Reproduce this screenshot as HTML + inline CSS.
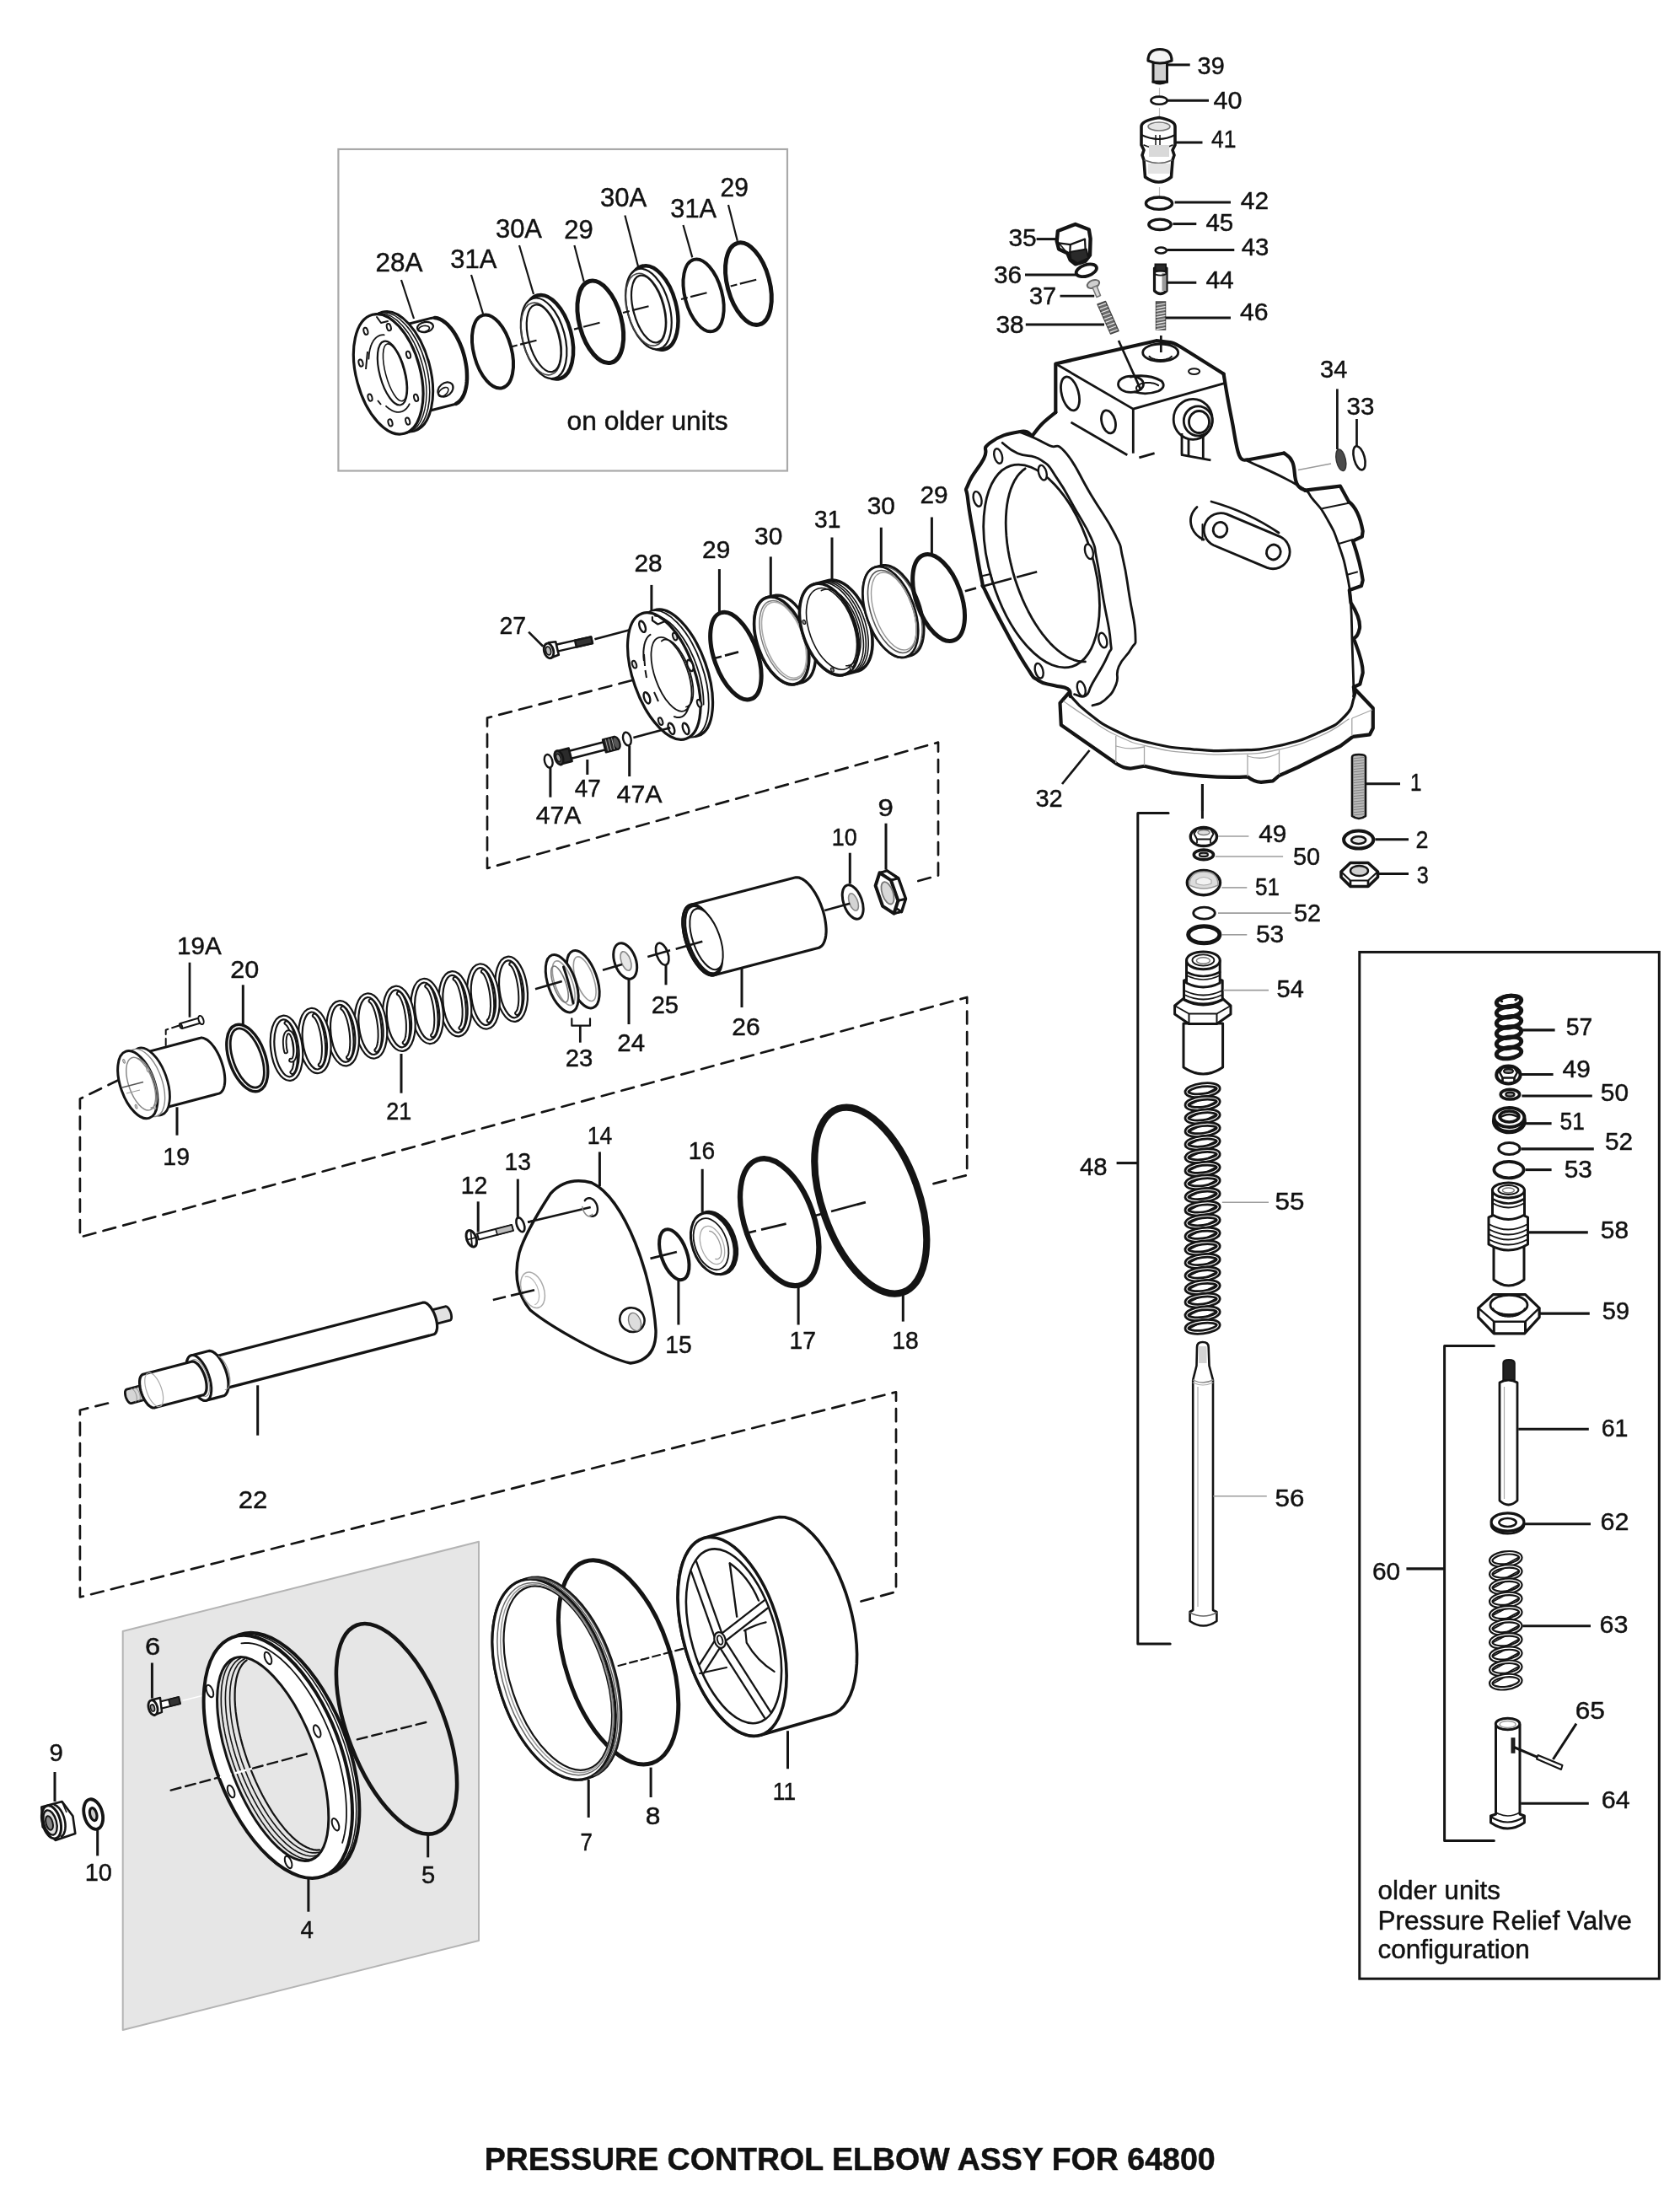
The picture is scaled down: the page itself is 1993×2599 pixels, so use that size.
<!DOCTYPE html>
<html><head><meta charset="utf-8"><title>Pressure Control Elbow Assy</title>
<style>
html,body{margin:0;padding:0;background:#fff;}
body{width:1993px;height:2599px;overflow:hidden;font-family:"Liberation Sans",sans-serif;}
svg{display:block;filter:grayscale(1);}
text{font-family:"Liberation Sans",sans-serif;fill:#111;stroke:#111;stroke-width:0.45px;}
</style></head><body>
<svg width="1993" height="2599" viewBox="0 0 1993 2599">
<rect x="0" y="0" width="1993" height="2599" fill="#ffffff"/>
<text x="574.7" y="2574.0" font-size="36" text-anchor="start" font-weight="bold" textLength="867.0" lengthAdjust="spacingAndGlyphs" >PRESSURE CONTROL ELBOW ASSY FOR 64800</text>
<rect x="401.4" y="177.0" width="532.6" height="381.5" fill="none" stroke="#a9a9a9" stroke-width="2.2" />
<text x="445.6" y="322.2" font-size="31.5" text-anchor="start" font-weight="normal" textLength="56.0" lengthAdjust="spacingAndGlyphs" >28A</text>
<text x="534.3" y="318.0" font-size="31.5" text-anchor="start" font-weight="normal" textLength="55.0" lengthAdjust="spacingAndGlyphs" >31A</text>
<text x="588.0" y="281.5" font-size="31.5" text-anchor="start" font-weight="normal" textLength="55.0" lengthAdjust="spacingAndGlyphs" >30A</text>
<text x="669.3" y="282.5" font-size="31.5" text-anchor="start" font-weight="normal" textLength="34.5" lengthAdjust="spacingAndGlyphs" >29</text>
<text x="712.0" y="244.6" font-size="31.5" text-anchor="start" font-weight="normal" textLength="55.3" lengthAdjust="spacingAndGlyphs" >30A</text>
<text x="795.3" y="257.7" font-size="31.5" text-anchor="start" font-weight="normal" textLength="54.7" lengthAdjust="spacingAndGlyphs" >31A</text>
<text x="854.6" y="232.5" font-size="31.5" text-anchor="start" font-weight="normal" textLength="33.4" lengthAdjust="spacingAndGlyphs" >29</text>
<text x="672.6" y="510.4" font-size="31.5" text-anchor="start" font-weight="normal" textLength="191.0" lengthAdjust="spacingAndGlyphs" >on older units</text>
<line x1="476.0" y1="332.0" x2="491.0" y2="378.0" stroke="#141414" stroke-width="2.2" />
<line x1="559.0" y1="326.0" x2="573.0" y2="372.0" stroke="#141414" stroke-width="2.2" />
<line x1="616.0" y1="291.0" x2="633.0" y2="349.0" stroke="#141414" stroke-width="2.2" />
<line x1="681.4" y1="291.0" x2="692.7" y2="334.0" stroke="#141414" stroke-width="2.2" />
<line x1="741.4" y1="255.4" x2="757.0" y2="316.0" stroke="#141414" stroke-width="2.2" />
<line x1="810.5" y1="267.0" x2="821.3" y2="305.4" stroke="#141414" stroke-width="2.2" />
<line x1="864.0" y1="242.9" x2="874.8" y2="285.7" stroke="#141414" stroke-width="2.2" />
<ellipse cx="584.5" cy="417.0" rx="22.4" ry="44.7" transform="rotate(-15 584.5 417.0)" fill="none" stroke="#141414" stroke-width="4" />
<ellipse cx="650.9" cy="399.8" rx="27.0" ry="51.0" transform="rotate(-15 650.9 399.8)" fill="#fff" stroke="#141414" stroke-width="4.5" />
<ellipse cx="645.1" cy="401.3" rx="25.0" ry="49.0" transform="rotate(-15 645.1 401.3)" fill="#fff" stroke="#141414" stroke-width="2.2" />
<ellipse cx="642.2" cy="402.0" rx="22.0" ry="44.0" transform="rotate(-15 642.2 402.0)" fill="none" stroke="#444" stroke-width="1.6" />
<ellipse cx="645.1" cy="401.3" rx="18.0" ry="41.0" transform="rotate(-15 645.1 401.3)" fill="#fff" stroke="#141414" stroke-width="2.2" />
<ellipse cx="712.3" cy="381.8" rx="25.0" ry="50.0" transform="rotate(-15 712.3 381.8)" fill="none" stroke="#141414" stroke-width="5" />
<ellipse cx="775.2" cy="365.0" rx="27.0" ry="51.0" transform="rotate(-15 775.2 365.0)" fill="#fff" stroke="#141414" stroke-width="4.5" />
<ellipse cx="769.4" cy="366.5" rx="25.0" ry="49.0" transform="rotate(-15 769.4 366.5)" fill="#fff" stroke="#141414" stroke-width="2.2" />
<ellipse cx="766.5" cy="367.2" rx="22.0" ry="44.0" transform="rotate(-15 766.5 367.2)" fill="none" stroke="#444" stroke-width="1.6" />
<ellipse cx="769.4" cy="366.5" rx="18.0" ry="41.0" transform="rotate(-15 769.4 366.5)" fill="#fff" stroke="#141414" stroke-width="2.2" />
<ellipse cx="834.6" cy="350.4" rx="22.0" ry="44.0" transform="rotate(-15 834.6 350.4)" fill="none" stroke="#141414" stroke-width="4" />
<ellipse cx="887.9" cy="336.6" rx="25.0" ry="50.0" transform="rotate(-15 887.9 336.6)" fill="none" stroke="#141414" stroke-width="5" />
<line x1="606.0" y1="411.5" x2="613.7" y2="409.5" stroke="#141414" stroke-width="2.2" />
<line x1="617.1" y1="408.6" x2="636.5" y2="403.7" stroke="#141414" stroke-width="2.2" />
<line x1="681.0" y1="390.6" x2="688.7" y2="388.6" stroke="#141414" stroke-width="2.2" />
<line x1="692.1" y1="387.7" x2="711.5" y2="382.8" stroke="#141414" stroke-width="2.2" />
<line x1="739.0" y1="371.0" x2="746.7" y2="369.0" stroke="#141414" stroke-width="2.2" />
<line x1="750.1" y1="368.1" x2="769.5" y2="363.2" stroke="#141414" stroke-width="2.2" />
<line x1="808.0" y1="355.0" x2="815.7" y2="353.0" stroke="#141414" stroke-width="2.2" />
<line x1="819.1" y1="352.1" x2="838.5" y2="347.2" stroke="#141414" stroke-width="2.2" />
<line x1="866.7" y1="339.5" x2="874.4" y2="337.5" stroke="#141414" stroke-width="2.2" />
<line x1="877.8" y1="336.6" x2="897.2" y2="331.7" stroke="#141414" stroke-width="2.2" />
<path d="M460.9,390.3 L511.3,377.4 L514.0,377.0 L516.9,377.1 L519.9,377.8 L522.9,379.0 L525.9,380.8 L528.9,383.2 L531.9,386.0 L534.8,389.2 L537.6,393.0 L540.3,397.1 L542.8,401.5 L545.1,406.3 L547.2,411.2 L549.0,416.4 L550.6,421.7 L551.9,427.1 L552.9,432.5 L553.6,437.9 L554.0,443.2 L554.0,448.3 L553.8,453.1 L553.2,457.8 L552.3,462.1 L551.1,466.0 L549.7,469.5 L547.9,472.6 L546.0,475.2 L543.7,477.2 L541.3,478.8 L538.7,479.8 L488.4,492.7 Z" fill="#fff" stroke="#141414" stroke-width="3" stroke-linejoin="round" stroke-linecap="round" />
<path d="M515.9,377.0 L517.9,377.3 L520.0,377.8 L522.1,378.6 L524.1,379.7 L526.2,381.1 L528.3,382.6 L530.4,384.4 L532.4,386.5 L534.4,388.7 L536.4,391.2 L538.3,393.9 L540.1,396.7 L541.8,399.7 L543.5,402.9 L545.1,406.2 L546.5,409.6 L547.9,413.1 L549.1,416.6 L550.2,420.3 L551.2,424.0 L552.0,427.7 L552.7,431.4 L553.3,435.1 L553.7,438.8 L553.9,442.4 L554.0,445.9 L554.0,449.4 L553.8,452.7 L553.5,456.0 L553.0,459.0 L552.3,462.0 L551.6,464.7 L550.7,467.3 L549.6,469.6 L548.4,471.8 L547.1,473.7 L545.7,475.4 L544.2,476.9 L542.6,478.1 L540.9,479.0" fill="none" stroke="#141414" stroke-width="4.5" stroke-linejoin="round" stroke-linecap="round" />
<ellipse cx="504.5" cy="388.0" rx="9.5" ry="6.0" transform="rotate(-10 504.5 388.0)" fill="#fff" stroke="#141414" stroke-width="2.2" />
<ellipse cx="503.0" cy="390.0" rx="6.5" ry="3.5" transform="rotate(-10 503.0 390.0)" fill="none" stroke="#141414" stroke-width="1.6" />
<ellipse cx="528.5" cy="462.0" rx="10.0" ry="7.5" transform="rotate(-40 528.5 462.0)" fill="#fff" stroke="#141414" stroke-width="2.2" />
<ellipse cx="526.0" cy="465.0" rx="7.0" ry="4.0" transform="rotate(-40 526.0 465.0)" fill="none" stroke="#141414" stroke-width="1.6" />
<ellipse cx="472.3" cy="440.8" rx="38.0" ry="73.0" transform="rotate(-15 472.3 440.8)" fill="#fff" stroke="#141414" stroke-width="3" />
<ellipse cx="468.4" cy="441.8" rx="38.0" ry="73.0" transform="rotate(-15 468.4 441.8)" fill="#fff" stroke="#141414" stroke-width="1.6" />
<ellipse cx="464.6" cy="442.8" rx="38.0" ry="73.0" transform="rotate(-15 464.6 442.8)" fill="#fff" stroke="#141414" stroke-width="1.4" />
<ellipse cx="460.7" cy="443.8" rx="38.0" ry="73.0" transform="rotate(-15 460.7 443.8)" fill="#fff" stroke="#141414" stroke-width="3.2" />
<ellipse cx="465.5" cy="442.6" rx="15.0" ry="39.0" transform="rotate(-15 465.5 442.6)" fill="#fff" stroke="#141414" stroke-width="2.2" />
<ellipse cx="468.4" cy="441.8" rx="11.0" ry="35.0" transform="rotate(-15 468.4 441.8)" fill="none" stroke="#141414" stroke-width="1.6" />
<path d="M485.7,479.3 L485.3,480.1 L484.8,480.9 L484.4,481.7 L483.9,482.4 L483.3,483.1 L482.8,483.8 L482.3,484.4 L481.7,485.0 L481.1,485.5 L480.5,486.0 L479.9,486.5 L479.2,486.9 L478.6,487.3 L477.9,487.6 L477.3,487.9 L476.6,488.2 L475.9,488.4 L475.2,488.6 L474.4,488.7 L473.7,488.8 L473.0,488.9 L472.2,488.9 L471.5,488.8 L470.7,488.8 L469.9,488.6 L469.1,488.5 L468.3,488.3 L467.6,488.0 L466.8,487.7 L466.0,487.4 L465.2,487.0 L464.4,486.6 L463.6,486.1 L462.8,485.6 L462.0,485.1 L461.2,484.5 L460.4,483.9 L459.6,483.2 L458.8,482.6 L458.0,481.8" fill="none" stroke="#141414" stroke-width="1.8" stroke-linejoin="round" stroke-linecap="round" />
<path d="M437.4,425.7 L437.5,424.4 L437.6,423.2 L437.7,421.9 L437.8,420.7 L437.9,419.5 L438.1,418.3 L438.3,417.1 L438.5,416.0 L438.7,414.9 L439.0,413.8 L439.3,412.7 L439.6,411.7 L439.9,410.7 L440.2,409.7 L440.6,408.8 L441.0,407.8 L441.4,407.0 L441.9,406.1 L442.3,405.3 L442.8,404.5 L443.3,403.8 L443.8,403.1 L444.3,402.4 L444.9,401.8 L445.4,401.2 L446.0,400.7 L446.6,400.1 L447.2,399.7 L447.9,399.2 L448.5,398.9 L449.2,398.5 L449.9,398.2 L450.5,397.9 L451.2,397.7 L451.9,397.5 L452.7,397.4 L453.4,397.3 L454.1,397.2 L454.9,397.2 L455.7,397.3" fill="none" stroke="#141414" stroke-width="1.8" stroke-linejoin="round" stroke-linecap="round" />
<line x1="436.0" y1="417.0" x2="434.0" y2="438.0" stroke="#141414" stroke-width="2" />
<line x1="448.0" y1="475.0" x2="452.0" y2="480.0" stroke="#141414" stroke-width="2" />
<ellipse cx="433.9" cy="392.8" rx="2.4" ry="4.2" transform="rotate(-15 433.9 392.8)" fill="#fff" stroke="#141414" stroke-width="2" />
<ellipse cx="461.3" cy="388.1" rx="2.4" ry="4.2" transform="rotate(-15 461.3 388.1)" fill="#fff" stroke="#141414" stroke-width="2" />
<ellipse cx="484.5" cy="420.8" rx="2.4" ry="4.2" transform="rotate(-15 484.5 420.8)" fill="#fff" stroke="#141414" stroke-width="2" />
<ellipse cx="493.6" cy="471.8" rx="2.4" ry="4.2" transform="rotate(-15 493.6 471.8)" fill="#fff" stroke="#141414" stroke-width="2" />
<ellipse cx="483.7" cy="499.6" rx="2.4" ry="4.2" transform="rotate(-15 483.7 499.6)" fill="#fff" stroke="#141414" stroke-width="2" />
<ellipse cx="463.0" cy="501.4" rx="2.4" ry="4.2" transform="rotate(-15 463.0 501.4)" fill="#fff" stroke="#141414" stroke-width="2" />
<ellipse cx="439.0" cy="471.6" rx="2.4" ry="4.2" transform="rotate(-15 439.0 471.6)" fill="#fff" stroke="#141414" stroke-width="2" />
<ellipse cx="428.0" cy="430.6" rx="2.4" ry="4.2" transform="rotate(-15 428.0 430.6)" fill="#fff" stroke="#141414" stroke-width="2" />
<path d="M447,376 L452,383 L460,381" fill="none" stroke="#141414" stroke-width="2" stroke-linejoin="round" stroke-linecap="round" />
<rect x="1368.0" y="72.0" width="16.5" height="25.0" fill="#cfcfcf" stroke="#141414" stroke-width="3" />
<path d="M1368,97 Q1376,101 1384.5,97" fill="none" stroke="#141414" stroke-width="3" stroke-linejoin="round" stroke-linecap="round" />
<path d="M1362,72 Q1362,58.5 1376,58.5 Q1390,58.5 1390,72 Q1376,78 1362,72 Z" fill="#f4f4f4" stroke="#141414" stroke-width="3.2" stroke-linejoin="round" stroke-linecap="round" />
<line x1="1385.0" y1="76.9" x2="1411.7" y2="76.9" stroke="#141414" stroke-width="3.0" />
<text x="1420.6" y="87.6" font-size="30" text-anchor="start" font-weight="normal" textLength="32.1" lengthAdjust="spacingAndGlyphs" >39</text>
<line x1="1375.5" y1="104.0" x2="1375.5" y2="114.0" stroke="#bdbdbd" stroke-width="1.2" />
<line x1="1375.5" y1="128.0" x2="1375.5" y2="142.0" stroke="#bdbdbd" stroke-width="1.2" />
<line x1="1375.5" y1="222.0" x2="1375.5" y2="236.0" stroke="#bdbdbd" stroke-width="1.2" />
<ellipse cx="1375.0" cy="119.2" rx="9.6" ry="4.6" fill="none" stroke="#141414" stroke-width="2.6" />
<line x1="1385.0" y1="119.2" x2="1434.0" y2="119.2" stroke="#141414" stroke-width="3.0" />
<text x="1439.6" y="128.7" font-size="30" text-anchor="start" font-weight="normal" textLength="34.0" lengthAdjust="spacingAndGlyphs" >40</text>
<path d="M1354,150 Q1354,143 1375,139.5 Q1394,143 1394,150 L1394,172 L1391,178 L1393,184 L1391,190 L1389.5,210 Q1375,222 1358.5,210 L1357,190 L1355,184 L1357,178 L1354,172 Z" fill="#fff" stroke="#141414" stroke-width="3.6" stroke-linejoin="round" stroke-linecap="round" />
<path d="M1354,160 Q1375,170 1394,160" fill="none" stroke="#141414" stroke-width="2" stroke-linejoin="round" stroke-linecap="round" />
<ellipse cx="1375.0" cy="150.0" rx="13.0" ry="5.0" fill="#e4e4e4" stroke="#777" stroke-width="1.6" />
<path d="M1357,172 Q1375,180 1391,172" fill="none" stroke="#141414" stroke-width="1.6" stroke-linejoin="round" stroke-linecap="round" />
<path d="M1358,190 Q1375,197 1390,190" fill="none" stroke="#666" stroke-width="1.6" stroke-linejoin="round" stroke-linecap="round" />
<rect x="1363.0" y="172.0" width="24.0" height="14.0" fill="#d9d9d9" stroke="none" stroke-width="0" />
<rect x="1362.0" y="194.0" width="26.0" height="12.0" fill="#e3e3e3" stroke="none" stroke-width="0" />
<line x1="1371.0" y1="160.0" x2="1371.0" y2="172.0" stroke="#141414" stroke-width="1.5" />
<line x1="1376.0" y1="160.0" x2="1376.0" y2="172.0" stroke="#141414" stroke-width="1.5" />
<line x1="1393.0" y1="169.0" x2="1426.5" y2="169.0" stroke="#141414" stroke-width="3.0" />
<text x="1437.0" y="175.0" font-size="30" text-anchor="start" font-weight="normal" textLength="29.4" lengthAdjust="spacingAndGlyphs" >41</text>
<ellipse cx="1375.0" cy="241.2" rx="15.6" ry="7.2" fill="none" stroke="#141414" stroke-width="3.4" />
<line x1="1393.6" y1="239.9" x2="1460.0" y2="239.9" stroke="#141414" stroke-width="3.0" />
<text x="1471.8" y="248.3" font-size="30" text-anchor="start" font-weight="normal" textLength="33.2" lengthAdjust="spacingAndGlyphs" >42</text>
<ellipse cx="1376.0" cy="266.3" rx="13.2" ry="6.2" fill="none" stroke="#141414" stroke-width="3.4" />
<line x1="1391.4" y1="265.6" x2="1419.3" y2="265.6" stroke="#141414" stroke-width="3.0" />
<text x="1430.4" y="273.6" font-size="30" text-anchor="start" font-weight="normal" textLength="32.8" lengthAdjust="spacingAndGlyphs" >45</text>
<ellipse cx="1377.3" cy="297.0" rx="6.6" ry="3.5" fill="none" stroke="#141414" stroke-width="2.6" />
<line x1="1385.0" y1="296.5" x2="1464.3" y2="296.5" stroke="#141414" stroke-width="3.0" />
<text x="1472.8" y="303.1" font-size="30" text-anchor="start" font-weight="normal" textLength="32.6" lengthAdjust="spacingAndGlyphs" >43</text>
<path d="M1369.5,318 L1369.5,345 Q1376.5,352 1384,345 L1384,318 Z" fill="#fff" stroke="#141414" stroke-width="3.2" stroke-linejoin="round" stroke-linecap="round" />
<rect x="1370.5" y="313.5" width="12.5" height="8.0" fill="#2a2a2a" stroke="#141414" stroke-width="2" />
<rect x="1378.5" y="324.0" width="5.0" height="21.0" fill="#9a9a9a" stroke="none" stroke-width="0" />
<ellipse cx="1376.7" cy="324.0" rx="7.0" ry="2.6" fill="none" stroke="#141414" stroke-width="1.6" />
<line x1="1385.0" y1="335.3" x2="1419.3" y2="335.3" stroke="#141414" stroke-width="3.0" />
<text x="1430.4" y="342.1" font-size="30" text-anchor="start" font-weight="normal" textLength="33.4" lengthAdjust="spacingAndGlyphs" >44</text>
<rect x="1371.5" y="358.0" width="11.0" height="33.0" fill="#6a6a6a" stroke="#444" stroke-width="1.5" />
<line x1="1371.5" y1="362.0" x2="1382.5" y2="360.0" stroke="#e8e8e8" stroke-width="1.2" />
<line x1="1371.5" y1="365.6" x2="1382.5" y2="363.6" stroke="#e8e8e8" stroke-width="1.2" />
<line x1="1371.5" y1="369.2" x2="1382.5" y2="367.2" stroke="#e8e8e8" stroke-width="1.2" />
<line x1="1371.5" y1="372.8" x2="1382.5" y2="370.8" stroke="#e8e8e8" stroke-width="1.2" />
<line x1="1371.5" y1="376.4" x2="1382.5" y2="374.4" stroke="#e8e8e8" stroke-width="1.2" />
<line x1="1371.5" y1="380.0" x2="1382.5" y2="378.0" stroke="#e8e8e8" stroke-width="1.2" />
<line x1="1371.5" y1="383.6" x2="1382.5" y2="381.6" stroke="#e8e8e8" stroke-width="1.2" />
<line x1="1371.5" y1="387.2" x2="1382.5" y2="385.2" stroke="#e8e8e8" stroke-width="1.2" />
<line x1="1371.5" y1="390.8" x2="1382.5" y2="388.8" stroke="#e8e8e8" stroke-width="1.2" />
<line x1="1382.8" y1="376.9" x2="1460.0" y2="376.9" stroke="#141414" stroke-width="3.0" />
<text x="1471.0" y="379.6" font-size="30" text-anchor="start" font-weight="normal" textLength="33.6" lengthAdjust="spacingAndGlyphs" >46</text>
<line x1="1377.3" y1="398.0" x2="1377.3" y2="418.0" stroke="#141414" stroke-width="2.7" />
<path d="M1254.9,274.0 L1275.7,266.0 L1291.8,272.3 L1293.6,283.0 L1293.0,302.6 L1287.6,309.8 L1275.7,313.3 L1269.8,308.6 L1266.2,300.2 L1256.1,295.5 L1253.7,286.0 Z" fill="#fff" stroke="#141414" stroke-width="4.4" stroke-linejoin="round" stroke-linecap="round" />
<path d="M1269.2,299.0 L1288.8,295.5 L1291.2,306.2 L1278.1,312.1 L1270.4,307.4 Z" fill="#2a2a2a" stroke="#141414" stroke-width="2" stroke-linejoin="round" stroke-linecap="round" />
<path d="M1256.1,288.3 L1269.8,290.1 L1287.0,283.6" fill="none" stroke="#141414" stroke-width="2.2" stroke-linejoin="round" stroke-linecap="round" />
<line x1="1269.8" y1="290.1" x2="1269.2" y2="300.2" stroke="#141414" stroke-width="2.2" />
<line x1="1287.0" y1="283.6" x2="1287.6" y2="296.0" stroke="#141414" stroke-width="2.2" />
<line x1="1256.1" y1="288.3" x2="1266.2" y2="300.2" stroke="#141414" stroke-width="1.6" />
<line x1="1229.6" y1="283.6" x2="1254.3" y2="283.6" stroke="#141414" stroke-width="3.0" />
<text x="1196.4" y="292.4" font-size="30" text-anchor="start" font-weight="normal" textLength="33.2" lengthAdjust="spacingAndGlyphs" >35</text>
<ellipse cx="1288.8" cy="320.8" rx="12.6" ry="6.6" transform="rotate(-18 1288.8 320.8)" fill="none" stroke="#141414" stroke-width="3.8" />
<line x1="1216.0" y1="326.0" x2="1276.8" y2="326.0" stroke="#141414" stroke-width="3.0" />
<text x="1178.9" y="336.3" font-size="30" text-anchor="start" font-weight="normal" textLength="33.1" lengthAdjust="spacingAndGlyphs" >36</text>
<ellipse cx="1297.0" cy="337.0" rx="7.5" ry="4.6" transform="rotate(-20 1297.0 337.0)" fill="#cfcfcf" stroke="#666" stroke-width="2" />
<path d="M1296.0,341.0 L1301.0,352.5 L1305.5,350.5 L1301.0,339.0 Z" fill="#d8d8d8" stroke="#777" stroke-width="1.6" stroke-linejoin="round" stroke-linecap="round" />
<line x1="1257.5" y1="351.1" x2="1298.2" y2="351.1" stroke="#141414" stroke-width="2.7" />
<text x="1221.0" y="361.4" font-size="30" text-anchor="start" font-weight="normal" textLength="32.2" lengthAdjust="spacingAndGlyphs" >37</text>
<path d="M1302.0,361.0 L1311.5,357.5 L1327.0,392.5 L1317.5,396.0 Z" fill="#6a6a6a" stroke="#444" stroke-width="1.5" stroke-linejoin="round" stroke-linecap="round" />
<line x1="1303.0" y1="363.0" x2="1312.0" y2="359.6" stroke="#e8e8e8" stroke-width="1.2" />
<line x1="1304.7" y1="366.9" x2="1313.7" y2="363.5" stroke="#e8e8e8" stroke-width="1.2" />
<line x1="1306.4" y1="370.8" x2="1315.4" y2="367.4" stroke="#e8e8e8" stroke-width="1.2" />
<line x1="1308.2" y1="374.7" x2="1317.2" y2="371.3" stroke="#e8e8e8" stroke-width="1.2" />
<line x1="1309.9" y1="378.6" x2="1318.9" y2="375.2" stroke="#e8e8e8" stroke-width="1.2" />
<line x1="1311.6" y1="382.4" x2="1320.6" y2="379.0" stroke="#e8e8e8" stroke-width="1.2" />
<line x1="1313.3" y1="386.3" x2="1322.3" y2="382.9" stroke="#e8e8e8" stroke-width="1.2" />
<line x1="1315.1" y1="390.2" x2="1324.1" y2="386.8" stroke="#e8e8e8" stroke-width="1.2" />
<line x1="1316.8" y1="394.1" x2="1325.8" y2="390.7" stroke="#e8e8e8" stroke-width="1.2" />
<line x1="1216.8" y1="385.0" x2="1310.0" y2="385.0" stroke="#141414" stroke-width="3.0" />
<text x="1181.4" y="394.6" font-size="30" text-anchor="start" font-weight="normal" textLength="33.2" lengthAdjust="spacingAndGlyphs" >38</text>
<line x1="1327.0" y1="404.0" x2="1353.5" y2="462.9" stroke="#141414" stroke-width="2.7" />
<path d="M1208.9,512.2 C1213.7,514.2 1217.4,515.2 1227.0,519.6 C1236.6,524.0 1234.9,523.8 1245.0,528.6 C1255.1,533.4 1251.7,522.1 1264.8,537.7 C1277.9,553.3 1279.0,561.6 1294.3,587.0 C1309.6,612.4 1312.2,612.8 1322.3,633.0 C1332.4,653.2 1327.4,642.6 1332.1,662.6 C1336.8,682.6 1336.1,683.9 1340.0,708.0 C1343.9,732.1 1346.4,736.5 1346.9,752.9 C1347.4,769.3 1347.3,759.3 1342.0,769.4 C1336.7,779.5 1332.0,779.3 1327.2,790.7 C1322.4,802.1 1328.3,801.6 1323.9,812.1 C1319.5,822.6 1318.2,823.6 1310.8,830.2 C1303.4,836.8 1299.9,835.0 1296.0,836.8" fill="none" stroke="#141414" stroke-width="2.8" stroke-linejoin="round" stroke-linecap="round" />
<path d="M1224.5,517.1 C1220.3,515.8 1222.3,510.0 1208.9,512.2 C1195.5,514.4 1185.6,516.8 1174.4,525.3 C1163.2,533.8 1173.8,531.3 1167.0,544.2 C1160.2,557.1 1153.9,561.1 1148.9,573.8 C1143.9,586.5 1146.2,574.2 1148.1,591.9 C1150.0,609.6 1151.6,614.6 1156.0,640.0 C1160.4,665.4 1160.9,670.7 1164.5,687.2 C1168.1,703.7 1161.8,685.8 1169.4,702.0 C1177.0,718.2 1179.9,723.9 1193.0,748.0 C1206.1,772.1 1208.3,776.6 1218.7,792.4 C1229.1,808.2 1223.6,801.7 1231.9,807.2 C1240.2,812.7 1240.8,810.4 1250.0,813.0 C1259.2,815.6 1261.1,813.5 1266.4,817.0 C1271.7,820.5 1268.8,823.6 1269.7,826.0" fill="none" stroke="#141414" stroke-width="4.2" stroke-linejoin="round" stroke-linecap="round" />
<path d="M1189.2,525.3 C1194.0,528.6 1194.9,532.2 1207.2,537.7 C1219.5,543.2 1222.5,537.6 1235.2,545.9 C1247.9,554.2 1244.3,553.7 1254.9,568.9 C1265.5,584.1 1264.5,584.6 1275.0,603.0 C1285.5,621.4 1287.4,622.0 1294.3,637.9 C1301.2,653.8 1297.0,643.1 1300.9,662.6 C1304.8,682.1 1304.6,685.2 1309.0,711.0 C1313.4,736.8 1315.9,741.7 1317.3,759.5 C1318.7,777.3 1319.8,764.0 1314.1,777.6 C1308.4,791.2 1303.0,797.8 1296.0,810.5 C1289.0,823.2 1293.5,821.7 1287.8,825.2 C1282.1,828.7 1278.1,824.0 1274.6,823.6" fill="none" stroke="#141414" stroke-width="2.8" stroke-linejoin="round" stroke-linecap="round" />
<ellipse cx="1235.6" cy="671.5" rx="61.0" ry="124.5" transform="rotate(-17 1235.6 671.5)" fill="none" stroke="#141414" stroke-width="2.8" />
<path d="M1287.4,784.9 L1283.0,784.8 L1278.5,784.1 L1274.0,782.8 L1269.3,780.9 L1264.6,778.4 L1259.9,775.3 L1255.2,771.7 L1250.4,767.5 L1245.8,762.9 L1241.2,757.7 L1236.7,752.1 L1232.3,746.0 L1228.0,739.5 L1223.9,732.7 L1220.0,725.5 L1216.3,718.0 L1212.8,710.3 L1209.6,702.4 L1206.6,694.2 L1203.8,686.0 L1201.4,677.6 L1199.3,669.2 L1197.4,660.8 L1195.9,652.4 L1194.7,644.1 L1193.9,635.9 L1193.4,627.9 L1193.2,620.1 L1193.4,612.6 L1193.9,605.3 L1194.7,598.4 L1195.9,591.8 L1197.4,585.6 L1199.2,579.9 L1201.4,574.6 L1203.8,569.7 L1206.5,565.4 L1209.5,561.7 L1212.8,558.4 L1216.2,555.8" fill="none" stroke="#141414" stroke-width="2.8" stroke-linejoin="round" stroke-linecap="round" />
<ellipse cx="1184.2" cy="541.0" rx="4.6" ry="9.0" transform="rotate(-15 1184.2 541.0)" fill="#fff" stroke="#141414" stroke-width="2.4" />
<ellipse cx="1236.8" cy="560.7" rx="4.6" ry="9.0" transform="rotate(-15 1236.8 560.7)" fill="#fff" stroke="#141414" stroke-width="2.4" />
<ellipse cx="1159.6" cy="591.9" rx="4.6" ry="9.0" transform="rotate(-15 1159.6 591.9)" fill="#fff" stroke="#141414" stroke-width="2.4" />
<ellipse cx="1291.9" cy="654.3" rx="4.6" ry="9.0" transform="rotate(-15 1291.9 654.3)" fill="#fff" stroke="#141414" stroke-width="2.4" />
<ellipse cx="1308.3" cy="759.5" rx="4.6" ry="9.0" transform="rotate(-15 1308.3 759.5)" fill="#fff" stroke="#141414" stroke-width="2.4" />
<ellipse cx="1232.7" cy="795.7" rx="4.6" ry="9.0" transform="rotate(-15 1232.7 795.7)" fill="#fff" stroke="#141414" stroke-width="2.4" />
<ellipse cx="1282.8" cy="817.0" rx="4.6" ry="9.0" transform="rotate(-15 1282.8 817.0)" fill="#fff" stroke="#141414" stroke-width="2.4" />
<path d="M1166.0,683.0 L1175.0,681.0 L1178.0,692.0" fill="none" stroke="#141414" stroke-width="2.2" stroke-linejoin="round" stroke-linecap="round" />
<line x1="1144.8" y1="701.2" x2="1158.0" y2="697.6" stroke="#141414" stroke-width="2.7" />
<line x1="1164.0" y1="696.0" x2="1200.0" y2="686.3" stroke="#141414" stroke-width="2.7" />
<line x1="1206.0" y1="684.7" x2="1230.2" y2="678.2" stroke="#141414" stroke-width="2.7" />
<path d="M1224.5,517.1 C1226.4,514.8 1231.4,507.6 1236.0,503.0 C1240.6,498.4 1249.6,491.5 1252.3,489.2" fill="none" stroke="#141414" stroke-width="4.2" stroke-linejoin="round" stroke-linecap="round" />
<path d="M1252.3,489.2 L1252.3,431.5 L1371.7,404.2 L1387.9,406.2" fill="none" stroke="#141414" stroke-width="4.2" stroke-linejoin="round" stroke-linecap="round" />
<path d="M1387.9,406.2 C1389.2,406.7 1389.5,405.0 1398.0,410.0 C1406.5,415.0 1444.5,439.1 1451.6,443.6" fill="none" stroke="#141414" stroke-width="4.2" stroke-linejoin="round" stroke-linecap="round" />
<path d="M1451.6,443.6 C1452.5,448.9 1454.0,458.7 1456.0,470.0 C1458.0,481.3 1458.9,486.0 1461.7,500.0 C1464.5,514.0 1466.3,530.9 1470.0,540.0 C1473.7,549.1 1478.0,544.4 1480.0,545.5" fill="none" stroke="#141414" stroke-width="4.2" stroke-linejoin="round" stroke-linecap="round" />
<path d="M1480.0,545.5 L1523.3,537.5" fill="none" stroke="#141414" stroke-width="4.2" stroke-linejoin="round" stroke-linecap="round" />
<path d="M1523.3,537.5 C1525.6,540.0 1529.8,539.9 1533.3,548.3 C1536.8,556.7 1534.8,565.5 1538.3,573.3 C1541.8,581.1 1546.0,579.7 1548.3,581.7" fill="none" stroke="#141414" stroke-width="4.2" stroke-linejoin="round" stroke-linecap="round" />
<path d="M1252.3,431.5 L1344.3,485.1 L1451.6,454.8" fill="none" stroke="#141414" stroke-width="2.8" stroke-linejoin="round" stroke-linecap="round" />
<line x1="1344.3" y1="485.1" x2="1344.3" y2="537.7" stroke="#141414" stroke-width="2.8" />
<line x1="1270.5" y1="500.9" x2="1337.3" y2="539.8" stroke="#141414" stroke-width="2.8" />
<line x1="1351.4" y1="542.8" x2="1369.6" y2="537.7" stroke="#141414" stroke-width="2.8" />
<ellipse cx="1376.7" cy="418.3" rx="21.0" ry="10.3" fill="none" stroke="#141414" stroke-width="2.8" />
<path d="M1389.9,422.7 L1389.5,423.1 L1389.2,423.5 L1388.8,423.8 L1388.3,424.1 L1387.8,424.5 L1387.3,424.8 L1386.7,425.1 L1386.1,425.3 L1385.4,425.6 L1384.7,425.8 L1384.0,426.0 L1383.3,426.2 L1382.5,426.4 L1381.7,426.6 L1380.9,426.7 L1380.1,426.8 L1379.3,426.9 L1378.4,427.0 L1377.6,427.0 L1376.7,427.0 L1375.8,427.0 L1375.0,427.0 L1374.1,426.9 L1373.3,426.8 L1372.5,426.7 L1371.7,426.6 L1370.9,426.4 L1370.1,426.2 L1369.4,426.0 L1368.7,425.8 L1368.0,425.6 L1367.3,425.3 L1366.7,425.1 L1366.1,424.8 L1365.6,424.5 L1365.1,424.1 L1364.6,423.8 L1364.2,423.5 L1363.9,423.1 L1363.5,422.7" fill="none" stroke="#141414" stroke-width="2" stroke-linejoin="round" stroke-linecap="round" />
<ellipse cx="1416.6" cy="440.6" rx="6.6" ry="3.4" fill="none" stroke="#141414" stroke-width="2" />
<ellipse cx="1341.5" cy="455.8" rx="15.0" ry="9.6" fill="none" stroke="#141414" stroke-width="2.8" />
<path d="M1341,447 Q1362,443 1378,452 Q1384,459 1374,464 Q1360,469 1346,465" fill="none" stroke="#141414" stroke-width="2.8" stroke-linejoin="round" stroke-linecap="round" />
<path d="M1349.9,463.8 L1349.4,463.3 L1348.9,462.8 L1348.6,462.3 L1348.3,461.9 L1348.1,461.3 L1348.0,460.8 L1348.0,460.3 L1348.1,459.8 L1348.2,459.3 L1348.5,458.8 L1348.8,458.3 L1349.2,457.9 L1349.7,457.4 L1350.3,457.0 L1350.9,456.5 L1351.6,456.2 L1352.4,455.8 L1353.2,455.4 L1354.1,455.1 L1355.0,454.9 L1356.0,454.6 L1357.0,454.4 L1358.0,454.3 L1359.1,454.1 L1360.2,454.1 L1361.3,454.0 L1362.4,454.0 L1363.5,454.0 L1364.6,454.1 L1365.6,454.2 L1366.7,454.4 L1367.7,454.6 L1368.7,454.8 L1369.6,455.0 L1370.5,455.3 L1371.4,455.7 L1372.2,456.0 L1372.9,456.4 L1373.5,456.8 L1374.1,457.2" fill="none" stroke="#141414" stroke-width="2" stroke-linejoin="round" stroke-linecap="round" />
<ellipse cx="1269.5" cy="466.9" rx="10.0" ry="20.5" transform="rotate(-15 1269.5 466.9)" fill="none" stroke="#141414" stroke-width="2.8" />
<ellipse cx="1315.0" cy="500.3" rx="8.0" ry="13.8" transform="rotate(-15 1315.0 500.3)" fill="none" stroke="#141414" stroke-width="2.8" />
<ellipse cx="1415.2" cy="497.3" rx="23.0" ry="24.0" fill="none" stroke="#141414" stroke-width="2.8" />
<ellipse cx="1421.3" cy="499.3" rx="17.0" ry="17.5" fill="none" stroke="#141414" stroke-width="2.8" />
<ellipse cx="1422.5" cy="500.5" rx="12.0" ry="13.0" fill="none" stroke="#141414" stroke-width="2.8" />
<line x1="1402.0" y1="514.0" x2="1402.0" y2="539.5" stroke="#141414" stroke-width="2.8" />
<line x1="1410.0" y1="520.0" x2="1410.0" y2="541.0" stroke="#141414" stroke-width="2.8" />
<line x1="1427.3" y1="517.0" x2="1427.3" y2="544.0" stroke="#141414" stroke-width="2.8" />
<line x1="1401.0" y1="539.4" x2="1436.4" y2="545.8" stroke="#141414" stroke-width="2.8" />
<path d="M1548.3,581.7 L1590,576.7 L1600,595 Q1612,604 1616.7,630 L1615.8,636.7 L1605,641.7 Q1614,668 1616.7,688.3 L1615,695 L1600.8,700 L1602.5,715 Q1614,733 1613,745 Q1611,755 1605.8,757.5 Q1617,785 1616.7,798.3 L1613.3,811.7 L1605.8,815 L1607,822" fill="none" stroke="#141414" stroke-width="4.2" stroke-linejoin="round" stroke-linecap="round" />
<path d="M1480.0,546.7 C1495.5,554.2 1517.4,562.6 1538.3,575.0 C1559.2,587.4 1548.5,582.2 1558.3,593.3 C1568.1,604.4 1567.0,602.5 1575.0,616.7 C1583.0,630.9 1582.1,628.9 1588.3,646.7 C1594.5,664.5 1594.5,664.6 1598.3,683.3 C1602.1,702.0 1600.9,694.5 1602.5,716.7 C1604.1,738.9 1603.3,740.0 1604.2,766.7 C1605.1,793.4 1605.5,800.9 1605.8,816.7 C1606.1,832.5 1605.6,823.5 1605.5,826.0" fill="none" stroke="#141414" stroke-width="2.8" stroke-linejoin="round" stroke-linecap="round" />
<line x1="1568.3" y1="603.3" x2="1600.0" y2="596.7" stroke="#141414" stroke-width="2" />
<line x1="1588.3" y1="645.0" x2="1605.0" y2="640.0" stroke="#141414" stroke-width="2" />
<line x1="1598.3" y1="681.7" x2="1610.8" y2="678.3" stroke="#141414" stroke-width="2" />
<line x1="1540.0" y1="557.5" x2="1579.0" y2="550.0" stroke="#9a9a9a" stroke-width="1.4" />
<path d="M1439.7,646.7 L1503.0,673.4 A20,20 0 0 0 1518.6,636.6 L1455.3,609.9 A20,20 0 0 0 1439.7,646.7 Z" fill="none" stroke="#141414" stroke-width="2.8" stroke-linejoin="round" stroke-linecap="round" />
<ellipse cx="1447.5" cy="628.3" rx="8.3" ry="9.0" transform="rotate(15 1447.5 628.3)" fill="none" stroke="#141414" stroke-width="2.8" />
<ellipse cx="1510.8" cy="655.0" rx="8.3" ry="9.0" transform="rotate(15 1510.8 655.0)" fill="none" stroke="#141414" stroke-width="2.8" />
<path d="M1420,601.5 Q1409,612 1414,626 Q1418,636 1428,640" fill="none" stroke="#141414" stroke-width="2.8" stroke-linejoin="round" stroke-linecap="round" />
<path d="M1437,595 Q1480,607 1517,632" fill="none" stroke="#141414" stroke-width="2.8" stroke-linejoin="round" stroke-linecap="round" />
<line x1="1425.0" y1="640.0" x2="1428.0" y2="640.0" stroke="#141414" stroke-width="2.8" />
<path d="M1426.5,622 L1426.5,638" fill="none" stroke="#141414" stroke-width="2" stroke-linejoin="round" stroke-linecap="round" />
<path d="M1267.5,822.5 L1257.5,833.8 L1258.8,860 L1325,906.3 Q1334,912 1342,911.5 L1357.5,908.8 L1390,916.3 Q1440,923.5 1480,921.3 Q1487,927 1496,927.8 L1510,926.3 L1517.5,920 L1540,910 L1590,885 L1605,873.8 L1625,871.3 L1628.8,863.8 L1628.8,840 L1607.5,817.5" fill="none" stroke="#141414" stroke-width="4.2" stroke-linejoin="round" stroke-linecap="round" />
<path d="M1267.5,822.5 C1273.5,828.5 1274.7,833.0 1290.0,845.0 C1305.3,857.0 1305.0,857.8 1325.0,867.5 C1345.0,877.2 1341.0,875.6 1365.0,881.3 C1389.0,887.0 1388.3,886.5 1415.0,888.8 C1441.7,891.1 1438.3,891.0 1465.0,890.0 C1491.7,889.0 1488.3,890.7 1515.0,885.0 C1541.7,879.3 1543.7,878.1 1565.0,868.8 C1586.3,859.5 1584.0,861.0 1595.0,850.0 C1606.0,839.0 1603.0,836.2 1606.3,827.5 C1609.6,818.8 1607.2,820.2 1607.5,817.5" fill="none" stroke="#141414" stroke-width="3.2" stroke-linejoin="round" stroke-linecap="round" />
<path d="M1262.0,832.0 C1269.5,837.1 1273.2,840.2 1290.0,851.0 C1306.8,861.8 1305.0,863.2 1325.0,872.5 C1345.0,881.8 1341.0,880.5 1365.0,886.0 C1389.0,891.5 1388.3,891.0 1415.0,893.3 C1441.7,895.6 1438.3,895.5 1465.0,894.5 C1491.7,893.5 1488.3,895.1 1515.0,889.5 C1541.7,883.9 1542.3,883.2 1565.0,873.5 C1587.7,863.8 1590.7,858.5 1600.0,853.0" fill="none" stroke="#a5a5a5" stroke-width="1.3" stroke-linejoin="round" stroke-linecap="round" />
<line x1="1323.8" y1="873.0" x2="1323.8" y2="905.0" stroke="#a5a5a5" stroke-width="1.3" />
<line x1="1357.5" y1="885.0" x2="1357.5" y2="908.0" stroke="#a5a5a5" stroke-width="1.3" />
<line x1="1480.0" y1="895.0" x2="1480.0" y2="921.0" stroke="#a5a5a5" stroke-width="1.3" />
<line x1="1517.5" y1="890.0" x2="1517.5" y2="919.0" stroke="#a5a5a5" stroke-width="1.3" />
<line x1="1603.8" y1="852.0" x2="1603.8" y2="873.0" stroke="#a5a5a5" stroke-width="1.3" />
<path d="M1323.8,885 Q1340,890 1357.5,886" fill="none" stroke="#a5a5a5" stroke-width="1.3" stroke-linejoin="round" stroke-linecap="round" />
<path d="M1480,897 Q1500,903 1517.5,893" fill="none" stroke="#a5a5a5" stroke-width="1.3" stroke-linejoin="round" stroke-linecap="round" />
<line x1="1604.0" y1="852.0" x2="1628.0" y2="842.0" stroke="#a5a5a5" stroke-width="1.3" />
<text x="1566.0" y="447.9" font-size="30" text-anchor="start" font-weight="normal" textLength="32.3" lengthAdjust="spacingAndGlyphs" >34</text>
<line x1="1586.4" y1="461.4" x2="1586.4" y2="533.0" stroke="#141414" stroke-width="2.7" />
<text x="1597.6" y="492.0" font-size="30" text-anchor="start" font-weight="normal" textLength="32.9" lengthAdjust="spacingAndGlyphs" >33</text>
<line x1="1609.5" y1="497.0" x2="1609.5" y2="529.3" stroke="#141414" stroke-width="2.7" />
<ellipse cx="1612.5" cy="543.3" rx="6.3" ry="14.5" transform="rotate(-15 1612.5 543.3)" fill="none" stroke="#141414" stroke-width="2.6" />
<ellipse cx="1590.8" cy="545.8" rx="5.5" ry="13.0" transform="rotate(-12 1590.8 545.8)" fill="#4a4a4a" stroke="#333" stroke-width="1.5" />
<text x="1228.4" y="956.9" font-size="30" text-anchor="start" font-weight="normal" textLength="32.2" lengthAdjust="spacingAndGlyphs" >32</text>
<line x1="1292.5" y1="890.0" x2="1260.0" y2="930.0" stroke="#141414" stroke-width="2.7" />
<line x1="1426.3" y1="930.0" x2="1426.3" y2="962.0" stroke="#141414" stroke-width="2.7" />
<path d="M749.0,807.3 L578.0,851.6 L578.0,1030.0 L1113.0,880.6 L1113.0,1038.5 L1084.0,1046.5" fill="none" stroke="#141414" stroke-width="2.7" stroke-linejoin="round" stroke-linecap="round" stroke-dasharray="15 9.5"/>
<text x="592.4" y="751.8" font-size="30" text-anchor="start" font-weight="normal" textLength="31.6" lengthAdjust="spacingAndGlyphs" >27</text>
<line x1="627.1" y1="749.6" x2="644.3" y2="766.8" stroke="#141414" stroke-width="2.7" />
<path d="M660.2,772.8 L703.0,763.2 L701.2,755.4 L658.4,765.0 Z" fill="#fff" stroke="#141414" stroke-width="2.4" stroke-linejoin="round" stroke-linecap="round" />
<path d="M683.8,767.5 L703.0,763.2 L701.2,755.4 L682.0,759.7 Z" fill="#333" stroke="#141414" stroke-width="2.4" stroke-linejoin="round" stroke-linecap="round" />
<path d="M655.0,779.8 L662.8,776.8 L659.2,761.2 L651.0,762.2 Z" fill="#fff" stroke="#141414" stroke-width="2.6" stroke-linejoin="round" stroke-linecap="round" />
<ellipse cx="651.0" cy="772.0" rx="5.5" ry="9.0" transform="rotate(-14 651.0 772.0)" fill="#fff" stroke="#141414" stroke-width="2.8" />
<ellipse cx="650.5" cy="772.0" rx="3.0" ry="5.0" transform="rotate(-14 650.5 772.0)" fill="#bbb" stroke="#141414" stroke-width="1.8" />
<line x1="705.4" y1="758.2" x2="762.1" y2="743.2" stroke="#141414" stroke-width="2.7" />
<text x="752.5" y="677.9" font-size="30" text-anchor="start" font-weight="normal" textLength="33.2" lengthAdjust="spacingAndGlyphs" >28</text>
<line x1="772.9" y1="693.9" x2="772.9" y2="733.6" stroke="#141414" stroke-width="3.0" />
<ellipse cx="802.3" cy="798.3" rx="36.4" ry="78.8" transform="rotate(-19.5 802.3 798.3)" fill="#fff" stroke="#141414" stroke-width="3.2" />
<ellipse cx="797.5" cy="799.5" rx="36.4" ry="78.8" transform="rotate(-19.5 797.5 799.5)" fill="#fff" stroke="#141414" stroke-width="1.8" />
<ellipse cx="787.8" cy="802.0" rx="36.4" ry="78.8" transform="rotate(-19.5 787.8 802.0)" fill="#fff" stroke="#141414" stroke-width="3.2" />
<path d="M777.0,730.7 L778.8,730.8 L780.7,731.2 L782.6,731.7 L784.5,732.4 L786.5,733.3 L788.5,734.4 L790.5,735.7 L792.6,737.2 L794.6,738.8 L796.7,740.6 L798.7,742.5 L800.7,744.6 L802.8,746.9 L804.8,749.3 L806.7,751.8 L808.7,754.5 L810.6,757.3 L812.5,760.2 L814.3,763.3 L816.1,766.4 L817.8,769.6 L819.4,772.9 L821.0,776.3 L822.5,779.7 L824.0,783.2 L825.3,786.8 L826.6,790.4 L827.8,794.0 L828.9,797.6 L829.9,801.2 L830.9,804.8 L831.7,808.5 L832.4,812.0 L833.1,815.6 L833.6,819.1 L834.0,822.6 L834.3,826.0 L834.5,829.3 L834.6,832.6 L834.6,835.7" fill="none" stroke="#141414" stroke-width="1.8" stroke-linejoin="round" stroke-linecap="round" />
<ellipse cx="796.5" cy="799.8" rx="19.6" ry="46.1" transform="rotate(-19.5 796.5 799.8)" fill="#fff" stroke="#141414" stroke-width="1.8" />
<path d="M784.8,760.5 L786.0,759.6 L787.3,758.9 L788.6,758.6 L790.1,758.5 L791.7,758.8 L793.3,759.3 L795.0,760.1 L796.7,761.2 L798.5,762.5 L800.2,764.2 L802.0,766.0 L803.8,768.1 L805.6,770.4 L807.3,773.0 L809.0,775.7 L810.6,778.5 L812.2,781.5 L813.7,784.7 L815.1,787.9 L816.4,791.2 L817.6,794.6 L818.7,798.0 L819.6,801.4 L820.5,804.8 L821.1,808.1 L821.7,811.4 L822.1,814.6 L822.3,817.6 L822.4,820.5 L822.3,823.3 L822.1,825.9 L821.8,828.2 L821.2,830.4 L820.6,832.3 L819.8,834.0 L818.9,835.5 L817.8,836.6 L816.6,837.5 L815.4,838.1 L814.0,838.5" fill="none" stroke="#141414" stroke-width="1.8" stroke-linejoin="round" stroke-linecap="round" />
<path d="M763.8,783.1 L763.7,782.0 L763.6,780.9 L763.5,779.8 L763.4,778.7 L763.4,777.7 L763.4,776.6 L763.4,775.6 L763.4,774.6 L763.4,773.6 L763.4,772.6 L763.5,771.6 L763.6,770.7 L763.7,769.7 L763.8,768.8 L763.9,767.9 L764.0,767.1 L764.2,766.2 L764.3,765.4 L764.5,764.5 L764.7,763.7 L764.9,763.0 L765.1,762.2 L765.4,761.5 L765.6,760.8 L765.9,760.1 L766.2,759.4 L766.5,758.8 L766.8,758.2 L767.1,757.6 L767.4,757.0 L767.8,756.5 L768.1,756.0 L768.5,755.5 L768.9,755.0 L769.3,754.6 L769.7,754.2 L770.2,753.8 L770.6,753.5 L771.0,753.2 L771.5,752.9" fill="none" stroke="#141414" stroke-width="2" stroke-linejoin="round" stroke-linecap="round" />
<path d="M817.1,837.3 L816.9,838.1 L816.7,838.9 L816.5,839.7 L816.2,840.4 L816.0,841.2 L815.7,841.9 L815.5,842.5 L815.2,843.2 L814.9,843.8 L814.6,844.4 L814.3,845.0 L813.9,845.6 L813.6,846.1 L813.2,846.6 L812.8,847.1 L812.4,847.5 L812.0,848.0 L811.6,848.4 L811.2,848.7 L810.7,849.1 L810.3,849.4 L809.8,849.7 L809.3,850.0 L808.9,850.2 L808.4,850.4 L807.9,850.6 L807.3,850.7 L806.8,850.8 L806.3,850.9 L805.7,851.0 L805.2,851.0 L804.6,851.0 L804.1,851.0 L803.5,851.0 L802.9,850.9 L802.3,850.8 L801.7,850.6 L801.1,850.5 L800.5,850.3 L799.9,850.1" fill="none" stroke="#141414" stroke-width="2" stroke-linejoin="round" stroke-linecap="round" />
<line x1="764.0" y1="776.0" x2="765.0" y2="790.0" stroke="#141414" stroke-width="2" />
<line x1="765.5" y1="795.0" x2="767.0" y2="804.0" stroke="#141414" stroke-width="2" />
<line x1="776.0" y1="821.0" x2="781.0" y2="832.0" stroke="#141414" stroke-width="2" />
<ellipse cx="762.1" cy="743.2" rx="3.3" ry="7.0" transform="rotate(-19.5 762.1 743.2)" fill="#fff" stroke="#141414" stroke-width="2.4" />
<path d="M761.2,737.9 L761.4,737.8 L761.5,737.8 L761.7,737.9 L761.9,737.9 L762.1,738.0 L762.3,738.2 L762.5,738.3 L762.7,738.5 L762.9,738.7 L763.1,739.0 L763.3,739.2 L763.6,739.5 L763.8,739.8 L764.0,740.2 L764.2,740.5 L764.4,740.9 L764.5,741.3 L764.7,741.7 L764.9,742.1 L765.0,742.5 L765.2,742.9 L765.3,743.4 L765.4,743.8 L765.5,744.2 L765.6,744.6 L765.7,745.0 L765.7,745.4 L765.8,745.8 L765.8,746.1 L765.8,746.5 L765.8,746.8 L765.8,747.1 L765.7,747.4 L765.7,747.6 L765.6,747.9 L765.5,748.0 L765.4,748.2 L765.3,748.3 L765.1,748.4 L765.0,748.5" fill="none" stroke="#141414" stroke-width="1.5" stroke-linejoin="round" stroke-linecap="round" />
<ellipse cx="818.9" cy="789.3" rx="3.3" ry="7.0" transform="rotate(-19.5 818.9 789.3)" fill="#fff" stroke="#141414" stroke-width="2.4" />
<path d="M818.0,784.0 L818.2,783.9 L818.3,783.9 L818.5,784.0 L818.7,784.0 L818.9,784.1 L819.1,784.3 L819.3,784.4 L819.5,784.6 L819.7,784.8 L819.9,785.1 L820.1,785.3 L820.4,785.6 L820.6,785.9 L820.8,786.3 L821.0,786.6 L821.2,787.0 L821.3,787.4 L821.5,787.8 L821.7,788.2 L821.8,788.6 L822.0,789.0 L822.1,789.5 L822.2,789.9 L822.3,790.3 L822.4,790.7 L822.5,791.1 L822.5,791.5 L822.6,791.9 L822.6,792.2 L822.6,792.6 L822.6,792.9 L822.6,793.2 L822.5,793.5 L822.5,793.7 L822.4,794.0 L822.3,794.1 L822.2,794.3 L822.1,794.4 L821.9,794.5 L821.8,794.6" fill="none" stroke="#141414" stroke-width="1.5" stroke-linejoin="round" stroke-linecap="round" />
<ellipse cx="767.5" cy="827.8" rx="3.3" ry="7.0" transform="rotate(-19.5 767.5 827.8)" fill="#fff" stroke="#141414" stroke-width="2.4" />
<path d="M766.6,822.5 L766.8,822.4 L766.9,822.4 L767.1,822.5 L767.3,822.5 L767.5,822.6 L767.7,822.8 L767.9,822.9 L768.1,823.1 L768.3,823.3 L768.5,823.6 L768.7,823.8 L769.0,824.1 L769.2,824.4 L769.4,824.8 L769.6,825.1 L769.8,825.5 L769.9,825.9 L770.1,826.3 L770.3,826.7 L770.4,827.1 L770.6,827.5 L770.7,828.0 L770.8,828.4 L770.9,828.8 L771.0,829.2 L771.1,829.6 L771.1,830.0 L771.2,830.4 L771.2,830.7 L771.2,831.1 L771.2,831.4 L771.2,831.7 L771.1,832.0 L771.1,832.2 L771.0,832.5 L770.9,832.6 L770.8,832.8 L770.7,832.9 L770.5,833.0 L770.4,833.1" fill="none" stroke="#141414" stroke-width="1.5" stroke-linejoin="round" stroke-linecap="round" />
<ellipse cx="796.4" cy="864.3" rx="3.3" ry="7.0" transform="rotate(-19.5 796.4 864.3)" fill="#fff" stroke="#141414" stroke-width="2.4" />
<path d="M795.5,859.0 L795.7,858.9 L795.8,858.9 L796.0,859.0 L796.2,859.0 L796.4,859.1 L796.6,859.3 L796.8,859.4 L797.0,859.6 L797.2,859.8 L797.4,860.1 L797.6,860.3 L797.9,860.6 L798.1,860.9 L798.3,861.3 L798.5,861.6 L798.7,862.0 L798.8,862.4 L799.0,862.8 L799.2,863.2 L799.3,863.6 L799.5,864.0 L799.6,864.5 L799.7,864.9 L799.8,865.3 L799.9,865.7 L800.0,866.1 L800.0,866.5 L800.1,866.9 L800.1,867.2 L800.1,867.6 L800.1,867.9 L800.1,868.2 L800.0,868.5 L800.0,868.7 L799.9,869.0 L799.8,869.1 L799.7,869.3 L799.6,869.4 L799.4,869.5 L799.3,869.6" fill="none" stroke="#141414" stroke-width="1.5" stroke-linejoin="round" stroke-linecap="round" />
<ellipse cx="813.6" cy="864.3" rx="3.3" ry="7.0" transform="rotate(-19.5 813.6 864.3)" fill="#fff" stroke="#141414" stroke-width="2.4" />
<path d="M812.7,859.0 L812.9,858.9 L813.0,858.9 L813.2,859.0 L813.4,859.0 L813.6,859.1 L813.8,859.3 L814.0,859.4 L814.2,859.6 L814.4,859.8 L814.6,860.1 L814.8,860.3 L815.1,860.6 L815.3,860.9 L815.5,861.3 L815.7,861.6 L815.9,862.0 L816.0,862.4 L816.2,862.8 L816.4,863.2 L816.5,863.6 L816.7,864.0 L816.8,864.5 L816.9,864.9 L817.0,865.3 L817.1,865.7 L817.2,866.1 L817.2,866.5 L817.3,866.9 L817.3,867.2 L817.3,867.6 L817.3,867.9 L817.3,868.2 L817.2,868.5 L817.2,868.7 L817.1,869.0 L817.0,869.1 L816.9,869.3 L816.8,869.4 L816.6,869.5 L816.5,869.6" fill="none" stroke="#141414" stroke-width="1.5" stroke-linejoin="round" stroke-linecap="round" />
<ellipse cx="800.7" cy="755.0" rx="2.4" ry="4.5" transform="rotate(-19.5 800.7 755.0)" fill="#ddd" stroke="#141414" stroke-width="2" />
<ellipse cx="752.5" cy="788.2" rx="2.4" ry="4.5" transform="rotate(-19.5 752.5 788.2)" fill="#ddd" stroke="#141414" stroke-width="2" />
<ellipse cx="829.6" cy="834.3" rx="2.4" ry="4.5" transform="rotate(-19.5 829.6 834.3)" fill="#ddd" stroke="#141414" stroke-width="2" />
<ellipse cx="783.6" cy="855.7" rx="2.4" ry="4.5" transform="rotate(-19.5 783.6 855.7)" fill="#ddd" stroke="#141414" stroke-width="2" />
<path d="M773.9,732 L773.9,736 L780.4,740.5 L788.9,737" fill="none" stroke="#141414" stroke-width="2.2" stroke-linejoin="round" stroke-linecap="round" />
<text x="833.1" y="661.5" font-size="30" text-anchor="start" font-weight="normal" textLength="33.2" lengthAdjust="spacingAndGlyphs" >29</text>
<line x1="853.4" y1="675.1" x2="853.4" y2="727.9" stroke="#141414" stroke-width="3.0" />
<ellipse cx="872.9" cy="778.1" rx="25.7" ry="54.2" transform="rotate(-19.5 872.9 778.1)" fill="none" stroke="#141414" stroke-width="5" />
<line x1="848.0" y1="780.8" x2="856.0" y2="778.7" stroke="#141414" stroke-width="2.7" />
<line x1="860.0" y1="777.6" x2="876.0" y2="773.4" stroke="#141414" stroke-width="2.7" />
<text x="895.1" y="645.6" font-size="30" text-anchor="start" font-weight="normal" textLength="33.2" lengthAdjust="spacingAndGlyphs" >30</text>
<line x1="914.3" y1="660.4" x2="914.3" y2="707.6" stroke="#141414" stroke-width="3.0" />
<path d="M945.3,811.0 L942.3,811.7 L939.2,811.9 L936.0,811.5 L932.7,810.5 L929.3,809.0 L925.9,806.9 L922.5,804.3 L919.2,801.3 L915.9,797.7 L912.8,793.8 L909.8,789.5 L907.0,784.9 L904.5,780.0 L902.1,774.9 L900.1,769.6 L898.4,764.2 L896.9,758.8 L895.9,753.4 L895.1,748.0 L894.7,742.8 L894.7,737.8 L895.0,733.0 L895.6,728.5 L896.7,724.4 L898.0,720.6 L899.7,717.3 L901.6,714.5 L903.9,712.1 L906.4,710.3 L909.1,709.0 L916.9,707.0 L919.8,706.3 L922.9,706.1 L926.1,706.5 L929.5,707.5 L932.9,709.0 L936.3,711.1 L939.7,713.7 L943.0,716.8 L946.2,720.3 L949.4,724.2 L952.4,728.5 L955.1,733.1 L957.7,738.0 L960.0,743.1 L962.0,748.4 L963.8,753.8 L965.2,759.2 L966.3,764.6 L967.0,770.0 L967.4,775.2 L967.5,780.2 L967.2,785.0 L966.5,789.5 L965.5,793.6 L964.1,797.4 L962.5,800.7 L960.5,803.6 L958.2,805.9 L955.7,807.7 L953.0,809.0 Z" fill="#fff" stroke="#141414" stroke-width="3.4" stroke-linejoin="round" stroke-linecap="round" />
<ellipse cx="927.2" cy="760.0" rx="28.7" ry="54.1" transform="rotate(-19.5 927.2 760.0)" fill="#fff" stroke="#141414" stroke-width="3.6" />
<ellipse cx="929.1" cy="759.5" rx="24.2" ry="49.1" transform="rotate(-19.5 929.1 759.5)" fill="none" stroke="#777" stroke-width="1.4" />
<ellipse cx="930.1" cy="759.3" rx="22.7" ry="47.0" transform="rotate(-19.5 930.1 759.3)" fill="none" stroke="#aaa" stroke-width="1.6" />
<text x="966.0" y="626.4" font-size="30" text-anchor="start" font-weight="normal" textLength="31.3" lengthAdjust="spacingAndGlyphs" >31</text>
<line x1="987.0" y1="637.5" x2="987.0" y2="689.2" stroke="#141414" stroke-width="3.0" />
<path d="M1002.4,799.9 L999.2,800.7 L995.9,800.9 L992.4,800.5 L988.8,799.5 L985.2,798.0 L981.5,795.9 L977.8,793.2 L974.3,790.0 L970.8,786.4 L967.4,782.3 L964.3,777.8 L961.3,773.0 L958.6,767.9 L956.2,762.6 L954.1,757.1 L952.3,751.4 L950.8,745.8 L949.7,740.1 L948.9,734.5 L948.6,729.0 L948.6,723.8 L949.0,718.7 L949.8,714.0 L951.0,709.7 L952.5,705.7 L954.3,702.2 L956.5,699.2 L959.0,696.7 L961.7,694.7 L964.7,693.3 L981.2,689.1 L984.4,688.3 L987.7,688.1 L991.2,688.5 L994.8,689.5 L998.4,691.0 L1002.1,693.1 L1005.8,695.8 L1009.3,699.0 L1012.8,702.6 L1016.2,706.7 L1019.3,711.2 L1022.3,716.0 L1025.0,721.1 L1027.4,726.4 L1029.5,731.9 L1031.3,737.6 L1032.8,743.2 L1033.9,748.9 L1034.7,754.5 L1035.0,760.0 L1035.0,765.2 L1034.6,770.3 L1033.8,775.0 L1032.6,779.3 L1031.1,783.3 L1029.3,786.8 L1027.1,789.8 L1024.6,792.3 L1021.9,794.3 L1018.9,795.7 Z" fill="#fff" stroke="#141414" stroke-width="3.6" stroke-linejoin="round" stroke-linecap="round" />
<ellipse cx="983.6" cy="746.6" rx="31.3" ry="56.5" transform="rotate(-19.5 983.6 746.6)" fill="#fff" stroke="#141414" stroke-width="3.4" />
<ellipse cx="986.5" cy="745.9" rx="26.3" ry="50.4" transform="rotate(-19.5 986.5 745.9)" fill="none" stroke="#141414" stroke-width="1.6" />
<path d="M974.4,700.6 L976.4,699.8 L978.5,699.2 L980.7,698.9 L983.0,699.0 L985.4,699.4 L987.8,700.2 L990.2,701.2 L992.6,702.6 L995.1,704.3 L997.5,706.2 L999.9,708.5 L1002.2,711.0 L1004.5,713.7 L1006.7,716.7 L1008.7,719.8 L1010.7,723.2 L1012.5,726.7 L1014.2,730.3 L1015.7,734.0 L1017.0,737.8 L1018.2,741.7 L1019.2,745.5 L1019.9,749.4 L1020.5,753.2 L1020.9,757.0 L1021.1,760.6 L1021.0,764.2 L1020.8,767.6 L1020.3,770.8 L1019.7,773.9 L1018.8,776.7 L1017.8,779.3 L1016.6,781.6 L1015.1,783.7 L1013.6,785.5 L1011.8,787.0 L1010.0,788.2 L1008.0,789.1 L1005.9,789.6 L1003.7,789.8" fill="none" stroke="#141414" stroke-width="1.6" stroke-linejoin="round" stroke-linecap="round" />
<path d="M971.6,691.5 L973.9,691.0 L976.4,690.8 L978.9,691.0 L981.5,691.4 L984.1,692.2 L986.8,693.3 L989.5,694.7 L992.2,696.4 L994.9,698.3 L997.5,700.6 L1000.1,703.1 L1002.6,705.9 L1005.1,708.9 L1007.4,712.1 L1009.7,715.5 L1011.8,719.1 L1013.8,722.8 L1015.6,726.6 L1017.3,730.6 L1018.9,734.7 L1020.2,738.8 L1021.4,742.9 L1022.4,747.1 L1023.2,751.3 L1023.8,755.4 L1024.2,759.5 L1024.4,763.4 L1024.4,767.3 L1024.1,771.0 L1023.7,774.6 L1023.1,778.0 L1022.2,781.2 L1021.2,784.2 L1020.0,787.0 L1018.6,789.5 L1017.0,791.8 L1015.3,793.8 L1013.4,795.5 L1011.4,796.9 L1009.3,798.0" fill="none" stroke="#141414" stroke-width="1.6" stroke-linejoin="round" stroke-linecap="round" />
<path d="M974.5,690.8 L976.8,690.3 L979.3,690.1 L981.8,690.2 L984.4,690.7 L987.0,691.5 L989.7,692.5 L992.4,693.9 L995.1,695.6 L997.8,697.6 L1000.4,699.9 L1003.0,702.4 L1005.5,705.1 L1008.0,708.1 L1010.3,711.3 L1012.6,714.7 L1014.7,718.3 L1016.7,722.0 L1018.6,725.9 L1020.3,729.9 L1021.8,733.9 L1023.1,738.0 L1024.3,742.2 L1025.3,746.4 L1026.1,750.5 L1026.7,754.6 L1027.1,758.7 L1027.3,762.7 L1027.3,766.5 L1027.0,770.3 L1026.6,773.9 L1026.0,777.3 L1025.1,780.5 L1024.1,783.5 L1022.9,786.3 L1021.5,788.8 L1020.0,791.1 L1018.2,793.1 L1016.3,794.8 L1014.3,796.2 L1012.2,797.3" fill="none" stroke="#141414" stroke-width="1.6" stroke-linejoin="round" stroke-linecap="round" />
<path d="M977.4,690.0 L979.7,689.5 L982.2,689.3 L984.7,689.5 L987.3,689.9 L990.0,690.7 L992.6,691.8 L995.3,693.2 L998.0,694.9 L1000.7,696.9 L1003.3,699.1 L1005.9,701.6 L1008.4,704.4 L1010.9,707.4 L1013.2,710.6 L1015.5,714.0 L1017.6,717.6 L1019.6,721.3 L1021.5,725.2 L1023.2,729.1 L1024.7,733.2 L1026.1,737.3 L1027.2,741.5 L1028.2,745.6 L1029.0,749.8 L1029.6,753.9 L1030.0,758.0 L1030.2,761.9 L1030.2,765.8 L1029.9,769.5 L1029.5,773.1 L1028.9,776.5 L1028.1,779.8 L1027.0,782.8 L1025.8,785.5 L1024.4,788.1 L1022.9,790.3 L1021.1,792.3 L1019.3,794.0 L1017.2,795.4 L1015.1,796.5" fill="none" stroke="#141414" stroke-width="1.6" stroke-linejoin="round" stroke-linecap="round" />
<ellipse cx="953.9" cy="737.9" rx="1.7" ry="2.6" transform="rotate(-19.5 953.9 737.9)" fill="#999" stroke="#141414" stroke-width="1.2" />
<ellipse cx="987.4" cy="794.6" rx="1.7" ry="2.6" transform="rotate(-19.5 987.4 794.6)" fill="#999" stroke="#141414" stroke-width="1.2" />
<ellipse cx="1009.8" cy="792.3" rx="1.7" ry="2.6" transform="rotate(-19.5 1009.8 792.3)" fill="#999" stroke="#141414" stroke-width="1.2" />
<text x="1028.7" y="609.8" font-size="30" text-anchor="start" font-weight="normal" textLength="33.2" lengthAdjust="spacingAndGlyphs" >30</text>
<line x1="1045.3" y1="625.7" x2="1045.3" y2="670.7" stroke="#141414" stroke-width="3.0" />
<path d="M1075.2,779.0 L1072.2,779.7 L1069.1,779.8 L1065.9,779.3 L1062.6,778.3 L1059.2,776.6 L1055.7,774.5 L1052.3,771.7 L1048.9,768.5 L1045.6,764.8 L1042.5,760.7 L1039.4,756.3 L1036.6,751.4 L1034.0,746.3 L1031.6,741.0 L1029.5,735.5 L1027.7,729.9 L1026.2,724.3 L1025.0,718.7 L1024.2,713.2 L1023.7,707.8 L1023.6,702.6 L1023.8,697.6 L1024.4,693.0 L1025.4,688.8 L1026.7,684.9 L1028.3,681.5 L1030.2,678.6 L1032.5,676.2 L1034.9,674.3 L1037.6,673.0 L1044.4,671.3 L1047.3,670.6 L1050.4,670.5 L1053.7,670.9 L1057.0,672.0 L1060.4,673.6 L1063.8,675.8 L1067.3,678.5 L1070.6,681.7 L1073.9,685.4 L1077.1,689.5 L1080.2,694.0 L1083.0,698.8 L1085.6,703.9 L1088.0,709.2 L1090.1,714.7 L1091.9,720.3 L1093.4,725.9 L1094.6,731.6 L1095.4,737.1 L1095.9,742.5 L1096.0,747.7 L1095.7,752.6 L1095.1,757.2 L1094.2,761.5 L1092.9,765.4 L1091.3,768.8 L1089.3,771.7 L1087.1,774.1 L1084.6,775.9 L1081.9,777.2 Z" fill="#fff" stroke="#141414" stroke-width="3" stroke-linejoin="round" stroke-linecap="round" />
<ellipse cx="1056.4" cy="726.0" rx="28.6" ry="56.2" transform="rotate(-19.5 1056.4 726.0)" fill="#fff" stroke="#141414" stroke-width="2.6" />
<ellipse cx="1058.3" cy="725.5" rx="24.6" ry="51.1" transform="rotate(-19.5 1058.3 725.5)" fill="none" stroke="#555" stroke-width="1.6" />
<ellipse cx="1060.3" cy="725.0" rx="22.7" ry="48.1" transform="rotate(-19.5 1060.3 725.0)" fill="none" stroke="#999" stroke-width="1.4" />
<path d="M1049.7,672.4 L1051.7,672.6 L1053.7,673.0 L1055.8,673.6 L1057.9,674.5 L1060.0,675.6 L1062.2,677.0 L1064.3,678.6 L1066.5,680.4 L1068.6,682.4 L1070.7,684.7 L1072.8,687.1 L1074.8,689.7 L1076.8,692.5 L1078.7,695.4 L1080.5,698.5 L1082.2,701.7 L1083.9,705.0 L1085.4,708.4 L1086.9,711.9 L1088.2,715.4 L1089.4,719.0 L1090.4,722.6 L1091.4,726.2 L1092.2,729.8 L1092.9,733.4 L1093.4,736.9 L1093.7,740.4 L1094.0,743.8 L1094.0,747.1 L1094.0,750.3 L1093.7,753.4 L1093.3,756.3 L1092.8,759.1 L1092.2,761.6 L1091.3,764.1 L1090.4,766.3 L1089.3,768.3 L1088.1,770.1 L1086.8,771.7 L1085.3,773.0" fill="none" stroke="#555" stroke-width="1.4" stroke-linejoin="round" stroke-linecap="round" />
<text x="1091.4" y="596.9" font-size="30" text-anchor="start" font-weight="normal" textLength="33.2" lengthAdjust="spacingAndGlyphs" >29</text>
<line x1="1105.4" y1="613.5" x2="1105.4" y2="656.7" stroke="#141414" stroke-width="3.0" />
<ellipse cx="1113.6" cy="709.0" rx="26.7" ry="53.7" transform="rotate(-19.5 1113.6 709.0)" fill="none" stroke="#141414" stroke-width="5" />
<path d="M665.2,903.1 L731.2,886.1 L728.8,876.9 L662.8,893.9 Z" fill="#fff" stroke="#141414" stroke-width="2.6" stroke-linejoin="round" stroke-linecap="round" />
<path d="M665.0,906.5 L678.6,903.1 L674.6,887.6 L661.0,891.1 Z" fill="#2b2b2b" stroke="#141414" stroke-width="2.6" stroke-linejoin="round" stroke-linecap="round" />
<ellipse cx="663.0" cy="898.8" rx="4.7" ry="8.6" transform="rotate(-19.5 663.0 898.8)" fill="#444" stroke="#141414" stroke-width="2.6" />
<ellipse cx="662.5" cy="899.0" rx="2.4" ry="4.7" transform="rotate(-19.5 662.5 899.0)" fill="#999" stroke="#141414" stroke-width="1.4" />
<path d="M718.9,892.2 L732.4,888.7 L728.7,874.1 L715.1,877.6 Z" fill="#2b2b2b" stroke="#141414" stroke-width="2.6" stroke-linejoin="round" stroke-linecap="round" />
<ellipse cx="731.0" cy="881.3" rx="4.1" ry="7.8" transform="rotate(-19.5 731.0 881.3)" fill="#555" stroke="#141414" stroke-width="2.2" />
<line x1="721.7" y1="890.8" x2="718.3" y2="877.2" stroke="#aaa" stroke-width="1" />
<line x1="725.3" y1="889.9" x2="721.9" y2="876.3" stroke="#aaa" stroke-width="1" />
<line x1="728.9" y1="889.0" x2="725.5" y2="875.4" stroke="#aaa" stroke-width="1" />
<text x="681.8" y="945.0" font-size="30" text-anchor="start" font-weight="normal" textLength="31.0" lengthAdjust="spacingAndGlyphs" >47</text>
<line x1="696.8" y1="901.0" x2="696.8" y2="918.9" stroke="#141414" stroke-width="3.0" />
<ellipse cx="650.7" cy="902.8" rx="4.6" ry="8.0" transform="rotate(-15 650.7 902.8)" fill="none" stroke="#141414" stroke-width="2.4" />
<line x1="652.9" y1="910.8" x2="652.9" y2="945.7" stroke="#141414" stroke-width="3.0" />
<text x="635.7" y="977.0" font-size="30" text-anchor="start" font-weight="normal" textLength="53.5" lengthAdjust="spacingAndGlyphs" >47A</text>
<ellipse cx="743.9" cy="876.5" rx="4.6" ry="8.0" transform="rotate(-15 743.9 876.5)" fill="none" stroke="#141414" stroke-width="2.4" />
<line x1="746.7" y1="884.6" x2="746.7" y2="921.0" stroke="#141414" stroke-width="3.0" />
<text x="731.6" y="952.0" font-size="30" text-anchor="start" font-weight="normal" textLength="54.0" lengthAdjust="spacingAndGlyphs" >47A</text>
<line x1="751.4" y1="875.0" x2="795.3" y2="863.2" stroke="#141414" stroke-width="2.7" />
<path d="M142.0,1280.5 L94.9,1303.5 L94.9,1467.5 L1147.2,1183.0 L1147.2,1394.0 L1100.0,1406.0" fill="none" stroke="#141414" stroke-width="2.7" stroke-linejoin="round" stroke-linecap="round" stroke-dasharray="15 9.5"/>
<text x="210.0" y="1131.7" font-size="30" text-anchor="start" font-weight="normal" textLength="52.7" lengthAdjust="spacingAndGlyphs" >19A</text>
<line x1="225.0" y1="1141.7" x2="225.0" y2="1206.7" stroke="#141414" stroke-width="2.7" />
<path d="M214.0,1214.0 L236.0,1207.5 L238.0,1213.5 L216.0,1220.0 Z" fill="#fff" stroke="#141414" stroke-width="2" stroke-linejoin="round" stroke-linecap="round" />
<ellipse cx="238.5" cy="1210.0" rx="2.8" ry="5.3" transform="rotate(-19.5 238.5 1210.0)" fill="#fff" stroke="#141414" stroke-width="2" />
<ellipse cx="214.5" cy="1217.0" rx="1.5" ry="3.1" transform="rotate(-19.5 214.5 1217.0)" fill="#333" stroke="#141414" stroke-width="1.6" />
<path d="M211.7,1216.7 L196.7,1221.7 L196.7,1263.3 L183.3,1266.7" fill="none" stroke="#141414" stroke-width="2" stroke-linejoin="round" stroke-linecap="round" stroke-dasharray="8 5"/>
<path d="M182.7,1317.5 L181.1,1317.9 L179.4,1317.9 L177.6,1317.5 L175.8,1316.8 L173.9,1315.7 L172.0,1314.3 L170.0,1312.5 L168.1,1310.5 L166.2,1308.1 L164.4,1305.5 L162.6,1302.7 L160.9,1299.7 L159.4,1296.5 L157.9,1293.2 L156.6,1289.8 L155.5,1286.4 L154.5,1282.9 L153.8,1279.4 L153.2,1276.0 L152.8,1272.7 L152.6,1269.6 L152.6,1266.6 L152.8,1263.7 L153.2,1261.2 L153.8,1258.8 L154.6,1256.8 L155.5,1255.1 L156.7,1253.7 L158.0,1252.6 L159.4,1251.9 L236.7,1231.5 L238.3,1231.1 L239.9,1231.1 L241.7,1231.5 L243.5,1232.3 L245.4,1233.3 L247.4,1234.8 L249.3,1236.5 L251.2,1238.6 L253.1,1240.9 L255.0,1243.5 L256.7,1246.3 L258.4,1249.3 L260.0,1252.5 L261.4,1255.8 L262.7,1259.2 L263.8,1262.7 L264.8,1266.1 L265.6,1269.6 L266.2,1273.0 L266.6,1276.3 L266.8,1279.5 L266.8,1282.5 L266.6,1285.3 L266.2,1287.8 L265.6,1290.2 L264.8,1292.2 L263.8,1293.9 L262.7,1295.3 L261.4,1296.4 L259.9,1297.1 Z" fill="#fff" stroke="#141414" stroke-width="3" stroke-linejoin="round" stroke-linecap="round" />
<ellipse cx="177.8" cy="1283.0" rx="20.2" ry="41.9" transform="rotate(-19.5 177.8 1283.0)" fill="#fff" stroke="#141414" stroke-width="2.8" />
<ellipse cx="172.0" cy="1284.5" rx="20.2" ry="41.9" transform="rotate(-19.5 172.0 1284.5)" fill="#fff" stroke="#888" stroke-width="1.4" />
<ellipse cx="163.3" cy="1286.7" rx="20.2" ry="41.9" transform="rotate(-19.5 163.3 1286.7)" fill="#fff" stroke="#141414" stroke-width="3" />
<ellipse cx="167.2" cy="1285.7" rx="14.4" ry="32.8" transform="rotate(-19.5 167.2 1285.7)" fill="none" stroke="#888" stroke-width="1.5" />
<path d="M163.0,1255.5 L164.0,1255.6 L165.1,1256.0 L166.3,1256.5 L167.4,1257.2 L168.6,1258.1 L169.8,1259.1 L171.0,1260.3 L172.3,1261.6 L173.5,1263.1 L174.7,1264.7 L175.8,1266.5 L177.0,1268.3 L178.1,1270.3 L179.1,1272.3 L180.1,1274.4 L181.1,1276.6 L182.0,1278.8 L182.8,1281.1 L183.6,1283.4 L184.2,1285.7 L184.8,1288.0 L185.3,1290.3 L185.8,1292.5 L186.1,1294.7 L186.3,1296.8 L186.5,1298.9 L186.5,1300.8 L186.5,1302.7 L186.3,1304.5 L186.1,1306.1 L185.8,1307.6 L185.4,1309.0 L184.8,1310.2 L184.2,1311.2 L183.6,1312.1 L182.8,1312.8 L182.0,1313.4 L181.1,1313.8 L180.2,1313.9 L179.1,1314.0" fill="none" stroke="#888" stroke-width="1.4" stroke-linejoin="round" stroke-linecap="round" />
<line x1="145.0" y1="1290.0" x2="170.0" y2="1283.5" stroke="#555" stroke-width="1.6" />
<line x1="150.0" y1="1297.0" x2="166.0" y2="1293.0" stroke="#999" stroke-width="1.2" />
<ellipse cx="147.0" cy="1258.8" rx="1.2" ry="2.5" transform="rotate(-19.5 147.0 1258.8)" fill="#ccc" stroke="#888" stroke-width="1" />
<ellipse cx="175.4" cy="1269.2" rx="1.2" ry="2.5" transform="rotate(-19.5 175.4 1269.2)" fill="#ccc" stroke="#888" stroke-width="1" />
<ellipse cx="183.5" cy="1313.6" rx="1.2" ry="2.5" transform="rotate(-19.5 183.5 1313.6)" fill="#ccc" stroke="#888" stroke-width="1" />
<ellipse cx="161.5" cy="1312.7" rx="1.2" ry="2.5" transform="rotate(-19.5 161.5 1312.7)" fill="#ccc" stroke="#888" stroke-width="1" />
<text x="193.3" y="1381.7" font-size="30" text-anchor="start" font-weight="normal" textLength="31.7" lengthAdjust="spacingAndGlyphs" >19</text>
<line x1="210.0" y1="1313.3" x2="210.0" y2="1346.7" stroke="#141414" stroke-width="3.0" />
<text x="273.3" y="1160.0" font-size="30" text-anchor="start" font-weight="normal" textLength="34.0" lengthAdjust="spacingAndGlyphs" >20</text>
<line x1="288.3" y1="1168.3" x2="288.3" y2="1215.0" stroke="#141414" stroke-width="3.0" />
<ellipse cx="293.3" cy="1255.0" rx="21.4" ry="41.4" transform="rotate(-19.5 293.3 1255.0)" fill="none" stroke="#141414" stroke-width="3.4" />
<ellipse cx="293.3" cy="1255.0" rx="16.8" ry="36.8" transform="rotate(-19.5 293.3 1255.0)" fill="none" stroke="#141414" stroke-width="2.8" />
<ellipse cx="606.7" cy="1173.3" rx="16.5" ry="36.5" transform="rotate(-7 606.7 1173.3)" fill="none" stroke="#141414" stroke-width="6.8" />
<ellipse cx="606.7" cy="1173.3" rx="16.5" ry="36.5" transform="rotate(-7 606.7 1173.3)" fill="none" stroke="#fff" stroke-width="2.4" />
<path d="M606.4,1143.5 L607.0,1143.9 L607.6,1144.4 L608.3,1145.1 L608.9,1146.0 L609.5,1146.9 L610.2,1148.0 L610.8,1149.2 L611.4,1150.5 L612.0,1151.9 L612.5,1153.5 L613.1,1155.1 L613.6,1156.8 L614.1,1158.5 L614.6,1160.4 L615.0,1162.2 L615.4,1164.2 L615.8,1166.2 L616.1,1168.2 L616.4,1170.2 L616.7,1172.3 L616.9,1174.3 L617.1,1176.4 L617.2,1178.4 L617.3,1180.4 L617.4,1182.4 L617.4,1184.3 L617.4,1186.2 L617.3,1188.0 L617.2,1189.7 L617.0,1191.4 L616.8,1192.9 L616.5,1194.4 L616.2,1195.7 L615.9,1197.0 L615.6,1198.1 L615.2,1199.2 L614.7,1200.1 L614.3,1200.8 L613.8,1201.4 L613.3,1201.9" fill="none" stroke="#141414" stroke-width="6.2" stroke-linejoin="round" stroke-linecap="round" />
<path d="M606.4,1143.5 L607.0,1143.9 L607.6,1144.4 L608.3,1145.1 L608.9,1146.0 L609.5,1146.9 L610.2,1148.0 L610.8,1149.2 L611.4,1150.5 L612.0,1151.9 L612.5,1153.5 L613.1,1155.1 L613.6,1156.8 L614.1,1158.5 L614.6,1160.4 L615.0,1162.2 L615.4,1164.2 L615.8,1166.2 L616.1,1168.2 L616.4,1170.2 L616.7,1172.3 L616.9,1174.3 L617.1,1176.4 L617.2,1178.4 L617.3,1180.4 L617.4,1182.4 L617.4,1184.3 L617.4,1186.2 L617.3,1188.0 L617.2,1189.7 L617.0,1191.4 L616.8,1192.9 L616.5,1194.4 L616.2,1195.7 L615.9,1197.0 L615.6,1198.1 L615.2,1199.2 L614.7,1200.1 L614.3,1200.8 L613.8,1201.4 L613.3,1201.9" fill="none" stroke="#fff" stroke-width="2.2" stroke-linejoin="round" stroke-linecap="round" />
<ellipse cx="573.4" cy="1182.0" rx="16.5" ry="36.5" transform="rotate(-7 573.4 1182.0)" fill="none" stroke="#141414" stroke-width="6.8" />
<ellipse cx="573.4" cy="1182.0" rx="16.5" ry="36.5" transform="rotate(-7 573.4 1182.0)" fill="none" stroke="#fff" stroke-width="2.4" />
<path d="M573.0,1152.2 L573.7,1152.6 L574.3,1153.2 L574.9,1153.9 L575.6,1154.7 L576.2,1155.7 L576.8,1156.8 L577.4,1158.0 L578.0,1159.3 L578.6,1160.7 L579.2,1162.2 L579.7,1163.8 L580.3,1165.5 L580.8,1167.3 L581.2,1169.1 L581.7,1171.0 L582.1,1172.9 L582.5,1174.9 L582.8,1176.9 L583.1,1179.0 L583.4,1181.0 L583.6,1183.1 L583.8,1185.1 L583.9,1187.2 L584.0,1189.2 L584.0,1191.1 L584.1,1193.1 L584.0,1194.9 L583.9,1196.7 L583.8,1198.5 L583.7,1200.1 L583.4,1201.7 L583.2,1203.1 L582.9,1204.5 L582.6,1205.7 L582.2,1206.9 L581.8,1207.9 L581.4,1208.8 L580.9,1209.6 L580.4,1210.2 L579.9,1210.7" fill="none" stroke="#141414" stroke-width="6.2" stroke-linejoin="round" stroke-linecap="round" />
<path d="M573.0,1152.2 L573.7,1152.6 L574.3,1153.2 L574.9,1153.9 L575.6,1154.7 L576.2,1155.7 L576.8,1156.8 L577.4,1158.0 L578.0,1159.3 L578.6,1160.7 L579.2,1162.2 L579.7,1163.8 L580.3,1165.5 L580.8,1167.3 L581.2,1169.1 L581.7,1171.0 L582.1,1172.9 L582.5,1174.9 L582.8,1176.9 L583.1,1179.0 L583.4,1181.0 L583.6,1183.1 L583.8,1185.1 L583.9,1187.2 L584.0,1189.2 L584.0,1191.1 L584.1,1193.1 L584.0,1194.9 L583.9,1196.7 L583.8,1198.5 L583.7,1200.1 L583.4,1201.7 L583.2,1203.1 L582.9,1204.5 L582.6,1205.7 L582.2,1206.9 L581.8,1207.9 L581.4,1208.8 L580.9,1209.6 L580.4,1210.2 L579.9,1210.7" fill="none" stroke="#fff" stroke-width="2.2" stroke-linejoin="round" stroke-linecap="round" />
<ellipse cx="540.0" cy="1190.8" rx="16.5" ry="36.5" transform="rotate(-7 540.0 1190.8)" fill="none" stroke="#141414" stroke-width="6.8" />
<ellipse cx="540.0" cy="1190.8" rx="16.5" ry="36.5" transform="rotate(-7 540.0 1190.8)" fill="none" stroke="#fff" stroke-width="2.4" />
<path d="M539.7,1161.0 L540.3,1161.4 L541.0,1161.9 L541.6,1162.6 L542.2,1163.5 L542.9,1164.4 L543.5,1165.5 L544.1,1166.7 L544.7,1168.0 L545.3,1169.4 L545.9,1171.0 L546.4,1172.6 L546.9,1174.3 L547.4,1176.0 L547.9,1177.9 L548.3,1179.7 L548.7,1181.7 L549.1,1183.7 L549.5,1185.7 L549.8,1187.7 L550.0,1189.8 L550.2,1191.8 L550.4,1193.9 L550.6,1195.9 L550.7,1197.9 L550.7,1199.9 L550.7,1201.8 L550.7,1203.7 L550.6,1205.5 L550.5,1207.2 L550.3,1208.9 L550.1,1210.4 L549.9,1211.9 L549.6,1213.2 L549.2,1214.5 L548.9,1215.6 L548.5,1216.7 L548.1,1217.6 L547.6,1218.3 L547.1,1218.9 L546.6,1219.4" fill="none" stroke="#141414" stroke-width="6.2" stroke-linejoin="round" stroke-linecap="round" />
<path d="M539.7,1161.0 L540.3,1161.4 L541.0,1161.9 L541.6,1162.6 L542.2,1163.5 L542.9,1164.4 L543.5,1165.5 L544.1,1166.7 L544.7,1168.0 L545.3,1169.4 L545.9,1171.0 L546.4,1172.6 L546.9,1174.3 L547.4,1176.0 L547.9,1177.9 L548.3,1179.7 L548.7,1181.7 L549.1,1183.7 L549.5,1185.7 L549.8,1187.7 L550.0,1189.8 L550.2,1191.8 L550.4,1193.9 L550.6,1195.9 L550.7,1197.9 L550.7,1199.9 L550.7,1201.8 L550.7,1203.7 L550.6,1205.5 L550.5,1207.2 L550.3,1208.9 L550.1,1210.4 L549.9,1211.9 L549.6,1213.2 L549.2,1214.5 L548.9,1215.6 L548.5,1216.7 L548.1,1217.6 L547.6,1218.3 L547.1,1218.9 L546.6,1219.4" fill="none" stroke="#fff" stroke-width="2.2" stroke-linejoin="round" stroke-linecap="round" />
<ellipse cx="506.7" cy="1199.5" rx="16.5" ry="36.5" transform="rotate(-7 506.7 1199.5)" fill="none" stroke="#141414" stroke-width="6.8" />
<ellipse cx="506.7" cy="1199.5" rx="16.5" ry="36.5" transform="rotate(-7 506.7 1199.5)" fill="none" stroke="#fff" stroke-width="2.4" />
<path d="M506.4,1169.7 L507.0,1170.1 L507.6,1170.7 L508.3,1171.4 L508.9,1172.2 L509.5,1173.2 L510.1,1174.3 L510.8,1175.5 L511.4,1176.8 L511.9,1178.2 L512.5,1179.7 L513.1,1181.3 L513.6,1183.0 L514.1,1184.8 L514.6,1186.6 L515.0,1188.5 L515.4,1190.4 L515.8,1192.4 L516.1,1194.4 L516.4,1196.5 L516.7,1198.5 L516.9,1200.6 L517.1,1202.6 L517.2,1204.7 L517.3,1206.7 L517.4,1208.6 L517.4,1210.6 L517.3,1212.4 L517.3,1214.2 L517.1,1216.0 L517.0,1217.6 L516.8,1219.2 L516.5,1220.6 L516.2,1222.0 L515.9,1223.2 L515.5,1224.4 L515.2,1225.4 L514.7,1226.3 L514.3,1227.1 L513.8,1227.7 L513.3,1228.2" fill="none" stroke="#141414" stroke-width="6.2" stroke-linejoin="round" stroke-linecap="round" />
<path d="M506.4,1169.7 L507.0,1170.1 L507.6,1170.7 L508.3,1171.4 L508.9,1172.2 L509.5,1173.2 L510.1,1174.3 L510.8,1175.5 L511.4,1176.8 L511.9,1178.2 L512.5,1179.7 L513.1,1181.3 L513.6,1183.0 L514.1,1184.8 L514.6,1186.6 L515.0,1188.5 L515.4,1190.4 L515.8,1192.4 L516.1,1194.4 L516.4,1196.5 L516.7,1198.5 L516.9,1200.6 L517.1,1202.6 L517.2,1204.7 L517.3,1206.7 L517.4,1208.6 L517.4,1210.6 L517.3,1212.4 L517.3,1214.2 L517.1,1216.0 L517.0,1217.6 L516.8,1219.2 L516.5,1220.6 L516.2,1222.0 L515.9,1223.2 L515.5,1224.4 L515.2,1225.4 L514.7,1226.3 L514.3,1227.1 L513.8,1227.7 L513.3,1228.2" fill="none" stroke="#fff" stroke-width="2.2" stroke-linejoin="round" stroke-linecap="round" />
<ellipse cx="473.4" cy="1208.3" rx="16.5" ry="36.5" transform="rotate(-7 473.4 1208.3)" fill="none" stroke="#141414" stroke-width="6.8" />
<ellipse cx="473.4" cy="1208.3" rx="16.5" ry="36.5" transform="rotate(-7 473.4 1208.3)" fill="none" stroke="#fff" stroke-width="2.4" />
<path d="M473.0,1178.5 L473.7,1178.9 L474.3,1179.4 L474.9,1180.1 L475.6,1181.0 L476.2,1181.9 L476.8,1183.0 L477.4,1184.2 L478.0,1185.5 L478.6,1186.9 L479.2,1188.5 L479.7,1190.1 L480.3,1191.8 L480.8,1193.5 L481.2,1195.4 L481.7,1197.2 L482.1,1199.2 L482.4,1201.2 L482.8,1203.2 L483.1,1205.2 L483.3,1207.3 L483.6,1209.3 L483.8,1211.4 L483.9,1213.4 L484.0,1215.4 L484.0,1217.4 L484.0,1219.3 L484.0,1221.2 L483.9,1223.0 L483.8,1224.7 L483.6,1226.4 L483.4,1227.9 L483.2,1229.4 L482.9,1230.7 L482.6,1232.0 L482.2,1233.1 L481.8,1234.2 L481.4,1235.1 L480.9,1235.8 L480.4,1236.4 L479.9,1236.9" fill="none" stroke="#141414" stroke-width="6.2" stroke-linejoin="round" stroke-linecap="round" />
<path d="M473.0,1178.5 L473.7,1178.9 L474.3,1179.4 L474.9,1180.1 L475.6,1181.0 L476.2,1181.9 L476.8,1183.0 L477.4,1184.2 L478.0,1185.5 L478.6,1186.9 L479.2,1188.5 L479.7,1190.1 L480.3,1191.8 L480.8,1193.5 L481.2,1195.4 L481.7,1197.2 L482.1,1199.2 L482.4,1201.2 L482.8,1203.2 L483.1,1205.2 L483.3,1207.3 L483.6,1209.3 L483.8,1211.4 L483.9,1213.4 L484.0,1215.4 L484.0,1217.4 L484.0,1219.3 L484.0,1221.2 L483.9,1223.0 L483.8,1224.7 L483.6,1226.4 L483.4,1227.9 L483.2,1229.4 L482.9,1230.7 L482.6,1232.0 L482.2,1233.1 L481.8,1234.2 L481.4,1235.1 L480.9,1235.8 L480.4,1236.4 L479.9,1236.9" fill="none" stroke="#fff" stroke-width="2.2" stroke-linejoin="round" stroke-linecap="round" />
<ellipse cx="440.0" cy="1217.0" rx="16.5" ry="36.5" transform="rotate(-7 440.0 1217.0)" fill="none" stroke="#141414" stroke-width="6.8" />
<ellipse cx="440.0" cy="1217.0" rx="16.5" ry="36.5" transform="rotate(-7 440.0 1217.0)" fill="none" stroke="#fff" stroke-width="2.4" />
<path d="M439.7,1187.2 L440.3,1187.6 L440.9,1188.2 L441.6,1188.9 L442.2,1189.7 L442.8,1190.7 L443.5,1191.8 L444.1,1193.0 L444.7,1194.3 L445.3,1195.7 L445.8,1197.2 L446.4,1198.8 L446.9,1200.5 L447.4,1202.3 L447.9,1204.1 L448.3,1206.0 L448.7,1207.9 L449.1,1209.9 L449.4,1211.9 L449.7,1214.0 L450.0,1216.0 L450.2,1218.1 L450.4,1220.1 L450.6,1222.2 L450.6,1224.2 L450.7,1226.1 L450.7,1228.1 L450.7,1229.9 L450.6,1231.7 L450.5,1233.5 L450.3,1235.1 L450.1,1236.7 L449.8,1238.1 L449.6,1239.5 L449.2,1240.7 L448.9,1241.9 L448.5,1242.9 L448.0,1243.8 L447.6,1244.6 L447.1,1245.2 L446.6,1245.7" fill="none" stroke="#141414" stroke-width="6.2" stroke-linejoin="round" stroke-linecap="round" />
<path d="M439.7,1187.2 L440.3,1187.6 L440.9,1188.2 L441.6,1188.9 L442.2,1189.7 L442.8,1190.7 L443.5,1191.8 L444.1,1193.0 L444.7,1194.3 L445.3,1195.7 L445.8,1197.2 L446.4,1198.8 L446.9,1200.5 L447.4,1202.3 L447.9,1204.1 L448.3,1206.0 L448.7,1207.9 L449.1,1209.9 L449.4,1211.9 L449.7,1214.0 L450.0,1216.0 L450.2,1218.1 L450.4,1220.1 L450.6,1222.2 L450.6,1224.2 L450.7,1226.1 L450.7,1228.1 L450.7,1229.9 L450.6,1231.7 L450.5,1233.5 L450.3,1235.1 L450.1,1236.7 L449.8,1238.1 L449.6,1239.5 L449.2,1240.7 L448.9,1241.9 L448.5,1242.9 L448.0,1243.8 L447.6,1244.6 L447.1,1245.2 L446.6,1245.7" fill="none" stroke="#fff" stroke-width="2.2" stroke-linejoin="round" stroke-linecap="round" />
<ellipse cx="406.7" cy="1225.8" rx="16.5" ry="36.5" transform="rotate(-7 406.7 1225.8)" fill="none" stroke="#141414" stroke-width="6.8" />
<ellipse cx="406.7" cy="1225.8" rx="16.5" ry="36.5" transform="rotate(-7 406.7 1225.8)" fill="none" stroke="#fff" stroke-width="2.4" />
<path d="M406.4,1196.0 L407.0,1196.4 L407.6,1196.9 L408.2,1197.6 L408.9,1198.5 L409.5,1199.4 L410.1,1200.5 L410.7,1201.7 L411.3,1203.0 L411.9,1204.4 L412.5,1206.0 L413.1,1207.6 L413.6,1209.3 L414.1,1211.0 L414.5,1212.9 L415.0,1214.7 L415.4,1216.7 L415.8,1218.7 L416.1,1220.7 L416.4,1222.7 L416.7,1224.8 L416.9,1226.8 L417.1,1228.9 L417.2,1230.9 L417.3,1232.9 L417.4,1234.9 L417.4,1236.8 L417.3,1238.7 L417.3,1240.5 L417.1,1242.2 L417.0,1243.9 L416.8,1245.4 L416.5,1246.9 L416.2,1248.2 L415.9,1249.5 L415.5,1250.6 L415.1,1251.7 L414.7,1252.6 L414.2,1253.3 L413.8,1253.9 L413.2,1254.4" fill="none" stroke="#141414" stroke-width="6.2" stroke-linejoin="round" stroke-linecap="round" />
<path d="M406.4,1196.0 L407.0,1196.4 L407.6,1196.9 L408.2,1197.6 L408.9,1198.5 L409.5,1199.4 L410.1,1200.5 L410.7,1201.7 L411.3,1203.0 L411.9,1204.4 L412.5,1206.0 L413.1,1207.6 L413.6,1209.3 L414.1,1211.0 L414.5,1212.9 L415.0,1214.7 L415.4,1216.7 L415.8,1218.7 L416.1,1220.7 L416.4,1222.7 L416.7,1224.8 L416.9,1226.8 L417.1,1228.9 L417.2,1230.9 L417.3,1232.9 L417.4,1234.9 L417.4,1236.8 L417.3,1238.7 L417.3,1240.5 L417.1,1242.2 L417.0,1243.9 L416.8,1245.4 L416.5,1246.9 L416.2,1248.2 L415.9,1249.5 L415.5,1250.6 L415.1,1251.7 L414.7,1252.6 L414.2,1253.3 L413.8,1253.9 L413.2,1254.4" fill="none" stroke="#fff" stroke-width="2.2" stroke-linejoin="round" stroke-linecap="round" />
<ellipse cx="373.3" cy="1234.5" rx="16.5" ry="36.5" transform="rotate(-7 373.3 1234.5)" fill="none" stroke="#141414" stroke-width="6.8" />
<ellipse cx="373.3" cy="1234.5" rx="16.5" ry="36.5" transform="rotate(-7 373.3 1234.5)" fill="none" stroke="#fff" stroke-width="2.4" />
<path d="M373.0,1204.7 L373.6,1205.1 L374.3,1205.7 L374.9,1206.4 L375.5,1207.2 L376.2,1208.2 L376.8,1209.3 L377.4,1210.5 L378.0,1211.8 L378.6,1213.2 L379.2,1214.7 L379.7,1216.3 L380.2,1218.0 L380.7,1219.8 L381.2,1221.6 L381.7,1223.5 L382.1,1225.4 L382.4,1227.4 L382.8,1229.4 L383.1,1231.5 L383.3,1233.5 L383.6,1235.6 L383.7,1237.6 L383.9,1239.7 L384.0,1241.7 L384.0,1243.6 L384.0,1245.6 L384.0,1247.4 L383.9,1249.2 L383.8,1251.0 L383.6,1252.6 L383.4,1254.2 L383.2,1255.6 L382.9,1257.0 L382.6,1258.2 L382.2,1259.4 L381.8,1260.4 L381.4,1261.3 L380.9,1262.1 L380.4,1262.7 L379.9,1263.2" fill="none" stroke="#141414" stroke-width="6.2" stroke-linejoin="round" stroke-linecap="round" />
<path d="M373.0,1204.7 L373.6,1205.1 L374.3,1205.7 L374.9,1206.4 L375.5,1207.2 L376.2,1208.2 L376.8,1209.3 L377.4,1210.5 L378.0,1211.8 L378.6,1213.2 L379.2,1214.7 L379.7,1216.3 L380.2,1218.0 L380.7,1219.8 L381.2,1221.6 L381.7,1223.5 L382.1,1225.4 L382.4,1227.4 L382.8,1229.4 L383.1,1231.5 L383.3,1233.5 L383.6,1235.6 L383.7,1237.6 L383.9,1239.7 L384.0,1241.7 L384.0,1243.6 L384.0,1245.6 L384.0,1247.4 L383.9,1249.2 L383.8,1251.0 L383.6,1252.6 L383.4,1254.2 L383.2,1255.6 L382.9,1257.0 L382.6,1258.2 L382.2,1259.4 L381.8,1260.4 L381.4,1261.3 L380.9,1262.1 L380.4,1262.7 L379.9,1263.2" fill="none" stroke="#fff" stroke-width="2.2" stroke-linejoin="round" stroke-linecap="round" />
<ellipse cx="340.0" cy="1243.3" rx="16.5" ry="36.5" transform="rotate(-7 340.0 1243.3)" fill="none" stroke="#141414" stroke-width="6.8" />
<ellipse cx="340.0" cy="1243.3" rx="16.5" ry="36.5" transform="rotate(-7 340.0 1243.3)" fill="none" stroke="#fff" stroke-width="2.4" />
<path d="M339.7,1213.5 L340.3,1213.9 L340.9,1214.4 L341.6,1215.1 L342.2,1216.0 L342.8,1216.9 L343.5,1218.0 L344.1,1219.2 L344.7,1220.5 L345.3,1221.9 L345.8,1223.5 L346.4,1225.1 L346.9,1226.8 L347.4,1228.5 L347.9,1230.4 L348.3,1232.2 L348.7,1234.2 L349.1,1236.2 L349.4,1238.2 L349.7,1240.2 L350.0,1242.3 L350.2,1244.3 L350.4,1246.4 L350.5,1248.4 L350.6,1250.4 L350.7,1252.4 L350.7,1254.3 L350.7,1256.2 L350.6,1258.0 L350.5,1259.7 L350.3,1261.4 L350.1,1262.9 L349.8,1264.4 L349.5,1265.7 L349.2,1267.0 L348.9,1268.1 L348.5,1269.2 L348.0,1270.1 L347.6,1270.8 L347.1,1271.4 L346.6,1271.9" fill="none" stroke="#141414" stroke-width="6.2" stroke-linejoin="round" stroke-linecap="round" />
<path d="M339.7,1213.5 L340.3,1213.9 L340.9,1214.4 L341.6,1215.1 L342.2,1216.0 L342.8,1216.9 L343.5,1218.0 L344.1,1219.2 L344.7,1220.5 L345.3,1221.9 L345.8,1223.5 L346.4,1225.1 L346.9,1226.8 L347.4,1228.5 L347.9,1230.4 L348.3,1232.2 L348.7,1234.2 L349.1,1236.2 L349.4,1238.2 L349.7,1240.2 L350.0,1242.3 L350.2,1244.3 L350.4,1246.4 L350.5,1248.4 L350.6,1250.4 L350.7,1252.4 L350.7,1254.3 L350.7,1256.2 L350.6,1258.0 L350.5,1259.7 L350.3,1261.4 L350.1,1262.9 L349.8,1264.4 L349.5,1265.7 L349.2,1267.0 L348.9,1268.1 L348.5,1269.2 L348.0,1270.1 L347.6,1270.8 L347.1,1271.4 L346.6,1271.9" fill="none" stroke="#fff" stroke-width="2.2" stroke-linejoin="round" stroke-linecap="round" />
<path d="M339.1,1247.5 L338.6,1245.4 L338.2,1243.2 L338.0,1241.0 L337.8,1238.8 L337.7,1236.6 L337.7,1234.5 L337.9,1232.6 L338.1,1230.7 L338.4,1229.1 L338.9,1227.6 L339.4,1226.4 L340.0,1225.4 L340.7,1224.7 L341.4,1224.3 L342.2,1224.1 L343.0,1224.3 L343.8,1224.7 L344.6,1225.4 L345.5,1226.4 L346.2,1227.6 L347.0,1229.1 L347.7,1230.7 L348.3,1232.6 L348.9,1234.5 L349.4,1236.6 L349.8,1238.8 L350.0,1241.0 L350.2,1243.2 L350.3,1245.4 L350.3,1247.5 L350.1,1249.4 L349.9,1251.3 L349.6,1252.9 L349.1,1254.4 L348.6,1255.6 L348.0,1256.6 L347.3,1257.3 L346.6,1257.7 L345.8,1257.9 L345.0,1257.7" fill="none" stroke="#141414" stroke-width="5.6" stroke-linejoin="round" stroke-linecap="round" />
<path d="M339.1,1247.5 L338.6,1245.4 L338.2,1243.2 L338.0,1241.0 L337.8,1238.8 L337.7,1236.6 L337.7,1234.5 L337.9,1232.6 L338.1,1230.7 L338.4,1229.1 L338.9,1227.6 L339.4,1226.4 L340.0,1225.4 L340.7,1224.7 L341.4,1224.3 L342.2,1224.1 L343.0,1224.3 L343.8,1224.7 L344.6,1225.4 L345.5,1226.4 L346.2,1227.6 L347.0,1229.1 L347.7,1230.7 L348.3,1232.6 L348.9,1234.5 L349.4,1236.6 L349.8,1238.8 L350.0,1241.0 L350.2,1243.2 L350.3,1245.4 L350.3,1247.5 L350.1,1249.4 L349.9,1251.3 L349.6,1252.9 L349.1,1254.4 L348.6,1255.6 L348.0,1256.6 L347.3,1257.3 L346.6,1257.7 L345.8,1257.9 L345.0,1257.7" fill="none" stroke="#fff" stroke-width="1.8" stroke-linejoin="round" stroke-linecap="round" />
<text x="458.3" y="1328.3" font-size="30" text-anchor="start" font-weight="normal" textLength="30.0" lengthAdjust="spacingAndGlyphs" >21</text>
<line x1="476.0" y1="1250.0" x2="476.0" y2="1296.7" stroke="#141414" stroke-width="3.0" />
<ellipse cx="691.7" cy="1161.7" rx="16.3" ry="35.8" transform="rotate(-19.5 691.7 1161.7)" fill="#fff" stroke="#141414" stroke-width="3" />
<ellipse cx="693.7" cy="1161.2" rx="10.3" ry="27.7" transform="rotate(-19.5 693.7 1161.2)" fill="none" stroke="#999" stroke-width="1.6" />
<ellipse cx="666.7" cy="1166.7" rx="16.3" ry="35.8" transform="rotate(-19.5 666.7 1166.7)" fill="#fff" stroke="#141414" stroke-width="3" />
<ellipse cx="668.7" cy="1166.2" rx="10.3" ry="27.7" transform="rotate(-19.5 668.7 1166.2)" fill="none" stroke="#999" stroke-width="1.6" />
<ellipse cx="664.0" cy="1167.5" rx="7.4" ry="22.6" transform="rotate(-19.5 664.0 1167.5)" fill="none" stroke="#777" stroke-width="1.6" />
<path d="M668.5,1147 Q675,1165 680,1190" fill="none" stroke="#141414" stroke-width="3" stroke-linejoin="round" stroke-linecap="round" />
<line x1="635.0" y1="1173.3" x2="666.7" y2="1164.0" stroke="#141414" stroke-width="2.7" />
<path d="M678.3,1208.3 L678.3,1216.7 L700.0,1216.7 L700.0,1208.3" fill="none" stroke="#141414" stroke-width="2.2" stroke-linejoin="round" stroke-linecap="round" />
<line x1="688.3" y1="1216.7" x2="688.3" y2="1236.7" stroke="#141414" stroke-width="2.7" />
<text x="670.7" y="1265.0" font-size="30" text-anchor="start" font-weight="normal" textLength="32.6" lengthAdjust="spacingAndGlyphs" >23</text>
<ellipse cx="741.7" cy="1140.0" rx="12.6" ry="22.1" transform="rotate(-19.5 741.7 1140.0)" fill="#fff" stroke="#141414" stroke-width="3" />
<ellipse cx="742.5" cy="1140.0" rx="5.5" ry="11.8" transform="rotate(-19.5 742.5 1140.0)" fill="#e6e6e6" stroke="#888" stroke-width="1.6" />
<line x1="715.0" y1="1150.7" x2="738.0" y2="1144.0" stroke="#141414" stroke-width="2.7" />
<line x1="746.0" y1="1161.7" x2="746.0" y2="1215.0" stroke="#141414" stroke-width="3.0" />
<text x="732.3" y="1246.7" font-size="30" text-anchor="start" font-weight="normal" textLength="32.7" lengthAdjust="spacingAndGlyphs" >24</text>
<ellipse cx="785.7" cy="1131.7" rx="6.7" ry="13.6" transform="rotate(-19.5 785.7 1131.7)" fill="none" stroke="#141414" stroke-width="2.6" />
<line x1="768.3" y1="1135.0" x2="795.0" y2="1127.3" stroke="#141414" stroke-width="2.7" />
<line x1="790.0" y1="1145.0" x2="790.0" y2="1168.3" stroke="#141414" stroke-width="3.0" />
<text x="772.7" y="1201.7" font-size="30" text-anchor="start" font-weight="normal" textLength="32.3" lengthAdjust="spacingAndGlyphs" >25</text>
<path d="M848.0,1156.5 L846.0,1156.9 L843.9,1156.9 L841.6,1156.5 L839.3,1155.5 L836.9,1154.2 L834.5,1152.4 L832.0,1150.2 L829.6,1147.6 L827.2,1144.6 L824.9,1141.3 L822.6,1137.8 L820.5,1134.0 L818.5,1129.9 L816.7,1125.8 L815.1,1121.5 L813.6,1117.1 L812.4,1112.7 L811.4,1108.3 L810.7,1104.0 L810.2,1099.8 L809.9,1095.8 L809.9,1092.0 L810.2,1088.5 L810.7,1085.2 L811.5,1082.3 L812.5,1079.7 L813.7,1077.5 L815.1,1075.8 L816.8,1074.4 L818.6,1073.5 L942.0,1041.2 L944.0,1040.8 L946.1,1040.8 L948.4,1041.2 L950.7,1042.2 L953.1,1043.5 L955.5,1045.3 L958.0,1047.5 L960.4,1050.1 L962.8,1053.1 L965.1,1056.4 L967.4,1059.9 L969.5,1063.7 L971.5,1067.8 L973.3,1071.9 L974.9,1076.2 L976.4,1080.6 L977.6,1085.0 L978.6,1089.4 L979.3,1093.7 L979.8,1097.9 L980.1,1101.9 L980.1,1105.7 L979.8,1109.2 L979.3,1112.5 L978.5,1115.4 L977.5,1118.0 L976.3,1120.2 L974.9,1121.9 L973.2,1123.3 L971.4,1124.2 Z" fill="#fff" stroke="#141414" stroke-width="3.2" stroke-linejoin="round" stroke-linecap="round" />
<ellipse cx="833.3" cy="1115.0" rx="19.3" ry="44.0" transform="rotate(-19.5 833.3 1115.0)" fill="#fff" stroke="#141414" stroke-width="3.2" />
<ellipse cx="834.5" cy="1114.7" rx="17.8" ry="42.0" transform="rotate(-19.5 834.5 1114.7)" fill="#fff" stroke="#141414" stroke-width="3" />
<ellipse cx="838.0" cy="1114.0" rx="16.0" ry="37.9" transform="rotate(-19.5 838.0 1114.0)" fill="#fff" stroke="#141414" stroke-width="2" />
<line x1="801.7" y1="1125.7" x2="833.3" y2="1116.7" stroke="#141414" stroke-width="2.7" />
<line x1="880.0" y1="1148.3" x2="880.0" y2="1195.0" stroke="#141414" stroke-width="3.0" />
<text x="868.3" y="1228.3" font-size="30" text-anchor="start" font-weight="normal" textLength="33.4" lengthAdjust="spacingAndGlyphs" >26</text>
<ellipse cx="1011.7" cy="1070.0" rx="10.9" ry="21.1" transform="rotate(-19.5 1011.7 1070.0)" fill="#fff" stroke="#141414" stroke-width="3" />
<ellipse cx="1012.5" cy="1070.0" rx="5.0" ry="10.7" transform="rotate(-19.5 1012.5 1070.0)" fill="#d4d4d4" stroke="#888" stroke-width="1.6" />
<line x1="978.3" y1="1080.0" x2="1008.3" y2="1071.7" stroke="#141414" stroke-width="2.7" />
<line x1="1008.3" y1="1011.7" x2="1008.3" y2="1048.3" stroke="#141414" stroke-width="3.0" />
<text x="986.7" y="1003.3" font-size="30" text-anchor="start" font-weight="normal" textLength="30.0" lengthAdjust="spacingAndGlyphs" >10</text>
<path d="M1074.2,1066.1 L1069.3,1081.4 L1055.8,1072.6 L1047.3,1048.4 L1052.2,1033.1 L1065.6,1042.0 Z" fill="#fff" stroke="#141414" stroke-width="4" stroke-linejoin="round" stroke-linecap="round" />
<path d="M1065.4,1068.3 L1060.5,1083.6 L1069.3,1081.4 L1074.2,1066.1 Z" fill="#fff" stroke="#141414" stroke-width="2.8" stroke-linejoin="round" stroke-linecap="round" />
<path d="M1060.5,1083.6 L1047.1,1074.8 L1055.8,1072.6 L1069.3,1081.4 Z" fill="#fff" stroke="#141414" stroke-width="2.8" stroke-linejoin="round" stroke-linecap="round" />
<path d="M1047.1,1074.8 L1038.6,1050.7 L1047.3,1048.4 L1055.8,1072.6 Z" fill="#fff" stroke="#141414" stroke-width="2.8" stroke-linejoin="round" stroke-linecap="round" />
<path d="M1038.6,1050.7 L1043.5,1035.4 L1052.2,1033.1 L1047.3,1048.4 Z" fill="#fff" stroke="#141414" stroke-width="2.8" stroke-linejoin="round" stroke-linecap="round" />
<path d="M1043.5,1035.4 L1056.9,1044.2 L1065.6,1042.0 L1052.2,1033.1 Z" fill="#fff" stroke="#141414" stroke-width="2.8" stroke-linejoin="round" stroke-linecap="round" />
<path d="M1056.9,1044.2 L1065.4,1068.3 L1074.2,1066.1 L1065.6,1042.0 Z" fill="#fff" stroke="#141414" stroke-width="2.8" stroke-linejoin="round" stroke-linecap="round" />
<path d="M1065.4,1068.3 L1060.5,1083.6 L1047.1,1074.8 L1038.6,1050.7 L1043.5,1035.4 L1056.9,1044.2 Z" fill="#fff" stroke="#141414" stroke-width="4" stroke-linejoin="round" stroke-linecap="round" />
<ellipse cx="1053.0" cy="1059.3" rx="6.4" ry="13.8" transform="rotate(-19.5 1053.0 1059.3)" fill="#d8d8d8" stroke="#777" stroke-width="1.8" />
<line x1="1051.0" y1="976.7" x2="1051.0" y2="1031.7" stroke="#141414" stroke-width="3.0" />
<text x="1041.6" y="967.8" font-size="30" text-anchor="start" font-weight="normal" textLength="18.4" lengthAdjust="spacingAndGlyphs" >9</text>
<path d="M128.0,1664.5 L94.9,1672.7 L94.9,1894.5 L1063.0,1651.3 L1063.0,1888.2 L1018.0,1900.5" fill="none" stroke="#141414" stroke-width="2.7" stroke-linejoin="round" stroke-linecap="round" stroke-dasharray="15 9.5"/>
<path d="M510.9,1572.2 L510.3,1572.3 L509.6,1572.2 L509.0,1571.9 L508.2,1571.4 L507.5,1570.7 L506.8,1569.9 L506.1,1568.9 L505.5,1567.7 L504.9,1566.5 L504.4,1565.3 L504.0,1564.0 L503.7,1562.7 L503.5,1561.4 L503.4,1560.2 L503.4,1559.1 L503.5,1558.1 L503.8,1557.3 L504.1,1556.6 L504.6,1556.1 L505.1,1555.8 L528.1,1549.8 L528.7,1549.7 L529.4,1549.8 L530.0,1550.1 L530.8,1550.6 L531.5,1551.3 L532.2,1552.1 L532.9,1553.1 L533.5,1554.3 L534.1,1555.5 L534.6,1556.7 L535.0,1558.0 L535.3,1559.3 L535.5,1560.6 L535.6,1561.8 L535.6,1562.9 L535.5,1563.9 L535.2,1564.7 L534.9,1565.4 L534.4,1565.9 L533.9,1566.2 Z" fill="#e2e2e2" stroke="#141414" stroke-width="2.8" stroke-linejoin="round" stroke-linecap="round" />
<path d="M262.7,1648.1 L261.3,1648.3 L259.8,1648.1 L258.2,1647.4 L256.5,1646.2 L254.9,1644.7 L253.2,1642.7 L251.7,1640.4 L250.2,1637.9 L248.9,1635.1 L247.7,1632.2 L246.8,1629.2 L246.1,1626.3 L245.6,1623.4 L245.4,1620.6 L245.4,1618.1 L245.8,1615.8 L246.3,1613.9 L247.1,1612.3 L248.1,1611.2 L249.3,1610.5 L501.3,1545.2 L502.7,1545.0 L504.2,1545.2 L505.8,1545.9 L507.5,1547.1 L509.1,1548.6 L510.8,1550.6 L512.3,1552.9 L513.8,1555.4 L515.1,1558.2 L516.3,1561.1 L517.2,1564.1 L517.9,1567.0 L518.4,1569.9 L518.6,1572.7 L518.6,1575.2 L518.2,1577.5 L517.7,1579.4 L516.9,1581.0 L515.9,1582.1 L514.7,1582.8 Z" fill="#fff" stroke="#141414" stroke-width="3.2" stroke-linejoin="round" stroke-linecap="round" />
<path d="M155.9,1664.6 L155.3,1664.7 L154.6,1664.6 L154.0,1664.3 L153.2,1663.8 L152.5,1663.1 L151.8,1662.3 L151.1,1661.3 L150.5,1660.1 L149.9,1658.9 L149.4,1657.7 L149.0,1656.4 L148.7,1655.1 L148.5,1653.8 L148.4,1652.6 L148.4,1651.5 L148.5,1650.5 L148.8,1649.7 L149.1,1649.0 L149.6,1648.5 L150.1,1648.2 L173.8,1641.8 L174.4,1641.7 L175.1,1641.8 L175.7,1642.1 L176.5,1642.6 L177.2,1643.3 L177.9,1644.1 L178.6,1645.1 L179.2,1646.3 L179.8,1647.5 L180.3,1648.7 L180.7,1650.0 L181.0,1651.3 L181.2,1652.6 L181.3,1653.8 L181.3,1654.9 L181.2,1655.9 L180.9,1656.7 L180.6,1657.4 L180.1,1657.9 L179.6,1658.2 Z" fill="#d6d6d6" stroke="#141414" stroke-width="2.8" stroke-linejoin="round" stroke-linecap="round" />
<path d="M155.3,1647.4 L155.5,1647.3 L155.8,1647.3 L156.1,1647.3 L156.4,1647.4 L156.8,1647.5 L157.1,1647.7 L157.4,1647.9 L157.8,1648.1 L158.1,1648.5 L158.5,1648.8 L158.8,1649.2 L159.1,1649.6 L159.5,1650.0 L159.8,1650.5 L160.1,1651.0 L160.4,1651.6 L160.7,1652.1 L160.9,1652.7 L161.2,1653.3 L161.4,1653.9 L161.6,1654.5 L161.8,1655.1 L161.9,1655.7 L162.1,1656.3 L162.2,1656.9 L162.3,1657.5 L162.3,1658.1 L162.3,1658.7 L162.4,1659.2 L162.3,1659.7 L162.3,1660.2 L162.2,1660.6 L162.1,1661.1 L162.0,1661.4 L161.8,1661.8 L161.6,1662.1 L161.4,1662.3 L161.2,1662.5 L161.0,1662.7 L160.7,1662.8" fill="none" stroke="#888" stroke-width="1" stroke-linejoin="round" stroke-linecap="round" />
<path d="M159.3,1646.3 L159.5,1646.3 L159.8,1646.2 L160.1,1646.3 L160.4,1646.3 L160.8,1646.5 L161.1,1646.6 L161.4,1646.8 L161.8,1647.1 L162.1,1647.4 L162.5,1647.7 L162.8,1648.1 L163.1,1648.5 L163.5,1649.0 L163.8,1649.5 L164.1,1650.0 L164.4,1650.5 L164.7,1651.1 L164.9,1651.7 L165.2,1652.2 L165.4,1652.8 L165.6,1653.5 L165.8,1654.1 L165.9,1654.7 L166.1,1655.3 L166.2,1655.9 L166.3,1656.5 L166.3,1657.1 L166.3,1657.6 L166.4,1658.2 L166.3,1658.7 L166.3,1659.1 L166.2,1659.6 L166.1,1660.0 L166.0,1660.4 L165.8,1660.7 L165.6,1661.0 L165.4,1661.3 L165.2,1661.5 L165.0,1661.7 L164.7,1661.8" fill="none" stroke="#888" stroke-width="1" stroke-linejoin="round" stroke-linecap="round" />
<path d="M163.3,1645.3 L163.5,1645.2 L163.8,1645.2 L164.1,1645.2 L164.4,1645.3 L164.8,1645.4 L165.1,1645.6 L165.4,1645.8 L165.8,1646.0 L166.1,1646.4 L166.5,1646.7 L166.8,1647.1 L167.1,1647.5 L167.5,1647.9 L167.8,1648.4 L168.1,1648.9 L168.4,1649.5 L168.7,1650.0 L168.9,1650.6 L169.2,1651.2 L169.4,1651.8 L169.6,1652.4 L169.8,1653.0 L169.9,1653.6 L170.1,1654.2 L170.2,1654.8 L170.3,1655.4 L170.3,1656.0 L170.3,1656.6 L170.4,1657.1 L170.3,1657.6 L170.3,1658.1 L170.2,1658.5 L170.1,1659.0 L170.0,1659.3 L169.8,1659.7 L169.6,1660.0 L169.4,1660.2 L169.2,1660.4 L169.0,1660.6 L168.7,1660.7" fill="none" stroke="#888" stroke-width="1" stroke-linejoin="round" stroke-linecap="round" />
<path d="M167.3,1644.2 L167.5,1644.2 L167.8,1644.1 L168.1,1644.2 L168.4,1644.2 L168.8,1644.4 L169.1,1644.5 L169.4,1644.7 L169.8,1645.0 L170.1,1645.3 L170.5,1645.6 L170.8,1646.0 L171.1,1646.4 L171.5,1646.9 L171.8,1647.4 L172.1,1647.9 L172.4,1648.4 L172.7,1649.0 L172.9,1649.6 L173.2,1650.1 L173.4,1650.7 L173.6,1651.4 L173.8,1652.0 L173.9,1652.6 L174.1,1653.2 L174.2,1653.8 L174.3,1654.4 L174.3,1655.0 L174.3,1655.5 L174.4,1656.1 L174.3,1656.6 L174.3,1657.0 L174.2,1657.5 L174.1,1657.9 L174.0,1658.3 L173.8,1658.6 L173.6,1658.9 L173.4,1659.2 L173.2,1659.4 L173.0,1659.6 L172.7,1659.7" fill="none" stroke="#888" stroke-width="1" stroke-linejoin="round" stroke-linecap="round" />
<path d="M171.3,1643.2 L171.5,1643.1 L171.8,1643.1 L172.1,1643.1 L172.4,1643.2 L172.8,1643.3 L173.1,1643.5 L173.4,1643.7 L173.8,1643.9 L174.1,1644.3 L174.5,1644.6 L174.8,1645.0 L175.1,1645.4 L175.5,1645.8 L175.8,1646.3 L176.1,1646.8 L176.4,1647.4 L176.7,1647.9 L176.9,1648.5 L177.2,1649.1 L177.4,1649.7 L177.6,1650.3 L177.8,1650.9 L177.9,1651.5 L178.1,1652.1 L178.2,1652.7 L178.3,1653.3 L178.3,1653.9 L178.3,1654.5 L178.4,1655.0 L178.3,1655.5 L178.3,1656.0 L178.2,1656.4 L178.1,1656.9 L178.0,1657.2 L177.8,1657.6 L177.6,1657.9 L177.4,1658.1 L177.2,1658.3 L177.0,1658.5 L176.7,1658.6" fill="none" stroke="#888" stroke-width="1" stroke-linejoin="round" stroke-linecap="round" />
<path d="M245.4,1661.0 L243.5,1661.4 L241.3,1661.0 L239.1,1660.0 L236.8,1658.4 L234.4,1656.2 L232.1,1653.4 L229.9,1650.2 L227.8,1646.6 L226.0,1642.7 L224.3,1638.6 L223.0,1634.4 L222.0,1630.2 L221.3,1626.1 L221.0,1622.2 L221.1,1618.7 L221.5,1615.5 L222.3,1612.7 L223.5,1610.5 L224.9,1608.9 L226.6,1608.0 L246.6,1602.8 L248.5,1602.4 L250.7,1602.8 L252.9,1603.8 L255.2,1605.4 L257.6,1607.6 L259.9,1610.4 L262.1,1613.6 L264.2,1617.2 L266.0,1621.1 L267.7,1625.2 L269.0,1629.4 L270.0,1633.6 L270.7,1637.7 L271.0,1641.6 L270.9,1645.1 L270.5,1648.3 L269.7,1651.1 L268.5,1653.3 L267.1,1654.9 L265.4,1655.8 Z" fill="#fff" stroke="#141414" stroke-width="3.2" stroke-linejoin="round" stroke-linecap="round" />
<path d="M259.5,1608.8 L260.3,1609.3 L261.1,1609.9 L261.9,1610.6 L262.7,1611.4 L263.5,1612.3 L264.3,1613.2 L265.0,1614.2 L265.8,1615.3 L266.5,1616.4 L267.2,1617.5 L267.9,1618.8 L268.5,1620.0 L269.1,1621.3 L269.7,1622.6 L270.2,1624.0 L270.7,1625.4 L271.1,1626.7 L271.5,1628.1 L271.9,1629.5 L272.2,1630.9 L272.4,1632.3 L272.6,1633.6 L272.7,1634.9 L272.8,1636.2 L272.9,1637.5 L272.8,1638.7 L272.8,1639.8 L272.6,1640.9 L272.5,1642.0 L272.2,1643.0 L271.9,1643.9 L271.6,1644.7 L271.2,1645.5 L270.8,1646.2 L270.3,1646.8 L269.8,1647.3 L269.2,1647.7 L268.6,1648.1 L268.0,1648.3 L267.3,1648.5" fill="none" stroke="#999" stroke-width="1.2" stroke-linejoin="round" stroke-linecap="round" />
<ellipse cx="236.0" cy="1634.5" rx="12.1" ry="28.2" transform="rotate(-19.5 236.0 1634.5)" fill="#fff" stroke="#141414" stroke-width="3" />
<ellipse cx="237.0" cy="1634.5" rx="9.2" ry="23.1" transform="rotate(-19.5 237.0 1634.5)" fill="none" stroke="#999" stroke-width="1.2" />
<path d="M183.7,1669.8 L182.3,1670.0 L180.7,1669.8 L179.0,1669.0 L177.3,1667.8 L175.5,1666.2 L173.8,1664.1 L172.1,1661.7 L170.6,1659.0 L169.2,1656.1 L168.0,1653.1 L167.0,1649.9 L166.3,1646.8 L165.8,1643.8 L165.6,1640.9 L165.6,1638.2 L165.9,1635.8 L166.5,1633.8 L167.4,1632.1 L168.4,1630.9 L169.7,1630.2 L227.0,1615.2 L228.4,1615.0 L230.0,1615.2 L231.7,1616.0 L233.4,1617.2 L235.2,1618.8 L236.9,1620.9 L238.6,1623.3 L240.1,1626.0 L241.5,1628.9 L242.7,1631.9 L243.7,1635.1 L244.4,1638.2 L244.9,1641.2 L245.1,1644.1 L245.1,1646.8 L244.8,1649.2 L244.2,1651.2 L243.3,1652.9 L242.3,1654.1 L241.0,1654.8 Z" fill="#fff" stroke="#141414" stroke-width="3.2" stroke-linejoin="round" stroke-linecap="round" />
<ellipse cx="182.7" cy="1648.5" rx="8.9" ry="21.0" transform="rotate(-19.5 182.7 1648.5)" fill="none" stroke="#aaa" stroke-width="1.2" />
<text x="282.7" y="1789.3" font-size="30" text-anchor="start" font-weight="normal" textLength="34.6" lengthAdjust="spacingAndGlyphs" >22</text>
<line x1="305.7" y1="1643.3" x2="305.7" y2="1702.7" stroke="#141414" stroke-width="3.0" />
<text x="546.7" y="1416.3" font-size="30" text-anchor="start" font-weight="normal" textLength="31.5" lengthAdjust="spacingAndGlyphs" >12</text>
<line x1="567.2" y1="1425.3" x2="567.2" y2="1461.5" stroke="#141414" stroke-width="3.0" />
<path d="M566.0,1463.5 L607.0,1453.0 L608.8,1459.8 L568.0,1470.5 Z" fill="#fff" stroke="#141414" stroke-width="2.2" stroke-linejoin="round" stroke-linecap="round" />
<path d="M588.0,1458.0 L607.0,1453.0 L608.8,1459.8 L590.0,1464.8 Z" fill="#bdbdbd" stroke="#141414" stroke-width="1.6" stroke-linejoin="round" stroke-linecap="round" />
<ellipse cx="559.3" cy="1469.3" rx="5.6" ry="10.2" transform="rotate(-19.5 559.3 1469.3)" fill="#fff" stroke="#141414" stroke-width="3" />
<line x1="553.0" y1="1471.0" x2="565.5" y2="1467.7" stroke="#141414" stroke-width="1.8" />
<line x1="558.5" y1="1461.0" x2="560.0" y2="1478.0" stroke="#141414" stroke-width="1.8" />
<text x="598.6" y="1387.6" font-size="30" text-anchor="start" font-weight="normal" textLength="31.4" lengthAdjust="spacingAndGlyphs" >13</text>
<line x1="614.3" y1="1398.6" x2="614.3" y2="1443.8" stroke="#141414" stroke-width="3.0" />
<ellipse cx="617.4" cy="1452.8" rx="4.3" ry="8.8" transform="rotate(-19.5 617.4 1452.8)" fill="none" stroke="#141414" stroke-width="2.6" />
<line x1="626.1" y1="1449.7" x2="700.7" y2="1432.0" stroke="#141414" stroke-width="2.7" />
<path d="M653,1416 Q672,1395 702,1403 C742,1422 774,1515 778,1578 Q779,1613 748,1617 C718,1611 652,1573 629,1554 Q606,1526 616,1486 C622,1465 640,1436 653,1416 Z" fill="#fff" stroke="#141414" stroke-width="3.4" stroke-linejoin="round" stroke-linecap="round" />
<text x="696.8" y="1357.3" font-size="30" text-anchor="start" font-weight="normal" textLength="29.5" lengthAdjust="spacingAndGlyphs" >14</text>
<line x1="711.4" y1="1366.4" x2="711.4" y2="1407.2" stroke="#141414" stroke-width="3.0" />
<line x1="626.1" y1="1449.7" x2="700.7" y2="1432.0" stroke="#141414" stroke-width="2.7" />
<path d="M693.8,1424.2 L694.3,1423.4 L694.9,1422.8 L695.5,1422.2 L696.2,1421.8 L697.0,1421.5 L697.8,1421.3 L698.6,1421.2 L699.4,1421.2 L700.3,1421.3 L701.1,1421.6 L702.0,1422.0 L702.8,1422.4 L703.6,1423.0 L704.4,1423.7 L705.2,1424.5 L705.9,1425.4 L706.5,1426.3 L707.1,1427.3 L707.6,1428.3 L708.0,1429.4 L708.4,1430.5 L708.6,1431.7 L708.8,1432.8 L708.9,1433.9 L708.9,1435.0 L708.8,1436.1 L708.6,1437.1 L708.4,1438.1 L708.0,1439.0 L707.6,1439.8 L707.1,1440.6 L706.5,1441.2 L705.9,1441.8 L705.2,1442.2 L704.4,1442.5 L703.6,1442.7 L702.8,1442.8 L702.0,1442.8 L701.1,1442.7 L700.3,1442.4" fill="none" stroke="#141414" stroke-width="2.4" stroke-linejoin="round" stroke-linecap="round" />
<path d="M702.6,1440.4 L702.4,1440.8 L702.2,1441.1 L702.0,1441.4 L701.7,1441.7 L701.5,1442.0 L701.2,1442.2 L700.9,1442.4 L700.6,1442.5 L700.3,1442.7 L699.9,1442.7 L699.6,1442.8 L699.2,1442.8 L698.9,1442.8 L698.5,1442.7 L698.1,1442.6 L697.7,1442.5 L697.3,1442.3 L697.0,1442.1 L696.6,1441.9 L696.2,1441.6 L695.8,1441.3 L695.4,1440.9 L695.1,1440.6 L694.7,1440.2 L694.3,1439.8 L694.0,1439.3 L693.7,1438.8 L693.3,1438.4 L693.0,1437.8 L692.7,1437.3 L692.5,1436.8 L692.2,1436.2 L692.0,1435.6 L691.7,1435.1 L691.5,1434.5 L691.3,1433.9 L691.2,1433.3 L691.0,1432.7 L690.9,1432.1 L690.8,1431.5" fill="none" stroke="#888" stroke-width="1.6" stroke-linejoin="round" stroke-linecap="round" />
<ellipse cx="749.9" cy="1565.6" rx="15.0" ry="14.0" transform="rotate(35 749.9 1565.6)" fill="#fff" stroke="#141414" stroke-width="2.6" />
<ellipse cx="753.0" cy="1568.0" rx="7.0" ry="11.0" transform="rotate(-20 753.0 1568.0)" fill="#ddd" stroke="#777" stroke-width="1.4" />
<ellipse cx="632.0" cy="1530.2" rx="13.1" ry="22.0" transform="rotate(-19.5 632.0 1530.2)" fill="none" stroke="#aaa" stroke-width="1.5" />
<path d="M623.2,1514.6 L623.9,1514.4 L624.7,1514.4 L625.4,1514.4 L626.2,1514.5 L627.0,1514.7 L627.9,1515.0 L628.7,1515.4 L629.5,1515.9 L630.3,1516.5 L631.2,1517.2 L632.0,1518.0 L632.7,1518.9 L633.5,1519.8 L634.2,1520.8 L635.0,1521.8 L635.6,1523.0 L636.2,1524.1 L636.8,1525.3 L637.4,1526.6 L637.8,1527.9 L638.3,1529.2 L638.6,1530.5 L638.9,1531.8 L639.2,1533.1 L639.4,1534.4 L639.5,1535.6 L639.6,1536.9 L639.6,1538.1 L639.5,1539.2 L639.3,1540.4 L639.1,1541.4 L638.9,1542.4 L638.6,1543.3 L638.2,1544.2 L637.7,1544.9 L637.2,1545.6 L636.7,1546.2 L636.1,1546.7 L635.5,1547.1 L634.8,1547.4" fill="none" stroke="#bbb" stroke-width="1.3" stroke-linejoin="round" stroke-linecap="round" />
<line x1="584.8" y1="1542.0" x2="600.0" y2="1538.3" stroke="#141414" stroke-width="2.7" />
<line x1="606.0" y1="1536.9" x2="634.0" y2="1530.2" stroke="#141414" stroke-width="2.7" />
<line x1="771.5" y1="1492.9" x2="802.9" y2="1485.0" stroke="#141414" stroke-width="2.7" />
<ellipse cx="799.8" cy="1488.2" rx="15.2" ry="31.3" transform="rotate(-19.5 799.8 1488.2)" fill="none" stroke="#141414" stroke-width="4" />
<line x1="804.9" y1="1518.4" x2="804.9" y2="1571.5" stroke="#141414" stroke-width="3.0" />
<text x="789.2" y="1604.9" font-size="30" text-anchor="start" font-weight="normal" textLength="31.4" lengthAdjust="spacingAndGlyphs" >15</text>
<ellipse cx="848.0" cy="1474.5" rx="24.0" ry="37.6" transform="rotate(-19.5 848.0 1474.5)" fill="#fff" stroke="#141414" stroke-width="4.5" />
<ellipse cx="845.3" cy="1475.2" rx="24.0" ry="37.6" transform="rotate(-19.5 845.3 1475.2)" fill="#fff" stroke="#141414" stroke-width="3" />
<ellipse cx="843.5" cy="1475.7" rx="19.1" ry="31.6" transform="rotate(-19.5 843.5 1475.7)" fill="#fff" stroke="#141414" stroke-width="1.8" />
<ellipse cx="845.0" cy="1477.0" rx="13.2" ry="23.5" transform="rotate(-19.5 845.0 1477.0)" fill="none" stroke="#aaa" stroke-width="1.3" />
<path d="M841.6,1460.4 L842.4,1460.5 L843.1,1460.6 L843.9,1460.9 L844.7,1461.3 L845.5,1461.8 L846.3,1462.5 L847.1,1463.2 L847.9,1464.0 L848.7,1464.9 L849.4,1465.9 L850.2,1466.9 L850.9,1468.1 L851.6,1469.3 L852.2,1470.5 L852.8,1471.8 L853.3,1473.1 L853.8,1474.5 L854.3,1475.8 L854.7,1477.2 L855.0,1478.6 L855.3,1480.0 L855.5,1481.3 L855.6,1482.6 L855.7,1483.9 L855.7,1485.1 L855.6,1486.3 L855.5,1487.4 L855.3,1488.4 L855.0,1489.4 L854.7,1490.3 L854.4,1491.1 L853.9,1491.7 L853.4,1492.3 L852.9,1492.8 L852.3,1493.2 L851.7,1493.4 L851.0,1493.6 L850.3,1493.6 L849.6,1493.5 L848.8,1493.3" fill="none" stroke="#999" stroke-width="1.3" stroke-linejoin="round" stroke-linecap="round" />
<line x1="833.2" y1="1386.8" x2="833.2" y2="1437.9" stroke="#141414" stroke-width="3.0" />
<text x="816.7" y="1375.0" font-size="30" text-anchor="start" font-weight="normal" textLength="31.4" lengthAdjust="spacingAndGlyphs" >16</text>
<ellipse cx="924.7" cy="1449.7" rx="40.9" ry="78.6" transform="rotate(-19.5 924.7 1449.7)" fill="none" stroke="#141414" stroke-width="6.3" />
<line x1="947.1" y1="1526.3" x2="947.1" y2="1571.5" stroke="#141414" stroke-width="3.0" />
<text x="936.5" y="1599.8" font-size="30" text-anchor="start" font-weight="normal" textLength="31.5" lengthAdjust="spacingAndGlyphs" >17</text>
<ellipse cx="1032.8" cy="1424.1" rx="57.4" ry="115.5" transform="rotate(-19.5 1032.8 1424.1)" fill="none" stroke="#141414" stroke-width="8.2" />
<line x1="1071.3" y1="1536.1" x2="1071.3" y2="1567.6" stroke="#141414" stroke-width="3.0" />
<text x="1058.3" y="1599.8" font-size="30" text-anchor="start" font-weight="normal" textLength="31.5" lengthAdjust="spacingAndGlyphs" >18</text>
<line x1="883.5" y1="1463.4" x2="897.0" y2="1460.0" stroke="#141414" stroke-width="2.7" />
<line x1="903.0" y1="1458.6" x2="932.6" y2="1451.6" stroke="#141414" stroke-width="2.7" />
<line x1="967.9" y1="1441.8" x2="980.0" y2="1438.6" stroke="#141414" stroke-width="2.7" />
<line x1="986.0" y1="1437.0" x2="1026.9" y2="1426.1" stroke="#141414" stroke-width="2.7" />
<path d="M145.7,1935.0 L568.0,1828.8 L568.0,2302.0 L145.7,2408.0 Z" fill="#e6e6e6" stroke="#b4b4b4" stroke-width="2" stroke-linejoin="round" stroke-linecap="round" />
<text x="58.6" y="2089.3" font-size="30" text-anchor="start" font-weight="normal" textLength="16.4" lengthAdjust="spacingAndGlyphs" >9</text>
<line x1="65.0" y1="2102.0" x2="65.0" y2="2137.0" stroke="#141414" stroke-width="3.0" />
<path d="M49.3,2143.6 L73.6,2137.1 L86.4,2154.3 L89.3,2175.0 L65.7,2182.9 L50.7,2167.1 Z" fill="#fff" stroke="#141414" stroke-width="2.6" stroke-linejoin="round" stroke-linecap="round" />
<line x1="73.6" y1="2137.1" x2="79.0" y2="2150.0" stroke="#141414" stroke-width="1.6" />
<ellipse cx="61.0" cy="2161.4" rx="10.7" ry="20.0" transform="rotate(-15 61.0 2161.4)" fill="#fff" stroke="#141414" stroke-width="3" />
<ellipse cx="59.5" cy="2162.0" rx="7.5" ry="15.0" transform="rotate(-15 59.5 2162.0)" fill="#ddd" stroke="#141414" stroke-width="2.4" />
<ellipse cx="58.5" cy="2162.5" rx="4.0" ry="8.5" transform="rotate(-15 58.5 2162.5)" fill="#888" stroke="#141414" stroke-width="2" />
<path d="M64.7,2140.9 L65.4,2141.2 L66.2,2141.6 L66.9,2142.0 L67.7,2142.6 L68.4,2143.2 L69.2,2143.9 L69.9,2144.6 L70.6,2145.5 L71.3,2146.3 L71.9,2147.3 L72.6,2148.3 L73.2,2149.3 L73.8,2150.4 L74.3,2151.5 L74.8,2152.7 L75.3,2153.9 L75.7,2155.1 L76.1,2156.4 L76.4,2157.7 L76.7,2158.9 L77.0,2160.2 L77.2,2161.5 L77.4,2162.7 L77.5,2164.0 L77.5,2165.2 L77.6,2166.5 L77.5,2167.7 L77.4,2168.8 L77.3,2169.9 L77.1,2171.0 L76.9,2172.0 L76.6,2173.0 L76.3,2173.9 L75.9,2174.8 L75.5,2175.6 L75.1,2176.3 L74.6,2177.0 L74.0,2177.6 L73.5,2178.1 L72.9,2178.5" fill="none" stroke="#141414" stroke-width="2.6" stroke-linejoin="round" stroke-linecap="round" />
<ellipse cx="110.7" cy="2152.1" rx="10.8" ry="18.2" transform="rotate(-15 110.7 2152.1)" fill="#fff" stroke="#141414" stroke-width="3.8" />
<ellipse cx="110.7" cy="2152.1" rx="4.0" ry="7.6" transform="rotate(-15 110.7 2152.1)" fill="#ccc" stroke="#141414" stroke-width="3.2" />
<line x1="115.7" y1="2168.6" x2="115.7" y2="2201.4" stroke="#141414" stroke-width="3.0" />
<text x="100.7" y="2231.4" font-size="30" text-anchor="start" font-weight="normal" textLength="32.2" lengthAdjust="spacingAndGlyphs" >10</text>
<text x="172.0" y="1963.3" font-size="30" text-anchor="start" font-weight="normal" textLength="18.2" lengthAdjust="spacingAndGlyphs" >6</text>
<line x1="180.4" y1="1972.5" x2="180.4" y2="2014.5" stroke="#141414" stroke-width="3.0" />
<path d="M186.0,2019.5 L212.0,2013.0 L213.8,2021.0 L188.0,2027.5 Z" fill="#fff" stroke="#141414" stroke-width="2.2" stroke-linejoin="round" stroke-linecap="round" />
<path d="M200.0,2016.0 L212.0,2013.0 L213.8,2021.0 L202.0,2024.0 Z" fill="#333" stroke="#141414" stroke-width="1.8" stroke-linejoin="round" stroke-linecap="round" />
<path d="M180.0,2016.5 L190.0,2014.0 L192.0,2031.0 L183.0,2034.5 Z" fill="#fff" stroke="#141414" stroke-width="2.4" stroke-linejoin="round" stroke-linecap="round" />
<ellipse cx="181.5" cy="2025.7" rx="5.2" ry="9.0" transform="rotate(-15 181.5 2025.7)" fill="#fff" stroke="#141414" stroke-width="2.8" />
<ellipse cx="181.0" cy="2026.0" rx="2.4" ry="4.2" transform="rotate(-15 181.0 2026.0)" fill="#999" stroke="#141414" stroke-width="1.6" />
<line x1="216.7" y1="2017.3" x2="244.7" y2="2010.3" stroke="#fff" stroke-width="1.6" />
<ellipse cx="338.2" cy="2080.7" rx="74.4" ry="151.6" transform="rotate(-21 338.2 2080.7)" fill="#fff" stroke="#141414" stroke-width="4" />
<ellipse cx="334.5" cy="2082.1" rx="74.4" ry="151.6" transform="rotate(-21 334.5 2082.1)" fill="#fff" stroke="#141414" stroke-width="1.6" />
<ellipse cx="329.8" cy="2083.9" rx="74.4" ry="151.6" transform="rotate(-21 329.8 2083.9)" fill="#fff" stroke="#141414" stroke-width="4" />
<ellipse cx="323.7" cy="2086.5" rx="51.0" ry="128.0" transform="rotate(-21 323.7 2086.5)" fill="#e6e6e6" stroke="#141414" stroke-width="3" />
<path d="M372.5,2204.8 L368.6,2205.5 L364.5,2205.5 L360.2,2204.8 L355.6,2203.4 L350.9,2201.3 L346.1,2198.5 L341.1,2195.1 L336.1,2190.9 L331.1,2186.2 L326.0,2180.9 L320.9,2175.0 L315.9,2168.5 L311.0,2161.6 L306.1,2154.2 L301.4,2146.4 L296.9,2138.3 L292.5,2129.8 L288.3,2121.1 L284.4,2112.1 L280.8,2103.0 L277.4,2093.8 L274.3,2084.5 L271.5,2075.2 L269.1,2066.0 L267.0,2056.9 L265.3,2047.9 L264.0,2039.2 L263.0,2030.8 L262.4,2022.6 L262.3,2014.8 L262.5,2007.5 L263.0,2000.6 L264.0,1994.2 L265.4,1988.3 L267.1,1983.0 L269.2,1978.3 L271.6,1974.2 L274.4,1970.8 L277.5,1968.0 L280.9,1965.9" fill="none" stroke="#141414" stroke-width="1.6" stroke-linejoin="round" stroke-linecap="round" />
<path d="M375.4,2201.0 L371.6,2201.7 L367.6,2201.7 L363.3,2201.0 L358.9,2199.6 L354.3,2197.6 L349.6,2194.8 L344.7,2191.4 L339.8,2187.4 L334.9,2182.7 L329.9,2177.5 L324.9,2171.7 L320.0,2165.4 L315.2,2158.6 L310.5,2151.4 L305.8,2143.7 L301.4,2135.7 L297.1,2127.4 L293.0,2118.8 L289.2,2110.1 L285.6,2101.1 L282.3,2092.1 L279.3,2083.0 L276.6,2073.9 L274.2,2064.9 L272.1,2055.9 L270.5,2047.2 L269.1,2038.6 L268.2,2030.3 L267.6,2022.3 L267.4,2014.7 L267.6,2007.5 L268.2,2000.7 L269.1,1994.5 L270.4,1988.7 L272.1,1983.5 L274.1,1978.9 L276.5,1974.9 L279.2,1971.5 L282.2,1968.8 L285.5,1966.8" fill="none" stroke="#141414" stroke-width="1.6" stroke-linejoin="round" stroke-linecap="round" />
<path d="M378.3,2197.2 L374.6,2197.9 L370.6,2197.9 L366.5,2197.2 L362.1,2195.9 L357.7,2193.8 L353.0,2191.1 L348.3,2187.8 L343.5,2183.8 L338.7,2179.3 L333.8,2174.1 L329.0,2168.5 L324.2,2162.3 L319.4,2155.6 L314.8,2148.5 L310.3,2141.0 L305.9,2133.2 L301.7,2125.0 L297.7,2116.6 L294.0,2108.0 L290.5,2099.3 L287.2,2090.4 L284.3,2081.5 L281.6,2072.6 L279.3,2063.7 L277.3,2055.0 L275.6,2046.4 L274.3,2038.0 L273.4,2029.9 L272.8,2022.1 L272.6,2014.6 L272.8,2007.5 L273.3,2000.9 L274.2,1994.8 L275.5,1989.1 L277.1,1984.0 L279.1,1979.5 L281.4,1975.6 L284.0,1972.3 L287.0,1969.7 L290.2,1967.7" fill="none" stroke="#141414" stroke-width="1.6" stroke-linejoin="round" stroke-linecap="round" />
<path d="M379.0,2194.4 L375.5,2194.6 L371.7,2194.1 L367.8,2193.0 L363.7,2191.3 L359.5,2189.0 L355.1,2186.1 L350.7,2182.6 L346.2,2178.6 L341.7,2174.0 L337.2,2168.9 L332.7,2163.3 L328.2,2157.2 L323.8,2150.8 L319.5,2143.9 L315.3,2136.7 L311.2,2129.2 L307.3,2121.4 L303.5,2113.4 L300.0,2105.2 L296.6,2096.9 L293.5,2088.5 L290.7,2080.0 L288.1,2071.6 L285.8,2063.1 L283.8,2054.8 L282.1,2046.7 L280.8,2038.7 L279.7,2030.9 L279.0,2023.4 L278.6,2016.2 L278.6,2009.4 L278.8,2003.0 L279.5,1997.0 L280.4,1991.4 L281.7,1986.4 L283.3,1981.8 L285.2,1977.8 L287.4,1974.4 L289.9,1971.6 L292.6,1969.3" fill="none" stroke="#141414" stroke-width="2.2" stroke-linejoin="round" stroke-linecap="round" />
<path d="M286.4,1949.4 L290.7,1949.0 L295.0,1949.0 L299.6,1949.6 L304.2,1950.7 L309.0,1952.4 L313.8,1954.6 L318.8,1957.3 L323.7,1960.5 L328.8,1964.2 L333.8,1968.3 L338.8,1973.0 L343.8,1978.0 L348.7,1983.5 L353.6,1989.4 L358.4,1995.7 L363.0,2002.3 L367.6,2009.2 L372.0,2016.5 L376.2,2024.0 L380.3,2031.7 L384.2,2039.6 L387.8,2047.7 L391.3,2056.0 L394.5,2064.4 L397.4,2072.8 L400.1,2081.3 L402.5,2089.8 L404.6,2098.3 L406.5,2106.7 L408.0,2115.0 L409.2,2123.2 L410.1,2131.2 L410.7,2139.0 L411.0,2146.6 L411.0,2154.0 L410.7,2161.0 L410.0,2167.8 L409.0,2174.2 L407.7,2180.3 L406.1,2185.9" fill="none" stroke="#141414" stroke-width="1.8" stroke-linejoin="round" stroke-linecap="round" />
<ellipse cx="318.0" cy="1966.9" rx="3.6" ry="7.6" transform="rotate(-21 318.0 1966.9)" fill="#fff" stroke="#141414" stroke-width="2" />
<ellipse cx="248.9" cy="2006.0" rx="3.6" ry="7.6" transform="rotate(-21 248.9 2006.0)" fill="#fff" stroke="#141414" stroke-width="2" />
<ellipse cx="376.2" cy="2053.6" rx="3.6" ry="7.6" transform="rotate(-21 376.2 2053.6)" fill="#fff" stroke="#141414" stroke-width="2" />
<ellipse cx="274.1" cy="2125.0" rx="3.6" ry="7.6" transform="rotate(-21 274.1 2125.0)" fill="#fff" stroke="#141414" stroke-width="2" />
<ellipse cx="398.0" cy="2164.2" rx="3.6" ry="7.6" transform="rotate(-21 398.0 2164.2)" fill="#fff" stroke="#141414" stroke-width="2" />
<ellipse cx="342.1" cy="2208.9" rx="3.6" ry="7.6" transform="rotate(-21 342.1 2208.9)" fill="#fff" stroke="#141414" stroke-width="2" />
<text x="356.6" y="2299.0" font-size="30" text-anchor="start" font-weight="normal" textLength="15.4" lengthAdjust="spacingAndGlyphs" >4</text>
<line x1="365.9" y1="2227.1" x2="365.9" y2="2267.7" stroke="#141414" stroke-width="3.0" />
<ellipse cx="470.5" cy="2050.8" rx="57.6" ry="131.8" transform="rotate(-21 470.5 2050.8)" fill="none" stroke="#141414" stroke-width="4.6" />
<line x1="507.7" y1="2176.7" x2="507.7" y2="2203.3" stroke="#141414" stroke-width="3.0" />
<text x="499.9" y="2233.5" font-size="30" text-anchor="start" font-weight="normal" textLength="16.2" lengthAdjust="spacingAndGlyphs" >5</text>
<path d="M202.7,2123.6 L262.0,2107.8" fill="none" stroke="#141414" stroke-width="2.4" stroke-linejoin="round" stroke-linecap="round" stroke-dasharray="12 6"/>
<path d="M262.0,2107.8 L300.0,2097.6" fill="none" stroke="#fff" stroke-width="2.6" stroke-linejoin="round" stroke-linecap="round" stroke-dasharray="12 6"/>
<path d="M300.0,2097.6 L365.0,2080.2" fill="none" stroke="#141414" stroke-width="2.4" stroke-linejoin="round" stroke-linecap="round" stroke-dasharray="12 6"/>
<path d="M423.8,2063.4 L507.7,2042.4" fill="none" stroke="#141414" stroke-width="2.4" stroke-linejoin="round" stroke-linecap="round" stroke-dasharray="12 6"/>
<ellipse cx="733.6" cy="1971.9" rx="62.0" ry="126.0" transform="rotate(-18.5 733.6 1971.9)" fill="none" stroke="#141414" stroke-width="5" />
<path d="M696.3,2109.4 L689.7,2110.9 L682.6,2111.1 L675.4,2110.0 L667.9,2107.7 L660.2,2104.0 L652.6,2099.2 L645.0,2093.1 L637.5,2086.0 L630.3,2077.8 L623.3,2068.7 L616.7,2058.7 L610.6,2048.0 L605.0,2036.7 L599.9,2025.0 L595.5,2012.8 L591.7,2000.5 L588.7,1988.0 L586.4,1975.6 L584.8,1963.4 L584.1,1951.5 L584.2,1940.0 L585.0,1929.1 L586.7,1918.9 L589.1,1909.5 L592.3,1901.0 L596.2,1893.5 L600.8,1887.1 L605.9,1881.8 L611.7,1877.8 L617.9,1875.0 L624.5,1872.8 L631.2,1871.3 L638.2,1871.0 L645.5,1872.1 L653.0,1874.5 L660.6,1878.2 L668.2,1883.0 L675.8,1889.1 L683.3,1896.2 L690.6,1904.4 L697.5,1913.5 L704.1,1923.5 L710.2,1934.1 L715.9,1945.4 L720.9,1957.2 L725.4,1969.4 L729.1,1981.7 L732.2,1994.2 L734.5,2006.6 L736.0,2018.8 L736.7,2030.7 L736.7,2042.2 L735.8,2053.1 L734.1,2063.3 L731.7,2072.7 L728.5,2081.2 L724.6,2088.7 L720.1,2095.1 L714.9,2100.3 L709.2,2104.4 L703.0,2107.2 Z" fill="#fff" stroke="#141414" stroke-width="3.2" stroke-linejoin="round" stroke-linecap="round" />
<ellipse cx="657.1" cy="1992.2" rx="65.0" ry="123.6" transform="rotate(-18.5 657.1 1992.2)" fill="#fff" stroke="#141414" stroke-width="3.2" />
<ellipse cx="661.8" cy="1990.6" rx="56.0" ry="113.6" transform="rotate(-18.5 661.8 1990.6)" fill="#fff" stroke="#141414" stroke-width="2.2" />
<ellipse cx="659.0" cy="1991.6" rx="61.0" ry="118.6" transform="rotate(-18.5 659.0 1991.6)" fill="none" stroke="#666" stroke-width="1.5" />
<ellipse cx="660.4" cy="1991.1" rx="58.5" ry="116.1" transform="rotate(-18.5 660.4 1991.1)" fill="none" stroke="#999" stroke-width="1.5" />
<path d="M626.2,1872.7 L631.1,1872.2 L636.2,1872.5 L641.4,1873.3 L646.7,1874.8 L652.0,1877.0 L657.4,1879.8 L662.9,1883.2 L668.3,1887.2 L673.6,1891.7 L678.9,1896.9 L684.1,1902.5 L689.1,1908.6 L694.0,1915.2 L698.7,1922.2 L703.2,1929.5 L707.4,1937.3 L711.4,1945.3 L715.1,1953.5 L718.5,1962.0 L721.6,1970.6 L724.3,1979.4 L726.7,1988.2 L728.7,1997.0 L730.4,2005.8 L731.6,2014.5 L732.5,2023.1 L732.9,2031.5 L733.0,2039.7 L732.6,2047.6 L731.9,2055.2 L730.7,2062.5 L729.2,2069.4 L727.3,2075.8 L725.0,2081.8 L722.4,2087.3 L719.4,2092.2 L716.1,2096.6 L712.5,2100.4 L708.6,2103.6 L704.4,2106.2" fill="none" stroke="#555" stroke-width="1.4" stroke-linejoin="round" stroke-linecap="round" />
<path d="M628.6,1871.9 L633.5,1871.5 L638.6,1871.7 L643.8,1872.5 L649.0,1874.1 L654.4,1876.2 L659.8,1879.0 L665.2,1882.4 L670.6,1886.4 L676.0,1890.9 L681.3,1896.1 L686.4,1901.7 L691.5,1907.8 L696.4,1914.4 L701.1,1921.4 L705.6,1928.7 L709.8,1936.5 L713.8,1944.5 L717.5,1952.7 L720.9,1961.2 L724.0,1969.8 L726.7,1978.6 L729.1,1987.4 L731.1,1996.2 L732.7,2005.0 L734.0,2013.7 L734.8,2022.3 L735.3,2030.7 L735.3,2038.9 L735.0,2046.8 L734.3,2054.4 L733.1,2061.7 L731.6,2068.6 L729.7,2075.0 L727.4,2081.0 L724.8,2086.5 L721.8,2091.4 L718.5,2095.8 L714.8,2099.6 L710.9,2102.8 L706.8,2105.4" fill="none" stroke="#555" stroke-width="1.4" stroke-linejoin="round" stroke-linecap="round" />
<clipPath id="c7"><ellipse cx="661.8" cy="1990.6" rx="55.0" ry="112.6" transform="rotate(-18.5 661.8 1990.6)"/></clipPath>
<g clip-path="url(#c7)">
<ellipse cx="733.6" cy="1971.9" rx="62.0" ry="126.0" transform="rotate(-18.5 733.6 1971.9)" fill="none" stroke="#141414" stroke-width="5" />
</g>
<path d="M733.6,1976.0 L849.3,1945.5" fill="none" stroke="#141414" stroke-width="2.2" stroke-linejoin="round" stroke-linecap="round" stroke-dasharray="9 5"/>
<line x1="698.2" y1="2111.0" x2="698.2" y2="2156.0" stroke="#141414" stroke-width="3.0" />
<text x="688.6" y="2194.7" font-size="30" text-anchor="start" font-weight="normal" textLength="14.4" lengthAdjust="spacingAndGlyphs" >7</text>
<line x1="772.1" y1="2096.6" x2="772.1" y2="2132.0" stroke="#141414" stroke-width="3.0" />
<text x="765.7" y="2164.1" font-size="30" text-anchor="start" font-weight="normal" textLength="17.7" lengthAdjust="spacingAndGlyphs" >8</text>
<path d="M902.1,2058.3 L896.2,2059.3 L890.0,2059.0 L883.5,2057.4 L876.9,2054.6 L870.1,2050.5 L863.4,2045.2 L856.7,2038.8 L850.2,2031.3 L843.8,2022.9 L837.7,2013.5 L832.0,2003.3 L826.7,1992.5 L821.8,1981.1 L817.4,1969.3 L813.6,1957.2 L810.4,1944.9 L807.8,1932.5 L805.9,1920.3 L804.7,1908.3 L804.2,1896.6 L804.4,1885.4 L805.3,1874.9 L806.9,1865.1 L809.2,1856.1 L812.1,1848.1 L815.6,1841.0 L819.7,1835.1 L824.4,1830.3 L829.5,1826.8 L835.1,1824.5 L918.7,1800.5 L924.6,1799.5 L930.9,1799.8 L937.3,1801.4 L944.0,1804.2 L950.7,1808.3 L957.4,1813.6 L964.1,1820.0 L970.7,1827.5 L977.0,1836.0 L983.1,1845.3 L988.8,1855.5 L994.2,1866.3 L999.0,1877.7 L1003.4,1889.5 L1007.2,1901.7 L1010.4,1914.0 L1013.0,1926.3 L1014.9,1938.5 L1016.1,1950.6 L1016.6,1962.2 L1016.4,1973.4 L1015.5,1983.9 L1013.9,1993.7 L1011.7,2002.7 L1008.7,2010.8 L1005.2,2017.8 L1001.1,2023.7 L996.4,2028.5 L991.3,2032.0 L985.7,2034.3 Z" fill="#fff" stroke="#141414" stroke-width="3.6" stroke-linejoin="round" stroke-linecap="round" />
<ellipse cx="868.6" cy="1941.4" rx="57.2" ry="121.6" transform="rotate(-16 868.6 1941.4)" fill="#fff" stroke="#141414" stroke-width="3.6" />
<ellipse cx="870.5" cy="1940.8" rx="50.2" ry="106.6" transform="rotate(-16 870.5 1940.8)" fill="#fff" stroke="#141414" stroke-width="2.6" />
<line x1="865.7" y1="1854.3" x2="874.3" y2="1918.6" stroke="#141414" stroke-width="2.4" />
<path d="M865.7,1854.3 Q888,1870 900,1898.6" fill="none" stroke="#141414" stroke-width="2.4" stroke-linejoin="round" stroke-linecap="round" />
<path d="M882.9,1934.3 Q896,1927 908.6,1924.3" fill="none" stroke="#141414" stroke-width="2.2" stroke-linejoin="round" stroke-linecap="round" />
<path d="M884.3,1934.3 L885.7,1948.6 Q898,1970 918.6,1982.9" fill="none" stroke="#141414" stroke-width="2.2" stroke-linejoin="round" stroke-linecap="round" />
<path d="M830,1985 L862,1978" fill="none" stroke="#141414" stroke-width="2" stroke-linejoin="round" stroke-linecap="round" />
<clipPath id="c11"><ellipse cx="870.5" cy="1940.8" rx="49.2" ry="105.6" transform="rotate(-16 870.5 1940.8)"/></clipPath>
<g clip-path="url(#c11)">
<line x1="854.1" y1="1945.5" x2="814.0" y2="1833.0" stroke="#141414" stroke-width="12" />
<line x1="854.1" y1="1945.5" x2="918.4" y2="1895.4" stroke="#141414" stroke-width="12" />
<line x1="854.1" y1="1945.5" x2="924.5" y2="2056.0" stroke="#141414" stroke-width="12" />
<line x1="854.1" y1="1945.5" x2="822.0" y2="1995.8" stroke="#141414" stroke-width="12" />
<line x1="854.1" y1="1945.5" x2="814.0" y2="1833.0" stroke="#fff" stroke-width="7.4" />
<line x1="854.1" y1="1945.5" x2="918.4" y2="1895.4" stroke="#fff" stroke-width="7.4" />
<line x1="854.1" y1="1945.5" x2="924.5" y2="2056.0" stroke="#fff" stroke-width="7.4" />
<line x1="854.1" y1="1945.5" x2="822.0" y2="1995.8" stroke="#fff" stroke-width="7.4" />
</g>
<ellipse cx="854.1" cy="1945.5" rx="6.5" ry="9.5" transform="rotate(-16 854.1 1945.5)" fill="#fff" stroke="#141414" stroke-width="2.2" />
<ellipse cx="854.1" cy="1945.5" rx="3.0" ry="5.5" transform="rotate(-16 854.1 1945.5)" fill="#fff" stroke="#141414" stroke-width="2" />
<line x1="934.5" y1="2053.2" x2="934.5" y2="2098.2" stroke="#141414" stroke-width="3.0" />
<text x="916.8" y="2135.2" font-size="30" text-anchor="start" font-weight="normal" textLength="27.3" lengthAdjust="spacingAndGlyphs" >11</text>
<path d="M1386.1,964.6 L1349.8,964.6 L1349.8,1950.0 L1388.2,1950.0" fill="none" stroke="#141414" stroke-width="3" stroke-linejoin="round" stroke-linecap="round" />
<text x="1281.0" y="1393.5" font-size="30" text-anchor="start" font-weight="normal" textLength="32.5" lengthAdjust="spacingAndGlyphs" >48</text>
<line x1="1324.6" y1="1379.6" x2="1349.8" y2="1379.6" stroke="#141414" stroke-width="3.1" />
<line x1="1426.4" y1="930.0" x2="1426.4" y2="971.0" stroke="#141414" stroke-width="3.0" />
<ellipse cx="1427.9" cy="992.5" rx="15.6" ry="11.0" fill="#fff" stroke="#141414" stroke-width="3.4" />
<path d="M1416.5,989.0 L1420.0,983.5 L1436.0,983.5 L1439.5,989.0 L1436.0,995.5 L1420.0,995.5 Z" fill="#fff" stroke="#141414" stroke-width="2" stroke-linejoin="round" stroke-linecap="round" />
<line x1="1420.0" y1="995.5" x2="1420.0" y2="1000.0" stroke="#141414" stroke-width="1.8" />
<line x1="1436.0" y1="995.5" x2="1436.0" y2="1000.0" stroke="#141414" stroke-width="1.8" />
<ellipse cx="1428.0" cy="987.5" rx="7.0" ry="3.0" fill="#ddd" stroke="#777" stroke-width="1.4" />
<line x1="1445.0" y1="992.0" x2="1481.4" y2="992.0" stroke="#9c9c9c" stroke-width="1.6" />
<text x="1493.2" y="998.9" font-size="30" text-anchor="start" font-weight="normal" textLength="33.2" lengthAdjust="spacingAndGlyphs" >49</text>
<ellipse cx="1427.9" cy="1013.9" rx="11.6" ry="5.8" fill="#fff" stroke="#141414" stroke-width="3.6" />
<ellipse cx="1427.9" cy="1013.9" rx="5.0" ry="2.2" fill="#bbb" stroke="#141414" stroke-width="2.2" />
<line x1="1441.8" y1="1016.0" x2="1522.1" y2="1016.0" stroke="#9c9c9c" stroke-width="1.6" />
<text x="1533.9" y="1025.7" font-size="30" text-anchor="start" font-weight="normal" textLength="32.1" lengthAdjust="spacingAndGlyphs" >50</text>
<ellipse cx="1427.9" cy="1047.1" rx="19.6" ry="14.6" fill="#fff" stroke="#141414" stroke-width="3.4" />
<path d="M1411,1050 Q1411,1034 1428,1034 Q1445,1034 1445,1050 Q1428,1058 1411,1050 Z" fill="#dcdcdc" stroke="#999" stroke-width="1.4" stroke-linejoin="round" stroke-linecap="round" />
<path d="M1419,1044 Q1428,1037 1437,1044 L1437,1048 Q1428,1052 1419,1048 Z" fill="#f2f2f2" stroke="#aaa" stroke-width="1.2" stroke-linejoin="round" stroke-linecap="round" />
<line x1="1449.3" y1="1052.9" x2="1479.3" y2="1052.9" stroke="#9c9c9c" stroke-width="1.6" />
<text x="1488.9" y="1061.7" font-size="30" text-anchor="start" font-weight="normal" textLength="29.0" lengthAdjust="spacingAndGlyphs" >51</text>
<ellipse cx="1428.5" cy="1083.1" rx="12.8" ry="7.0" fill="none" stroke="#141414" stroke-width="2.8" />
<line x1="1445.0" y1="1083.1" x2="1531.8" y2="1083.1" stroke="#9c9c9c" stroke-width="1.6" />
<text x="1535.0" y="1093.2" font-size="30" text-anchor="start" font-weight="normal" textLength="32.1" lengthAdjust="spacingAndGlyphs" >52</text>
<ellipse cx="1428.3" cy="1108.8" rx="18.6" ry="10.0" fill="none" stroke="#141414" stroke-width="5" />
<line x1="1449.3" y1="1108.8" x2="1479.3" y2="1108.8" stroke="#9c9c9c" stroke-width="1.6" />
<text x="1490.0" y="1118.3" font-size="30" text-anchor="start" font-weight="normal" textLength="33.2" lengthAdjust="spacingAndGlyphs" >53</text>
<path d="M1404,1214 L1404,1266 Q1427.4,1282 1450.6,1266 L1450.6,1214 Z" fill="#fff" stroke="#141414" stroke-width="3" stroke-linejoin="round" stroke-linecap="round" />
<path d="M1393.6,1193.0 L1407.0,1182.0 L1447.5,1182.0 L1460.0,1193.0 L1460.0,1203.0 L1443.5,1214.5 L1410.5,1214.5 L1393.6,1203.0 Z" fill="#fff" stroke="#141414" stroke-width="3" stroke-linejoin="round" stroke-linecap="round" />
<path d="M1393.6,1193.0 L1410.5,1202.5 L1443.5,1202.5 L1460.0,1193.0" fill="none" stroke="#141414" stroke-width="2" stroke-linejoin="round" stroke-linecap="round" />
<line x1="1410.5" y1="1202.5" x2="1410.5" y2="1214.5" stroke="#141414" stroke-width="2" />
<line x1="1443.5" y1="1202.5" x2="1443.5" y2="1214.5" stroke="#141414" stroke-width="2" />
<path d="M1404.5,1163 L1404.5,1186 Q1427.4,1198 1450.2,1186 L1450.2,1163 Q1427.4,1153 1404.5,1163 Z" fill="#fff" stroke="#141414" stroke-width="3" stroke-linejoin="round" stroke-linecap="round" />
<path d="M1405,1175 Q1427.4,1186 1450,1175" fill="none" stroke="#141414" stroke-width="1.8" stroke-linejoin="round" stroke-linecap="round" />
<path d="M1405,1180 Q1427.4,1191 1450,1180" fill="none" stroke="#141414" stroke-width="1.8" stroke-linejoin="round" stroke-linecap="round" />
<path d="M1405,1185 Q1427.4,1196 1450,1185" fill="none" stroke="#141414" stroke-width="1.8" stroke-linejoin="round" stroke-linecap="round" />
<path d="M1407.5,1139.5 L1407.5,1166 Q1427.4,1176 1447.2,1166 L1447.2,1139.5 Z" fill="#fff" stroke="#141414" stroke-width="3" stroke-linejoin="round" stroke-linecap="round" />
<path d="M1407.5,1153 Q1427.4,1163 1447.2,1153" fill="none" stroke="#141414" stroke-width="2.6" stroke-linejoin="round" stroke-linecap="round" />
<path d="M1407.5,1157 Q1427.4,1167 1447.2,1157" fill="none" stroke="#141414" stroke-width="1.6" stroke-linejoin="round" stroke-linecap="round" />
<ellipse cx="1427.4" cy="1139.3" rx="19.8" ry="10.4" fill="#fff" stroke="#141414" stroke-width="3" />
<ellipse cx="1427.4" cy="1139.0" rx="13.0" ry="6.6" fill="none" stroke="#141414" stroke-width="1.8" />
<ellipse cx="1427.4" cy="1139.5" rx="8.0" ry="3.8" fill="none" stroke="#777" stroke-width="1.4" />
<line x1="1451.4" y1="1174.6" x2="1505.0" y2="1174.6" stroke="#9c9c9c" stroke-width="1.6" />
<text x="1514.6" y="1183.2" font-size="30" text-anchor="start" font-weight="normal" textLength="32.2" lengthAdjust="spacingAndGlyphs" >54</text>
<line x1="1444.4" y1="1292.2" x2="1408.8" y2="1309.8" stroke="#141414" stroke-width="5.4" />
<line x1="1444.4" y1="1292.2" x2="1408.8" y2="1309.8" stroke="#fff" stroke-width="1.1" />
<line x1="1444.4" y1="1307.8" x2="1408.8" y2="1325.4" stroke="#141414" stroke-width="5.4" />
<line x1="1444.4" y1="1307.8" x2="1408.8" y2="1325.4" stroke="#fff" stroke-width="1.1" />
<line x1="1444.4" y1="1323.4" x2="1408.8" y2="1341.0" stroke="#141414" stroke-width="5.4" />
<line x1="1444.4" y1="1323.4" x2="1408.8" y2="1341.0" stroke="#fff" stroke-width="1.1" />
<line x1="1444.4" y1="1339.0" x2="1408.8" y2="1356.6" stroke="#141414" stroke-width="5.4" />
<line x1="1444.4" y1="1339.0" x2="1408.8" y2="1356.6" stroke="#fff" stroke-width="1.1" />
<line x1="1444.4" y1="1354.6" x2="1408.8" y2="1372.1" stroke="#141414" stroke-width="5.4" />
<line x1="1444.4" y1="1354.6" x2="1408.8" y2="1372.1" stroke="#fff" stroke-width="1.1" />
<line x1="1444.4" y1="1370.1" x2="1408.8" y2="1387.7" stroke="#141414" stroke-width="5.4" />
<line x1="1444.4" y1="1370.1" x2="1408.8" y2="1387.7" stroke="#fff" stroke-width="1.1" />
<line x1="1444.4" y1="1385.7" x2="1408.8" y2="1403.3" stroke="#141414" stroke-width="5.4" />
<line x1="1444.4" y1="1385.7" x2="1408.8" y2="1403.3" stroke="#fff" stroke-width="1.1" />
<line x1="1444.4" y1="1401.3" x2="1408.8" y2="1418.9" stroke="#141414" stroke-width="5.4" />
<line x1="1444.4" y1="1401.3" x2="1408.8" y2="1418.9" stroke="#fff" stroke-width="1.1" />
<line x1="1444.4" y1="1416.9" x2="1408.8" y2="1434.5" stroke="#141414" stroke-width="5.4" />
<line x1="1444.4" y1="1416.9" x2="1408.8" y2="1434.5" stroke="#fff" stroke-width="1.1" />
<line x1="1444.4" y1="1432.5" x2="1408.8" y2="1450.1" stroke="#141414" stroke-width="5.4" />
<line x1="1444.4" y1="1432.5" x2="1408.8" y2="1450.1" stroke="#fff" stroke-width="1.1" />
<line x1="1444.4" y1="1448.1" x2="1408.8" y2="1465.7" stroke="#141414" stroke-width="5.4" />
<line x1="1444.4" y1="1448.1" x2="1408.8" y2="1465.7" stroke="#fff" stroke-width="1.1" />
<line x1="1444.4" y1="1463.7" x2="1408.8" y2="1481.3" stroke="#141414" stroke-width="5.4" />
<line x1="1444.4" y1="1463.7" x2="1408.8" y2="1481.3" stroke="#fff" stroke-width="1.1" />
<line x1="1444.4" y1="1479.3" x2="1408.8" y2="1496.9" stroke="#141414" stroke-width="5.4" />
<line x1="1444.4" y1="1479.3" x2="1408.8" y2="1496.9" stroke="#fff" stroke-width="1.1" />
<line x1="1444.4" y1="1494.9" x2="1408.8" y2="1512.4" stroke="#141414" stroke-width="5.4" />
<line x1="1444.4" y1="1494.9" x2="1408.8" y2="1512.4" stroke="#fff" stroke-width="1.1" />
<line x1="1444.4" y1="1510.4" x2="1408.8" y2="1528.0" stroke="#141414" stroke-width="5.4" />
<line x1="1444.4" y1="1510.4" x2="1408.8" y2="1528.0" stroke="#fff" stroke-width="1.1" />
<line x1="1444.4" y1="1526.0" x2="1408.8" y2="1543.6" stroke="#141414" stroke-width="5.4" />
<line x1="1444.4" y1="1526.0" x2="1408.8" y2="1543.6" stroke="#fff" stroke-width="1.1" />
<line x1="1444.4" y1="1541.6" x2="1408.8" y2="1559.2" stroke="#141414" stroke-width="5.4" />
<line x1="1444.4" y1="1541.6" x2="1408.8" y2="1559.2" stroke="#fff" stroke-width="1.1" />
<line x1="1444.4" y1="1557.2" x2="1408.8" y2="1574.8" stroke="#141414" stroke-width="5.4" />
<line x1="1444.4" y1="1557.2" x2="1408.8" y2="1574.8" stroke="#fff" stroke-width="1.1" />
<ellipse cx="1426.6" cy="1293.2" rx="18.8" ry="6.2" transform="rotate(-7 1426.6 1293.2)" fill="none" stroke="#141414" stroke-width="6.6" />
<ellipse cx="1426.6" cy="1293.2" rx="18.8" ry="6.2" transform="rotate(-7 1426.6 1293.2)" fill="none" stroke="#fff" stroke-width="1.1" />
<ellipse cx="1426.6" cy="1308.8" rx="18.8" ry="6.2" transform="rotate(-7 1426.6 1308.8)" fill="none" stroke="#141414" stroke-width="6.6" />
<ellipse cx="1426.6" cy="1308.8" rx="18.8" ry="6.2" transform="rotate(-7 1426.6 1308.8)" fill="none" stroke="#fff" stroke-width="1.1" />
<ellipse cx="1426.6" cy="1324.4" rx="18.8" ry="6.2" transform="rotate(-7 1426.6 1324.4)" fill="none" stroke="#141414" stroke-width="6.6" />
<ellipse cx="1426.6" cy="1324.4" rx="18.8" ry="6.2" transform="rotate(-7 1426.6 1324.4)" fill="none" stroke="#fff" stroke-width="1.1" />
<ellipse cx="1426.6" cy="1340.0" rx="18.8" ry="6.2" transform="rotate(-7 1426.6 1340.0)" fill="none" stroke="#141414" stroke-width="6.6" />
<ellipse cx="1426.6" cy="1340.0" rx="18.8" ry="6.2" transform="rotate(-7 1426.6 1340.0)" fill="none" stroke="#fff" stroke-width="1.1" />
<ellipse cx="1426.6" cy="1355.6" rx="18.8" ry="6.2" transform="rotate(-7 1426.6 1355.6)" fill="none" stroke="#141414" stroke-width="6.6" />
<ellipse cx="1426.6" cy="1355.6" rx="18.8" ry="6.2" transform="rotate(-7 1426.6 1355.6)" fill="none" stroke="#fff" stroke-width="1.1" />
<ellipse cx="1426.6" cy="1371.1" rx="18.8" ry="6.2" transform="rotate(-7 1426.6 1371.1)" fill="none" stroke="#141414" stroke-width="6.6" />
<ellipse cx="1426.6" cy="1371.1" rx="18.8" ry="6.2" transform="rotate(-7 1426.6 1371.1)" fill="none" stroke="#fff" stroke-width="1.1" />
<ellipse cx="1426.6" cy="1386.7" rx="18.8" ry="6.2" transform="rotate(-7 1426.6 1386.7)" fill="none" stroke="#141414" stroke-width="6.6" />
<ellipse cx="1426.6" cy="1386.7" rx="18.8" ry="6.2" transform="rotate(-7 1426.6 1386.7)" fill="none" stroke="#fff" stroke-width="1.1" />
<ellipse cx="1426.6" cy="1402.3" rx="18.8" ry="6.2" transform="rotate(-7 1426.6 1402.3)" fill="none" stroke="#141414" stroke-width="6.6" />
<ellipse cx="1426.6" cy="1402.3" rx="18.8" ry="6.2" transform="rotate(-7 1426.6 1402.3)" fill="none" stroke="#fff" stroke-width="1.1" />
<ellipse cx="1426.6" cy="1417.9" rx="18.8" ry="6.2" transform="rotate(-7 1426.6 1417.9)" fill="none" stroke="#141414" stroke-width="6.6" />
<ellipse cx="1426.6" cy="1417.9" rx="18.8" ry="6.2" transform="rotate(-7 1426.6 1417.9)" fill="none" stroke="#fff" stroke-width="1.1" />
<ellipse cx="1426.6" cy="1433.5" rx="18.8" ry="6.2" transform="rotate(-7 1426.6 1433.5)" fill="none" stroke="#141414" stroke-width="6.6" />
<ellipse cx="1426.6" cy="1433.5" rx="18.8" ry="6.2" transform="rotate(-7 1426.6 1433.5)" fill="none" stroke="#fff" stroke-width="1.1" />
<ellipse cx="1426.6" cy="1449.1" rx="18.8" ry="6.2" transform="rotate(-7 1426.6 1449.1)" fill="none" stroke="#141414" stroke-width="6.6" />
<ellipse cx="1426.6" cy="1449.1" rx="18.8" ry="6.2" transform="rotate(-7 1426.6 1449.1)" fill="none" stroke="#fff" stroke-width="1.1" />
<ellipse cx="1426.6" cy="1464.7" rx="18.8" ry="6.2" transform="rotate(-7 1426.6 1464.7)" fill="none" stroke="#141414" stroke-width="6.6" />
<ellipse cx="1426.6" cy="1464.7" rx="18.8" ry="6.2" transform="rotate(-7 1426.6 1464.7)" fill="none" stroke="#fff" stroke-width="1.1" />
<ellipse cx="1426.6" cy="1480.3" rx="18.8" ry="6.2" transform="rotate(-7 1426.6 1480.3)" fill="none" stroke="#141414" stroke-width="6.6" />
<ellipse cx="1426.6" cy="1480.3" rx="18.8" ry="6.2" transform="rotate(-7 1426.6 1480.3)" fill="none" stroke="#fff" stroke-width="1.1" />
<ellipse cx="1426.6" cy="1495.9" rx="18.8" ry="6.2" transform="rotate(-7 1426.6 1495.9)" fill="none" stroke="#141414" stroke-width="6.6" />
<ellipse cx="1426.6" cy="1495.9" rx="18.8" ry="6.2" transform="rotate(-7 1426.6 1495.9)" fill="none" stroke="#fff" stroke-width="1.1" />
<ellipse cx="1426.6" cy="1511.4" rx="18.8" ry="6.2" transform="rotate(-7 1426.6 1511.4)" fill="none" stroke="#141414" stroke-width="6.6" />
<ellipse cx="1426.6" cy="1511.4" rx="18.8" ry="6.2" transform="rotate(-7 1426.6 1511.4)" fill="none" stroke="#fff" stroke-width="1.1" />
<ellipse cx="1426.6" cy="1527.0" rx="18.8" ry="6.2" transform="rotate(-7 1426.6 1527.0)" fill="none" stroke="#141414" stroke-width="6.6" />
<ellipse cx="1426.6" cy="1527.0" rx="18.8" ry="6.2" transform="rotate(-7 1426.6 1527.0)" fill="none" stroke="#fff" stroke-width="1.1" />
<ellipse cx="1426.6" cy="1542.6" rx="18.8" ry="6.2" transform="rotate(-7 1426.6 1542.6)" fill="none" stroke="#141414" stroke-width="6.6" />
<ellipse cx="1426.6" cy="1542.6" rx="18.8" ry="6.2" transform="rotate(-7 1426.6 1542.6)" fill="none" stroke="#fff" stroke-width="1.1" />
<ellipse cx="1426.6" cy="1558.2" rx="18.8" ry="6.2" transform="rotate(-7 1426.6 1558.2)" fill="none" stroke="#141414" stroke-width="6.6" />
<ellipse cx="1426.6" cy="1558.2" rx="18.8" ry="6.2" transform="rotate(-7 1426.6 1558.2)" fill="none" stroke="#fff" stroke-width="1.1" />
<ellipse cx="1426.6" cy="1573.8" rx="18.8" ry="6.2" transform="rotate(-7 1426.6 1573.8)" fill="none" stroke="#141414" stroke-width="6.6" />
<ellipse cx="1426.6" cy="1573.8" rx="18.8" ry="6.2" transform="rotate(-7 1426.6 1573.8)" fill="none" stroke="#fff" stroke-width="1.1" />
<line x1="1449.8" y1="1426.3" x2="1505.0" y2="1426.3" stroke="#9c9c9c" stroke-width="1.6" />
<text x="1512.6" y="1434.8" font-size="30" text-anchor="start" font-weight="normal" textLength="34.8" lengthAdjust="spacingAndGlyphs" >55</text>
<path d="M1420,1598 Q1420,1592 1426.7,1592 Q1433.7,1592 1433.7,1598 L1434.5,1620 L1439,1637 L1439,1910 L1443.4,1912 L1443.4,1923 Q1427.5,1934 1411.6,1923 L1411.6,1912 L1415.2,1910 L1415.2,1637 L1419.5,1620 Z" fill="#fff" stroke="#141414" stroke-width="2.6" stroke-linejoin="round" stroke-linecap="round" />
<rect x="1422.0" y="1597.0" width="9.5" height="20.0" fill="#d4d4d4" stroke="none" stroke-width="0" />
<path d="M1415.2,1637 Q1427,1643 1439,1637" fill="none" stroke="#888" stroke-width="1.4" stroke-linejoin="round" stroke-linecap="round" />
<path d="M1415.2,1640 Q1427,1646 1439,1640" fill="none" stroke="#aaa" stroke-width="1.2" stroke-linejoin="round" stroke-linecap="round" />
<path d="M1411.6,1913 Q1427.5,1921 1443.4,1913" fill="none" stroke="#666" stroke-width="1.6" stroke-linejoin="round" stroke-linecap="round" />
<line x1="1421.0" y1="1645.0" x2="1421.0" y2="1906.0" stroke="#aaa" stroke-width="1.2" />
<line x1="1439.2" y1="1774.7" x2="1502.8" y2="1774.7" stroke="#9c9c9c" stroke-width="1.6" />
<text x="1512.6" y="1787.4" font-size="30" text-anchor="start" font-weight="normal" textLength="34.8" lengthAdjust="spacingAndGlyphs" >56</text>
<path d="M1604,898 Q1604,895 1612,895 Q1620,895 1620,898 L1620,968 Q1612,974 1604,968 Z" fill="#b9b9b9" stroke="#141414" stroke-width="2.6" stroke-linejoin="round" stroke-linecap="round" />
<line x1="1605.5" y1="899.8" x2="1618.5" y2="898.4" stroke="#7c7c7c" stroke-width="0.9" />
<line x1="1605.5" y1="903.0" x2="1618.5" y2="901.6" stroke="#7c7c7c" stroke-width="0.9" />
<line x1="1605.5" y1="906.2" x2="1618.5" y2="904.8" stroke="#7c7c7c" stroke-width="0.9" />
<line x1="1605.5" y1="909.4" x2="1618.5" y2="908.0" stroke="#7c7c7c" stroke-width="0.9" />
<line x1="1605.5" y1="912.6" x2="1618.5" y2="911.2" stroke="#7c7c7c" stroke-width="0.9" />
<line x1="1605.5" y1="915.8" x2="1618.5" y2="914.4" stroke="#7c7c7c" stroke-width="0.9" />
<line x1="1605.5" y1="919.0" x2="1618.5" y2="917.6" stroke="#7c7c7c" stroke-width="0.9" />
<line x1="1605.5" y1="922.2" x2="1618.5" y2="920.8" stroke="#7c7c7c" stroke-width="0.9" />
<line x1="1605.5" y1="925.4" x2="1618.5" y2="924.0" stroke="#7c7c7c" stroke-width="0.9" />
<line x1="1605.5" y1="928.6" x2="1618.5" y2="927.2" stroke="#7c7c7c" stroke-width="0.9" />
<line x1="1605.5" y1="931.8" x2="1618.5" y2="930.4" stroke="#7c7c7c" stroke-width="0.9" />
<line x1="1605.5" y1="935.0" x2="1618.5" y2="933.6" stroke="#7c7c7c" stroke-width="0.9" />
<line x1="1605.5" y1="938.2" x2="1618.5" y2="936.8" stroke="#7c7c7c" stroke-width="0.9" />
<line x1="1605.5" y1="941.4" x2="1618.5" y2="940.0" stroke="#7c7c7c" stroke-width="0.9" />
<line x1="1605.5" y1="944.6" x2="1618.5" y2="943.2" stroke="#7c7c7c" stroke-width="0.9" />
<line x1="1605.5" y1="947.8" x2="1618.5" y2="946.4" stroke="#7c7c7c" stroke-width="0.9" />
<line x1="1605.5" y1="951.0" x2="1618.5" y2="949.6" stroke="#7c7c7c" stroke-width="0.9" />
<line x1="1605.5" y1="954.2" x2="1618.5" y2="952.8" stroke="#7c7c7c" stroke-width="0.9" />
<line x1="1605.5" y1="957.4" x2="1618.5" y2="956.0" stroke="#7c7c7c" stroke-width="0.9" />
<line x1="1605.5" y1="960.6" x2="1618.5" y2="959.2" stroke="#7c7c7c" stroke-width="0.9" />
<line x1="1605.5" y1="963.8" x2="1618.5" y2="962.4" stroke="#7c7c7c" stroke-width="0.9" />
<line x1="1605.5" y1="967.0" x2="1618.5" y2="965.6" stroke="#7c7c7c" stroke-width="0.9" />
<line x1="1620.3" y1="929.7" x2="1661.0" y2="929.7" stroke="#141414" stroke-width="3.0" />
<text x="1673.0" y="938.2" font-size="30" text-anchor="start" font-weight="normal" textLength="13.5" lengthAdjust="spacingAndGlyphs" >1</text>
<ellipse cx="1611.7" cy="996.1" rx="17.6" ry="10.5" fill="#fff" stroke="#141414" stroke-width="4" />
<ellipse cx="1611.7" cy="996.6" rx="8.6" ry="4.4" fill="#e4e4e4" stroke="#141414" stroke-width="2.6" />
<line x1="1631.4" y1="995.7" x2="1671.0" y2="995.7" stroke="#141414" stroke-width="3.0" />
<text x="1679.6" y="1006.4" font-size="30" text-anchor="start" font-weight="normal" textLength="15.0" lengthAdjust="spacingAndGlyphs" >2</text>
<path d="M1591.0,1034.0 L1602.0,1023.5 L1623.0,1023.5 L1634.5,1034.0 L1634.5,1040.5 L1623.0,1051.5 L1602.0,1051.5 L1591.0,1040.5 Z" fill="#fff" stroke="#141414" stroke-width="3.6" stroke-linejoin="round" stroke-linecap="round" />
<path d="M1591.0,1034.0 L1602.0,1044.5 L1623.0,1044.5 L1634.5,1034.0" fill="none" stroke="#141414" stroke-width="2.2" stroke-linejoin="round" stroke-linecap="round" />
<line x1="1602.0" y1="1044.5" x2="1602.0" y2="1051.5" stroke="#141414" stroke-width="2.7" />
<line x1="1623.0" y1="1044.5" x2="1623.0" y2="1051.5" stroke="#141414" stroke-width="2.7" />
<ellipse cx="1612.5" cy="1033.0" rx="10.5" ry="6.0" fill="#cfcfcf" stroke="#141414" stroke-width="2.4" />
<line x1="1634.6" y1="1036.4" x2="1671.0" y2="1036.4" stroke="#141414" stroke-width="3.0" />
<text x="1680.7" y="1048.2" font-size="30" text-anchor="start" font-weight="normal" textLength="14.0" lengthAdjust="spacingAndGlyphs" >3</text>
<rect x="1612.8" y="1129.4" width="355.5" height="1217.8" fill="none" stroke="#141414" stroke-width="3" />
<ellipse cx="1790.0" cy="1188.0" rx="14.8" ry="6.6" transform="rotate(-8 1790.0 1188.0)" fill="none" stroke="#141414" stroke-width="5" />
<ellipse cx="1790.0" cy="1200.2" rx="14.8" ry="6.6" transform="rotate(-8 1790.0 1200.2)" fill="none" stroke="#141414" stroke-width="5" />
<ellipse cx="1790.0" cy="1212.4" rx="14.8" ry="6.6" transform="rotate(-8 1790.0 1212.4)" fill="none" stroke="#141414" stroke-width="5" />
<ellipse cx="1790.0" cy="1224.6" rx="14.8" ry="6.6" transform="rotate(-8 1790.0 1224.6)" fill="none" stroke="#141414" stroke-width="5" />
<ellipse cx="1790.0" cy="1236.8" rx="14.8" ry="6.6" transform="rotate(-8 1790.0 1236.8)" fill="none" stroke="#141414" stroke-width="5" />
<ellipse cx="1790.0" cy="1249.0" rx="14.8" ry="6.6" transform="rotate(-8 1790.0 1249.0)" fill="none" stroke="#141414" stroke-width="5" />
<path d="M1781.7,1187.7 L1781.2,1187.4 L1780.7,1187.0 L1780.4,1186.6 L1780.2,1186.2 L1780.1,1185.8 L1780.1,1185.4 L1780.2,1184.9 L1780.5,1184.5 L1780.9,1184.0 L1781.3,1183.5 L1781.9,1183.1 L1782.6,1182.7 L1783.4,1182.3 L1784.2,1181.9 L1785.1,1181.6 L1786.1,1181.3 L1787.1,1181.0 L1788.2,1180.8 L1789.2,1180.6 L1790.3,1180.4 L1791.4,1180.3 L1792.4,1180.3 L1793.5,1180.3 L1794.5,1180.4 L1795.4,1180.5 L1796.3,1180.6 L1797.1,1180.8 L1797.8,1181.1 L1798.4,1181.4 L1798.9,1181.7 L1799.4,1182.1 L1799.7,1182.4 L1799.8,1182.9 L1799.9,1183.3 L1799.9,1183.7 L1799.7,1184.2 L1799.4,1184.6 L1799.0,1185.1 L1798.5,1185.5 L1797.9,1186.0" fill="none" stroke="#141414" stroke-width="3" stroke-linejoin="round" stroke-linecap="round" />
<line x1="1806.4" y1="1221.9" x2="1844.6" y2="1221.9" stroke="#141414" stroke-width="3.1" />
<text x="1857.7" y="1227.9" font-size="30" text-anchor="start" font-weight="normal" textLength="31.5" lengthAdjust="spacingAndGlyphs" >57</text>
<ellipse cx="1789.4" cy="1275.0" rx="14.2" ry="10.4" fill="#fff" stroke="#141414" stroke-width="4" />
<path d="M1779.0,1272.0 L1782.5,1266.5 L1796.5,1266.5 L1800.0,1272.0 L1796.5,1278.5 L1782.5,1278.5 Z" fill="#fff" stroke="#141414" stroke-width="2.6" stroke-linejoin="round" stroke-linecap="round" />
<line x1="1782.5" y1="1278.5" x2="1782.5" y2="1283.0" stroke="#141414" stroke-width="2.7" />
<line x1="1796.5" y1="1278.5" x2="1796.5" y2="1283.0" stroke="#141414" stroke-width="2.7" />
<ellipse cx="1789.5" cy="1270.5" rx="5.5" ry="2.6" fill="#888" stroke="#141414" stroke-width="2" />
<line x1="1804.4" y1="1274.5" x2="1842.6" y2="1274.5" stroke="#141414" stroke-width="3.1" />
<text x="1853.6" y="1277.5" font-size="30" text-anchor="start" font-weight="normal" textLength="33.2" lengthAdjust="spacingAndGlyphs" >49</text>
<ellipse cx="1791.4" cy="1298.2" rx="11.2" ry="5.8" fill="#fff" stroke="#141414" stroke-width="3.6" />
<ellipse cx="1791.4" cy="1298.2" rx="5.0" ry="2.4" fill="#999" stroke="#141414" stroke-width="2.4" />
<line x1="1805.4" y1="1300.0" x2="1888.8" y2="1300.0" stroke="#141414" stroke-width="3.1" />
<text x="1898.8" y="1305.6" font-size="30" text-anchor="start" font-weight="normal" textLength="33.2" lengthAdjust="spacingAndGlyphs" >50</text>
<ellipse cx="1790.4" cy="1330.0" rx="18.0" ry="12.8" fill="#fff" stroke="#141414" stroke-width="5" />
<ellipse cx="1790.4" cy="1325.5" rx="18.0" ry="11.5" fill="#fff" stroke="#141414" stroke-width="4" />
<ellipse cx="1790.4" cy="1324.5" rx="11.5" ry="6.5" fill="#fff" stroke="#141414" stroke-width="3.6" />
<path d="M1779,1326 Q1790.4,1318 1802,1326" fill="none" stroke="#141414" stroke-width="2.4" stroke-linejoin="round" stroke-linecap="round" />
<line x1="1809.5" y1="1332.7" x2="1840.6" y2="1332.7" stroke="#141414" stroke-width="3.1" />
<text x="1850.6" y="1339.8" font-size="30" text-anchor="start" font-weight="normal" textLength="29.2" lengthAdjust="spacingAndGlyphs" >51</text>
<ellipse cx="1790.4" cy="1362.4" rx="12.6" ry="7.0" fill="none" stroke="#141414" stroke-width="3" />
<line x1="1804.4" y1="1362.9" x2="1890.8" y2="1362.9" stroke="#141414" stroke-width="3.1" />
<text x="1903.9" y="1363.9" font-size="30" text-anchor="start" font-weight="normal" textLength="33.1" lengthAdjust="spacingAndGlyphs" >52</text>
<ellipse cx="1790.0" cy="1387.6" rx="17.6" ry="9.8" fill="none" stroke="#141414" stroke-width="3.8" />
<line x1="1809.5" y1="1387.6" x2="1840.6" y2="1387.6" stroke="#141414" stroke-width="3.1" />
<text x="1855.7" y="1397.0" font-size="30" text-anchor="start" font-weight="normal" textLength="33.1" lengthAdjust="spacingAndGlyphs" >53</text>
<path d="M1772,1479 L1772,1518 Q1789.4,1532 1808,1518 L1808,1479 Z" fill="#fff" stroke="#141414" stroke-width="3" stroke-linejoin="round" stroke-linecap="round" />
<path d="M1766,1444 L1766,1476 Q1789.4,1490 1812.5,1476 L1812.5,1444 Q1789.4,1432 1766,1444 Z" fill="#fff" stroke="#141414" stroke-width="3" stroke-linejoin="round" stroke-linecap="round" />
<path d="M1766,1452 Q1789.4,1465 1812.5,1452" fill="none" stroke="#141414" stroke-width="2" stroke-linejoin="round" stroke-linecap="round" />
<path d="M1766,1458 Q1789.4,1471 1812.5,1458" fill="none" stroke="#141414" stroke-width="2" stroke-linejoin="round" stroke-linecap="round" />
<path d="M1766,1464 Q1789.4,1477 1812.5,1464" fill="none" stroke="#141414" stroke-width="2" stroke-linejoin="round" stroke-linecap="round" />
<path d="M1766,1470 Q1789.4,1483 1812.5,1470" fill="none" stroke="#141414" stroke-width="2" stroke-linejoin="round" stroke-linecap="round" />
<path d="M1770.5,1412 L1770.5,1441 Q1789.4,1452 1808.5,1441 L1808.5,1412 Z" fill="#fff" stroke="#141414" stroke-width="3" stroke-linejoin="round" stroke-linecap="round" />
<path d="M1770.5,1422 Q1789.4,1433 1808.5,1422" fill="none" stroke="#141414" stroke-width="2.6" stroke-linejoin="round" stroke-linecap="round" />
<path d="M1770.5,1427 Q1789.4,1438 1808.5,1427" fill="none" stroke="#141414" stroke-width="2" stroke-linejoin="round" stroke-linecap="round" />
<ellipse cx="1789.4" cy="1412.0" rx="19.0" ry="9.0" fill="#fff" stroke="#141414" stroke-width="3" />
<ellipse cx="1789.4" cy="1411.5" rx="12.0" ry="5.4" fill="none" stroke="#141414" stroke-width="2" />
<ellipse cx="1789.4" cy="1412.0" rx="7.0" ry="3.0" fill="none" stroke="#777" stroke-width="1.4" />
<line x1="1812.5" y1="1461.9" x2="1883.8" y2="1461.9" stroke="#141414" stroke-width="3.1" />
<text x="1898.8" y="1469.3" font-size="30" text-anchor="start" font-weight="normal" textLength="33.2" lengthAdjust="spacingAndGlyphs" >58</text>
<path d="M1753.8,1551.6 L1771.3,1535.6 L1809.5,1535.6 L1826.1,1551.6 L1826.1,1562.7 L1808.5,1581.8 L1772.3,1581.8 L1753.8,1562.7 Z" fill="#fff" stroke="#141414" stroke-width="3.2" stroke-linejoin="round" stroke-linecap="round" />
<path d="M1753.8,1551.6 L1772.3,1567.7 L1809.5,1567.7 L1826.1,1551.6" fill="none" stroke="#141414" stroke-width="2.4" stroke-linejoin="round" stroke-linecap="round" />
<line x1="1772.3" y1="1567.7" x2="1772.3" y2="1581.8" stroke="#141414" stroke-width="3.0" />
<line x1="1809.5" y1="1567.7" x2="1809.5" y2="1581.8" stroke="#141414" stroke-width="3.0" />
<ellipse cx="1790.0" cy="1548.0" rx="22.0" ry="11.6" fill="#fff" stroke="#141414" stroke-width="2.8" />
<path d="M1808.7,1552.1 L1808.4,1552.7 L1808.1,1553.3 L1807.6,1553.9 L1807.1,1554.4 L1806.5,1555.0 L1805.8,1555.5 L1805.0,1556.0 L1804.1,1556.5 L1803.2,1557.0 L1802.2,1557.4 L1801.2,1557.8 L1800.1,1558.1 L1798.9,1558.4 L1797.7,1558.7 L1796.5,1559.0 L1795.2,1559.2 L1794.0,1559.3 L1792.6,1559.4 L1791.3,1559.5 L1790.0,1559.5 L1788.7,1559.5 L1787.4,1559.4 L1786.0,1559.3 L1784.8,1559.2 L1783.5,1559.0 L1782.3,1558.7 L1781.1,1558.4 L1779.9,1558.1 L1778.8,1557.8 L1777.8,1557.4 L1776.8,1557.0 L1775.9,1556.5 L1775.0,1556.0 L1774.2,1555.5 L1773.5,1555.0 L1772.9,1554.4 L1772.4,1553.9 L1771.9,1553.3 L1771.6,1552.7 L1771.3,1552.1" fill="none" stroke="#141414" stroke-width="1.8" stroke-linejoin="round" stroke-linecap="round" />
<path d="M1806.9,1555.1 L1806.6,1555.6 L1806.2,1556.1 L1805.7,1556.5 L1805.2,1557.0 L1804.6,1557.4 L1803.9,1557.9 L1803.2,1558.3 L1802.4,1558.7 L1801.5,1559.0 L1800.7,1559.3 L1799.7,1559.7 L1798.8,1559.9 L1797.7,1560.2 L1796.7,1560.4 L1795.6,1560.6 L1794.5,1560.7 L1793.4,1560.8 L1792.3,1560.9 L1791.1,1561.0 L1790.0,1561.0 L1788.9,1561.0 L1787.7,1560.9 L1786.6,1560.8 L1785.5,1560.7 L1784.4,1560.6 L1783.3,1560.4 L1782.3,1560.2 L1781.2,1559.9 L1780.3,1559.7 L1779.3,1559.3 L1778.5,1559.0 L1777.6,1558.7 L1776.8,1558.3 L1776.1,1557.9 L1775.4,1557.4 L1774.8,1557.0 L1774.3,1556.5 L1773.8,1556.1 L1773.4,1555.6 L1773.1,1555.1" fill="none" stroke="#141414" stroke-width="1.6" stroke-linejoin="round" stroke-linecap="round" />
<path d="M1804.1,1557.7 L1803.8,1558.1 L1803.4,1558.5 L1802.9,1558.8 L1802.4,1559.1 L1801.9,1559.5 L1801.3,1559.8 L1800.7,1560.1 L1800.0,1560.3 L1799.3,1560.6 L1798.6,1560.8 L1797.8,1561.0 L1797.0,1561.2 L1796.2,1561.4 L1795.4,1561.6 L1794.5,1561.7 L1793.6,1561.8 L1792.7,1561.9 L1791.8,1562.0 L1790.9,1562.0 L1790.0,1562.0 L1789.1,1562.0 L1788.2,1562.0 L1787.3,1561.9 L1786.4,1561.8 L1785.5,1561.7 L1784.6,1561.6 L1783.8,1561.4 L1783.0,1561.2 L1782.2,1561.0 L1781.4,1560.8 L1780.7,1560.6 L1780.0,1560.3 L1779.3,1560.1 L1778.7,1559.8 L1778.1,1559.5 L1777.6,1559.1 L1777.1,1558.8 L1776.6,1558.5 L1776.2,1558.1 L1775.9,1557.7" fill="none" stroke="#141414" stroke-width="1.4" stroke-linejoin="round" stroke-linecap="round" />
<line x1="1826.1" y1="1558.1" x2="1885.8" y2="1558.1" stroke="#141414" stroke-width="3.1" />
<text x="1900.8" y="1564.7" font-size="30" text-anchor="start" font-weight="normal" textLength="32.2" lengthAdjust="spacingAndGlyphs" >59</text>
<path d="M1772.4,1596.6 L1713.6,1596.6 L1713.6,2183.4 L1772.4,2183.4" fill="none" stroke="#141414" stroke-width="3" stroke-linejoin="round" stroke-linecap="round" />
<text x="1628.0" y="1874.4" font-size="30" text-anchor="start" font-weight="normal" textLength="33.2" lengthAdjust="spacingAndGlyphs" >60</text>
<line x1="1668.4" y1="1860.9" x2="1713.6" y2="1860.9" stroke="#141414" stroke-width="3.1" />
<path d="M1779,1640 L1779,1780 Q1789.5,1790 1800,1780 L1800,1640 Q1789.5,1634 1779,1640 Z" fill="#fff" stroke="#141414" stroke-width="2.8" stroke-linejoin="round" stroke-linecap="round" />
<line x1="1784.5" y1="1645.0" x2="1784.5" y2="1778.0" stroke="#aaa" stroke-width="1.2" />
<path d="M1783.3,1617 Q1783.3,1613 1790,1613 Q1796.8,1613 1796.8,1617 L1796.8,1637 L1783.3,1637 Z" fill="#222" stroke="#141414" stroke-width="2" stroke-linejoin="round" stroke-linecap="round" />
<line x1="1801.2" y1="1695.3" x2="1884.8" y2="1695.3" stroke="#141414" stroke-width="3.1" />
<text x="1899.7" y="1703.8" font-size="30" text-anchor="start" font-weight="normal" textLength="31.8" lengthAdjust="spacingAndGlyphs" >61</text>
<ellipse cx="1788.5" cy="1808.5" rx="19.4" ry="10.6" fill="#fff" stroke="#141414" stroke-width="3" />
<ellipse cx="1788.5" cy="1805.5" rx="19.4" ry="10.6" fill="#fff" stroke="#141414" stroke-width="3.2" />
<ellipse cx="1788.5" cy="1806.0" rx="10.2" ry="5.0" fill="#fff" stroke="#141414" stroke-width="2.6" />
<line x1="1808.4" y1="1807.8" x2="1887.0" y2="1807.8" stroke="#141414" stroke-width="3.1" />
<text x="1898.4" y="1815.0" font-size="30" text-anchor="start" font-weight="normal" textLength="34.0" lengthAdjust="spacingAndGlyphs" >62</text>
<line x1="1802.9" y1="1848.4" x2="1769.7" y2="1866.6" stroke="#141414" stroke-width="4.8" />
<line x1="1802.9" y1="1848.4" x2="1769.7" y2="1866.6" stroke="#fff" stroke-width="1.3" />
<line x1="1802.9" y1="1864.6" x2="1769.7" y2="1882.8" stroke="#141414" stroke-width="4.8" />
<line x1="1802.9" y1="1864.6" x2="1769.7" y2="1882.8" stroke="#fff" stroke-width="1.3" />
<line x1="1802.9" y1="1880.8" x2="1769.7" y2="1899.0" stroke="#141414" stroke-width="4.8" />
<line x1="1802.9" y1="1880.8" x2="1769.7" y2="1899.0" stroke="#fff" stroke-width="1.3" />
<line x1="1802.9" y1="1897.0" x2="1769.7" y2="1915.2" stroke="#141414" stroke-width="4.8" />
<line x1="1802.9" y1="1897.0" x2="1769.7" y2="1915.2" stroke="#fff" stroke-width="1.3" />
<line x1="1802.9" y1="1913.2" x2="1769.7" y2="1931.3" stroke="#141414" stroke-width="4.8" />
<line x1="1802.9" y1="1913.2" x2="1769.7" y2="1931.3" stroke="#fff" stroke-width="1.3" />
<line x1="1802.9" y1="1929.3" x2="1769.7" y2="1947.5" stroke="#141414" stroke-width="4.8" />
<line x1="1802.9" y1="1929.3" x2="1769.7" y2="1947.5" stroke="#fff" stroke-width="1.3" />
<line x1="1802.9" y1="1945.5" x2="1769.7" y2="1963.7" stroke="#141414" stroke-width="4.8" />
<line x1="1802.9" y1="1945.5" x2="1769.7" y2="1963.7" stroke="#fff" stroke-width="1.3" />
<line x1="1802.9" y1="1961.7" x2="1769.7" y2="1979.9" stroke="#141414" stroke-width="4.8" />
<line x1="1802.9" y1="1961.7" x2="1769.7" y2="1979.9" stroke="#fff" stroke-width="1.3" />
<line x1="1802.9" y1="1977.9" x2="1769.7" y2="1996.1" stroke="#141414" stroke-width="4.8" />
<line x1="1802.9" y1="1977.9" x2="1769.7" y2="1996.1" stroke="#fff" stroke-width="1.3" />
<ellipse cx="1786.3" cy="1849.4" rx="17.6" ry="7.4" transform="rotate(-7 1786.3 1849.4)" fill="none" stroke="#141414" stroke-width="5.6" />
<ellipse cx="1786.3" cy="1849.4" rx="17.6" ry="7.4" transform="rotate(-7 1786.3 1849.4)" fill="none" stroke="#fff" stroke-width="1.3" />
<ellipse cx="1786.3" cy="1865.6" rx="17.6" ry="7.4" transform="rotate(-7 1786.3 1865.6)" fill="none" stroke="#141414" stroke-width="5.6" />
<ellipse cx="1786.3" cy="1865.6" rx="17.6" ry="7.4" transform="rotate(-7 1786.3 1865.6)" fill="none" stroke="#fff" stroke-width="1.3" />
<ellipse cx="1786.3" cy="1881.8" rx="17.6" ry="7.4" transform="rotate(-7 1786.3 1881.8)" fill="none" stroke="#141414" stroke-width="5.6" />
<ellipse cx="1786.3" cy="1881.8" rx="17.6" ry="7.4" transform="rotate(-7 1786.3 1881.8)" fill="none" stroke="#fff" stroke-width="1.3" />
<ellipse cx="1786.3" cy="1898.0" rx="17.6" ry="7.4" transform="rotate(-7 1786.3 1898.0)" fill="none" stroke="#141414" stroke-width="5.6" />
<ellipse cx="1786.3" cy="1898.0" rx="17.6" ry="7.4" transform="rotate(-7 1786.3 1898.0)" fill="none" stroke="#fff" stroke-width="1.3" />
<ellipse cx="1786.3" cy="1914.2" rx="17.6" ry="7.4" transform="rotate(-7 1786.3 1914.2)" fill="none" stroke="#141414" stroke-width="5.6" />
<ellipse cx="1786.3" cy="1914.2" rx="17.6" ry="7.4" transform="rotate(-7 1786.3 1914.2)" fill="none" stroke="#fff" stroke-width="1.3" />
<ellipse cx="1786.3" cy="1930.3" rx="17.6" ry="7.4" transform="rotate(-7 1786.3 1930.3)" fill="none" stroke="#141414" stroke-width="5.6" />
<ellipse cx="1786.3" cy="1930.3" rx="17.6" ry="7.4" transform="rotate(-7 1786.3 1930.3)" fill="none" stroke="#fff" stroke-width="1.3" />
<ellipse cx="1786.3" cy="1946.5" rx="17.6" ry="7.4" transform="rotate(-7 1786.3 1946.5)" fill="none" stroke="#141414" stroke-width="5.6" />
<ellipse cx="1786.3" cy="1946.5" rx="17.6" ry="7.4" transform="rotate(-7 1786.3 1946.5)" fill="none" stroke="#fff" stroke-width="1.3" />
<ellipse cx="1786.3" cy="1962.7" rx="17.6" ry="7.4" transform="rotate(-7 1786.3 1962.7)" fill="none" stroke="#141414" stroke-width="5.6" />
<ellipse cx="1786.3" cy="1962.7" rx="17.6" ry="7.4" transform="rotate(-7 1786.3 1962.7)" fill="none" stroke="#fff" stroke-width="1.3" />
<ellipse cx="1786.3" cy="1978.9" rx="17.6" ry="7.4" transform="rotate(-7 1786.3 1978.9)" fill="none" stroke="#141414" stroke-width="5.6" />
<ellipse cx="1786.3" cy="1978.9" rx="17.6" ry="7.4" transform="rotate(-7 1786.3 1978.9)" fill="none" stroke="#fff" stroke-width="1.3" />
<ellipse cx="1786.3" cy="1995.1" rx="17.6" ry="7.4" transform="rotate(-7 1786.3 1995.1)" fill="none" stroke="#141414" stroke-width="5.6" />
<ellipse cx="1786.3" cy="1995.1" rx="17.6" ry="7.4" transform="rotate(-7 1786.3 1995.1)" fill="none" stroke="#fff" stroke-width="1.3" />
<line x1="1806.3" y1="1928.8" x2="1887.0" y2="1928.8" stroke="#141414" stroke-width="3.1" />
<text x="1897.6" y="1936.8" font-size="30" text-anchor="start" font-weight="normal" textLength="33.9" lengthAdjust="spacingAndGlyphs" >63</text>
<path d="M1774.5,2046 L1774.5,2152 L1768.5,2154 L1768.5,2162 Q1788.5,2176 1808.4,2162 L1808.4,2154 L1803,2152 L1803,2046 Z" fill="#fff" stroke="#141414" stroke-width="3" stroke-linejoin="round" stroke-linecap="round" />
<path d="M1768.5,2155 Q1788.5,2168 1808.4,2155" fill="none" stroke="#141414" stroke-width="2.2" stroke-linejoin="round" stroke-linecap="round" />
<path d="M1774.5,2150 Q1788.5,2158 1803,2150" fill="none" stroke="#141414" stroke-width="1.6" stroke-linejoin="round" stroke-linecap="round" />
<ellipse cx="1788.6" cy="2045.0" rx="14.3" ry="6.8" fill="#fff" stroke="#141414" stroke-width="3" />
<ellipse cx="1788.6" cy="2045.5" rx="9.5" ry="4.0" fill="none" stroke="#999" stroke-width="1.4" />
<rect x="1793.3" y="2062.0" width="3.4" height="17.0" fill="#222" stroke="#141414" stroke-width="1.5" />
<line x1="1804.2" y1="2139.2" x2="1884.8" y2="2139.2" stroke="#141414" stroke-width="3.1" />
<text x="1899.7" y="2145.2" font-size="30" text-anchor="start" font-weight="normal" textLength="33.9" lengthAdjust="spacingAndGlyphs" >64</text>
<line x1="1796.0" y1="2072.5" x2="1825.0" y2="2084.8" stroke="#141414" stroke-width="3.0" />
<path d="M1824.5,2082.0 L1853.5,2094.0 L1852.0,2099.0 L1823.0,2086.5 Z" fill="#fff" stroke="#141414" stroke-width="2" stroke-linejoin="round" stroke-linecap="round" />
<line x1="1870.0" y1="2044.6" x2="1842.4" y2="2087.0" stroke="#141414" stroke-width="3.0" />
<text x="1868.7" y="2038.5" font-size="30" text-anchor="start" font-weight="normal" textLength="35.2" lengthAdjust="spacingAndGlyphs" >65</text>
<text x="1634.4" y="2252.5" font-size="31" text-anchor="start" font-weight="normal" textLength="145.6" lengthAdjust="spacingAndGlyphs" >older units</text>
<text x="1634.4" y="2288.6" font-size="31" text-anchor="start" font-weight="normal" textLength="301.4" lengthAdjust="spacingAndGlyphs" >Pressure Relief Valve</text>
<text x="1634.4" y="2322.6" font-size="31" text-anchor="start" font-weight="normal" textLength="180.4" lengthAdjust="spacingAndGlyphs" >configuration</text>
</svg>
</body></html>
